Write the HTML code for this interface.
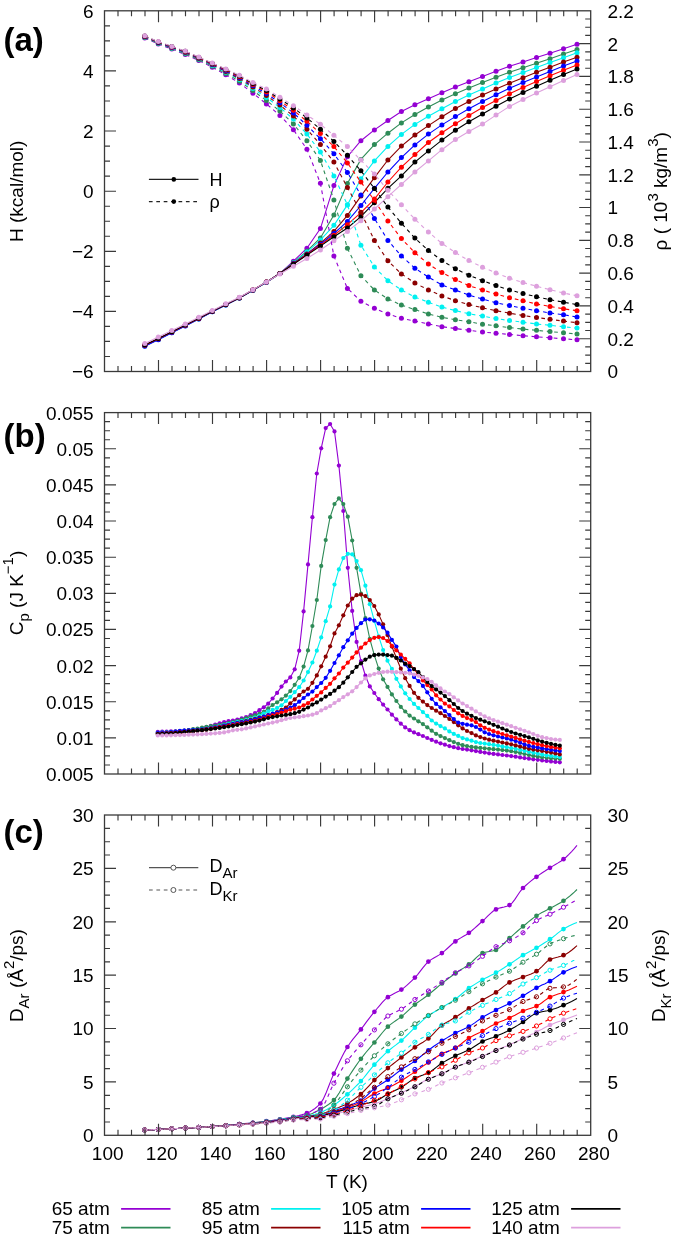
<!DOCTYPE html>
<html><head><meta charset="utf-8"><title>Figure</title>
<style>html,body{margin:0;padding:0;background:#fff;}svg{display:block;}</style>
</head><body>
<svg width="675" height="1238" viewBox="0 0 675 1238" style="font-family:'Liberation Sans',Arial,sans-serif">
<rect width="675" height="1238" fill="#fff"/>
<path d="M144.8 345.2 L158.3 338.7 L171.8 331.9 L185.3 325.2 L198.8 318.4 L212.3 311.3 L225.8 304.5 L239.4 297.8 L252.9 290.1 L266.4 282.1 L279.9 273.5 L293.4 261.2 L306.9 248.2 L320.4 228.6 L333.9 185.6 L347.4 156.7 L360.9 140.7 L374.4 129.9 L387.9 120.5 L401.4 111.5 L414.9 104.8 L428.4 98.8 L441.9 92.8 L455.4 87.1 L468.9 81.7 L482.5 76.6 L496.0 71.3 L509.5 66.3 L523.0 61.9 L536.5 57.6 L550.0 53.2 L563.5 48.8 L577.0 44.3" fill="none" stroke="#9400d3" stroke-width="1.1"/>
<circle cx="144.8" cy="345.2" r="2.5" fill="#9400d3"/>
<circle cx="158.3" cy="338.7" r="2.5" fill="#9400d3"/>
<circle cx="171.8" cy="331.9" r="2.5" fill="#9400d3"/>
<circle cx="185.3" cy="325.2" r="2.5" fill="#9400d3"/>
<circle cx="198.8" cy="318.4" r="2.5" fill="#9400d3"/>
<circle cx="212.3" cy="311.3" r="2.5" fill="#9400d3"/>
<circle cx="225.8" cy="304.5" r="2.5" fill="#9400d3"/>
<circle cx="239.4" cy="297.8" r="2.5" fill="#9400d3"/>
<circle cx="252.9" cy="290.1" r="2.5" fill="#9400d3"/>
<circle cx="266.4" cy="282.1" r="2.5" fill="#9400d3"/>
<circle cx="279.9" cy="273.5" r="2.5" fill="#9400d3"/>
<circle cx="293.4" cy="261.2" r="2.5" fill="#9400d3"/>
<circle cx="306.9" cy="248.2" r="2.5" fill="#9400d3"/>
<circle cx="320.4" cy="228.6" r="2.5" fill="#9400d3"/>
<circle cx="333.9" cy="185.6" r="2.5" fill="#9400d3"/>
<circle cx="347.4" cy="156.7" r="2.5" fill="#9400d3"/>
<circle cx="360.9" cy="140.7" r="2.5" fill="#9400d3"/>
<circle cx="374.4" cy="129.9" r="2.5" fill="#9400d3"/>
<circle cx="387.9" cy="120.5" r="2.5" fill="#9400d3"/>
<circle cx="401.4" cy="111.5" r="2.5" fill="#9400d3"/>
<circle cx="414.9" cy="104.8" r="2.5" fill="#9400d3"/>
<circle cx="428.4" cy="98.8" r="2.5" fill="#9400d3"/>
<circle cx="441.9" cy="92.8" r="2.5" fill="#9400d3"/>
<circle cx="455.4" cy="87.1" r="2.5" fill="#9400d3"/>
<circle cx="468.9" cy="81.7" r="2.5" fill="#9400d3"/>
<circle cx="482.5" cy="76.6" r="2.5" fill="#9400d3"/>
<circle cx="496.0" cy="71.3" r="2.5" fill="#9400d3"/>
<circle cx="509.5" cy="66.3" r="2.5" fill="#9400d3"/>
<circle cx="523.0" cy="61.9" r="2.5" fill="#9400d3"/>
<circle cx="536.5" cy="57.6" r="2.5" fill="#9400d3"/>
<circle cx="550.0" cy="53.2" r="2.5" fill="#9400d3"/>
<circle cx="563.5" cy="48.8" r="2.5" fill="#9400d3"/>
<circle cx="577.0" cy="44.3" r="2.5" fill="#9400d3"/>
<path d="M144.8 345.8 L158.3 339.3 L171.8 332.4 L185.3 325.6 L198.8 318.8 L212.3 311.6 L225.8 304.8 L239.4 297.9 L252.9 290.2 L266.4 282.2 L279.9 273.5 L293.4 262.4 L306.9 251.2 L320.4 238.0 L333.9 215.1 L347.4 183.5 L360.9 159.4 L374.4 144.6 L387.9 133.2 L401.4 122.9 L414.9 114.5 L428.4 107.0 L441.9 100.1 L455.4 93.7 L468.9 88.0 L482.5 82.6 L496.0 77.3 L509.5 72.3 L523.0 67.8 L536.5 63.3 L550.0 58.7 L563.5 54.1 L577.0 49.5" fill="none" stroke="#2e8b57" stroke-width="1.1"/>
<circle cx="144.8" cy="345.8" r="2.5" fill="#2e8b57"/>
<circle cx="158.3" cy="339.3" r="2.5" fill="#2e8b57"/>
<circle cx="171.8" cy="332.4" r="2.5" fill="#2e8b57"/>
<circle cx="185.3" cy="325.6" r="2.5" fill="#2e8b57"/>
<circle cx="198.8" cy="318.8" r="2.5" fill="#2e8b57"/>
<circle cx="212.3" cy="311.6" r="2.5" fill="#2e8b57"/>
<circle cx="225.8" cy="304.8" r="2.5" fill="#2e8b57"/>
<circle cx="239.4" cy="297.9" r="2.5" fill="#2e8b57"/>
<circle cx="252.9" cy="290.2" r="2.5" fill="#2e8b57"/>
<circle cx="266.4" cy="282.2" r="2.5" fill="#2e8b57"/>
<circle cx="279.9" cy="273.5" r="2.5" fill="#2e8b57"/>
<circle cx="293.4" cy="262.4" r="2.5" fill="#2e8b57"/>
<circle cx="306.9" cy="251.2" r="2.5" fill="#2e8b57"/>
<circle cx="320.4" cy="238.0" r="2.5" fill="#2e8b57"/>
<circle cx="333.9" cy="215.1" r="2.5" fill="#2e8b57"/>
<circle cx="347.4" cy="183.5" r="2.5" fill="#2e8b57"/>
<circle cx="360.9" cy="159.4" r="2.5" fill="#2e8b57"/>
<circle cx="374.4" cy="144.6" r="2.5" fill="#2e8b57"/>
<circle cx="387.9" cy="133.2" r="2.5" fill="#2e8b57"/>
<circle cx="401.4" cy="122.9" r="2.5" fill="#2e8b57"/>
<circle cx="414.9" cy="114.5" r="2.5" fill="#2e8b57"/>
<circle cx="428.4" cy="107.0" r="2.5" fill="#2e8b57"/>
<circle cx="441.9" cy="100.1" r="2.5" fill="#2e8b57"/>
<circle cx="455.4" cy="93.7" r="2.5" fill="#2e8b57"/>
<circle cx="468.9" cy="88.0" r="2.5" fill="#2e8b57"/>
<circle cx="482.5" cy="82.6" r="2.5" fill="#2e8b57"/>
<circle cx="496.0" cy="77.3" r="2.5" fill="#2e8b57"/>
<circle cx="509.5" cy="72.3" r="2.5" fill="#2e8b57"/>
<circle cx="523.0" cy="67.8" r="2.5" fill="#2e8b57"/>
<circle cx="536.5" cy="63.3" r="2.5" fill="#2e8b57"/>
<circle cx="550.0" cy="58.7" r="2.5" fill="#2e8b57"/>
<circle cx="563.5" cy="54.1" r="2.5" fill="#2e8b57"/>
<circle cx="577.0" cy="49.5" r="2.5" fill="#2e8b57"/>
<path d="M144.8 346.1 L158.3 339.5 L171.8 332.7 L185.3 325.8 L198.8 318.9 L212.3 311.8 L225.8 304.9 L239.4 298.0 L252.9 290.3 L266.4 282.2 L279.9 273.5 L293.4 262.7 L306.9 252.1 L320.4 240.1 L333.9 225.3 L347.4 204.9 L360.9 178.7 L374.4 160.9 L387.9 146.4 L401.4 134.4 L414.9 124.4 L428.4 116.3 L441.9 108.7 L455.4 101.6 L468.9 95.0 L482.5 88.9 L496.0 83.0 L509.5 77.5 L523.0 72.4 L536.5 67.5 L550.0 62.6 L563.5 57.7 L577.0 52.8" fill="none" stroke="#00f0f0" stroke-width="1.1"/>
<circle cx="144.8" cy="346.1" r="2.5" fill="#00f0f0"/>
<circle cx="158.3" cy="339.5" r="2.5" fill="#00f0f0"/>
<circle cx="171.8" cy="332.7" r="2.5" fill="#00f0f0"/>
<circle cx="185.3" cy="325.8" r="2.5" fill="#00f0f0"/>
<circle cx="198.8" cy="318.9" r="2.5" fill="#00f0f0"/>
<circle cx="212.3" cy="311.8" r="2.5" fill="#00f0f0"/>
<circle cx="225.8" cy="304.9" r="2.5" fill="#00f0f0"/>
<circle cx="239.4" cy="298.0" r="2.5" fill="#00f0f0"/>
<circle cx="252.9" cy="290.3" r="2.5" fill="#00f0f0"/>
<circle cx="266.4" cy="282.2" r="2.5" fill="#00f0f0"/>
<circle cx="279.9" cy="273.5" r="2.5" fill="#00f0f0"/>
<circle cx="293.4" cy="262.7" r="2.5" fill="#00f0f0"/>
<circle cx="306.9" cy="252.1" r="2.5" fill="#00f0f0"/>
<circle cx="320.4" cy="240.1" r="2.5" fill="#00f0f0"/>
<circle cx="333.9" cy="225.3" r="2.5" fill="#00f0f0"/>
<circle cx="347.4" cy="204.9" r="2.5" fill="#00f0f0"/>
<circle cx="360.9" cy="178.7" r="2.5" fill="#00f0f0"/>
<circle cx="374.4" cy="160.9" r="2.5" fill="#00f0f0"/>
<circle cx="387.9" cy="146.4" r="2.5" fill="#00f0f0"/>
<circle cx="401.4" cy="134.4" r="2.5" fill="#00f0f0"/>
<circle cx="414.9" cy="124.4" r="2.5" fill="#00f0f0"/>
<circle cx="428.4" cy="116.3" r="2.5" fill="#00f0f0"/>
<circle cx="441.9" cy="108.7" r="2.5" fill="#00f0f0"/>
<circle cx="455.4" cy="101.6" r="2.5" fill="#00f0f0"/>
<circle cx="468.9" cy="95.0" r="2.5" fill="#00f0f0"/>
<circle cx="482.5" cy="88.9" r="2.5" fill="#00f0f0"/>
<circle cx="496.0" cy="83.0" r="2.5" fill="#00f0f0"/>
<circle cx="509.5" cy="77.5" r="2.5" fill="#00f0f0"/>
<circle cx="523.0" cy="72.4" r="2.5" fill="#00f0f0"/>
<circle cx="536.5" cy="67.5" r="2.5" fill="#00f0f0"/>
<circle cx="550.0" cy="62.6" r="2.5" fill="#00f0f0"/>
<circle cx="563.5" cy="57.7" r="2.5" fill="#00f0f0"/>
<circle cx="577.0" cy="52.8" r="2.5" fill="#00f0f0"/>
<path d="M144.8 345.5 L158.3 339.0 L171.8 332.2 L185.3 325.4 L198.8 318.6 L212.3 311.5 L225.8 304.7 L239.4 297.9 L252.9 290.1 L266.4 282.1 L279.9 273.5 L293.4 263.3 L306.9 253.9 L320.4 243.1 L333.9 231.4 L347.4 215.4 L360.9 196.1 L374.4 177.7 L387.9 160.0 L401.4 146.1 L414.9 135.0 L428.4 125.6 L441.9 116.7 L455.4 108.5 L468.9 101.4 L482.5 94.9 L496.0 88.9 L509.5 83.2 L523.0 77.7 L536.5 72.3 L550.0 67.2 L563.5 62.1 L577.0 57.3" fill="none" stroke="#8b0000" stroke-width="1.1"/>
<circle cx="144.8" cy="345.5" r="2.5" fill="#8b0000"/>
<circle cx="158.3" cy="339.0" r="2.5" fill="#8b0000"/>
<circle cx="171.8" cy="332.2" r="2.5" fill="#8b0000"/>
<circle cx="185.3" cy="325.4" r="2.5" fill="#8b0000"/>
<circle cx="198.8" cy="318.6" r="2.5" fill="#8b0000"/>
<circle cx="212.3" cy="311.5" r="2.5" fill="#8b0000"/>
<circle cx="225.8" cy="304.7" r="2.5" fill="#8b0000"/>
<circle cx="239.4" cy="297.9" r="2.5" fill="#8b0000"/>
<circle cx="252.9" cy="290.1" r="2.5" fill="#8b0000"/>
<circle cx="266.4" cy="282.1" r="2.5" fill="#8b0000"/>
<circle cx="279.9" cy="273.5" r="2.5" fill="#8b0000"/>
<circle cx="293.4" cy="263.3" r="2.5" fill="#8b0000"/>
<circle cx="306.9" cy="253.9" r="2.5" fill="#8b0000"/>
<circle cx="320.4" cy="243.1" r="2.5" fill="#8b0000"/>
<circle cx="333.9" cy="231.4" r="2.5" fill="#8b0000"/>
<circle cx="347.4" cy="215.4" r="2.5" fill="#8b0000"/>
<circle cx="360.9" cy="196.1" r="2.5" fill="#8b0000"/>
<circle cx="374.4" cy="177.7" r="2.5" fill="#8b0000"/>
<circle cx="387.9" cy="160.0" r="2.5" fill="#8b0000"/>
<circle cx="401.4" cy="146.1" r="2.5" fill="#8b0000"/>
<circle cx="414.9" cy="135.0" r="2.5" fill="#8b0000"/>
<circle cx="428.4" cy="125.6" r="2.5" fill="#8b0000"/>
<circle cx="441.9" cy="116.7" r="2.5" fill="#8b0000"/>
<circle cx="455.4" cy="108.5" r="2.5" fill="#8b0000"/>
<circle cx="468.9" cy="101.4" r="2.5" fill="#8b0000"/>
<circle cx="482.5" cy="94.9" r="2.5" fill="#8b0000"/>
<circle cx="496.0" cy="88.9" r="2.5" fill="#8b0000"/>
<circle cx="509.5" cy="83.2" r="2.5" fill="#8b0000"/>
<circle cx="523.0" cy="77.7" r="2.5" fill="#8b0000"/>
<circle cx="536.5" cy="72.3" r="2.5" fill="#8b0000"/>
<circle cx="550.0" cy="67.2" r="2.5" fill="#8b0000"/>
<circle cx="563.5" cy="62.1" r="2.5" fill="#8b0000"/>
<circle cx="577.0" cy="57.3" r="2.5" fill="#8b0000"/>
<path d="M144.8 346.3 L158.3 339.7 L171.8 332.8 L185.3 325.9 L198.8 319.0 L212.3 311.8 L225.8 305.0 L239.4 298.1 L252.9 290.3 L266.4 282.2 L279.9 273.5 L293.4 263.6 L306.9 254.5 L320.4 244.3 L333.9 233.5 L347.4 221.4 L360.9 205.5 L374.4 188.3 L387.9 172.0 L401.4 157.6 L414.9 144.9 L428.4 134.1 L441.9 124.9 L455.4 116.6 L468.9 108.8 L482.5 101.6 L496.0 94.7 L509.5 88.3 L523.0 82.4 L536.5 76.9 L550.0 71.4 L563.5 66.1 L577.0 60.9" fill="none" stroke="#0000ff" stroke-width="1.1"/>
<circle cx="144.8" cy="346.3" r="2.5" fill="#0000ff"/>
<circle cx="158.3" cy="339.7" r="2.5" fill="#0000ff"/>
<circle cx="171.8" cy="332.8" r="2.5" fill="#0000ff"/>
<circle cx="185.3" cy="325.9" r="2.5" fill="#0000ff"/>
<circle cx="198.8" cy="319.0" r="2.5" fill="#0000ff"/>
<circle cx="212.3" cy="311.8" r="2.5" fill="#0000ff"/>
<circle cx="225.8" cy="305.0" r="2.5" fill="#0000ff"/>
<circle cx="239.4" cy="298.1" r="2.5" fill="#0000ff"/>
<circle cx="252.9" cy="290.3" r="2.5" fill="#0000ff"/>
<circle cx="266.4" cy="282.2" r="2.5" fill="#0000ff"/>
<circle cx="279.9" cy="273.5" r="2.5" fill="#0000ff"/>
<circle cx="293.4" cy="263.6" r="2.5" fill="#0000ff"/>
<circle cx="306.9" cy="254.5" r="2.5" fill="#0000ff"/>
<circle cx="320.4" cy="244.3" r="2.5" fill="#0000ff"/>
<circle cx="333.9" cy="233.5" r="2.5" fill="#0000ff"/>
<circle cx="347.4" cy="221.4" r="2.5" fill="#0000ff"/>
<circle cx="360.9" cy="205.5" r="2.5" fill="#0000ff"/>
<circle cx="374.4" cy="188.3" r="2.5" fill="#0000ff"/>
<circle cx="387.9" cy="172.0" r="2.5" fill="#0000ff"/>
<circle cx="401.4" cy="157.6" r="2.5" fill="#0000ff"/>
<circle cx="414.9" cy="144.9" r="2.5" fill="#0000ff"/>
<circle cx="428.4" cy="134.1" r="2.5" fill="#0000ff"/>
<circle cx="441.9" cy="124.9" r="2.5" fill="#0000ff"/>
<circle cx="455.4" cy="116.6" r="2.5" fill="#0000ff"/>
<circle cx="468.9" cy="108.8" r="2.5" fill="#0000ff"/>
<circle cx="482.5" cy="101.6" r="2.5" fill="#0000ff"/>
<circle cx="496.0" cy="94.7" r="2.5" fill="#0000ff"/>
<circle cx="509.5" cy="88.3" r="2.5" fill="#0000ff"/>
<circle cx="523.0" cy="82.4" r="2.5" fill="#0000ff"/>
<circle cx="536.5" cy="76.9" r="2.5" fill="#0000ff"/>
<circle cx="550.0" cy="71.4" r="2.5" fill="#0000ff"/>
<circle cx="563.5" cy="66.1" r="2.5" fill="#0000ff"/>
<circle cx="577.0" cy="60.9" r="2.5" fill="#0000ff"/>
<path d="M144.8 345.2 L158.3 338.7 L171.8 331.9 L185.3 325.2 L198.8 318.4 L212.3 311.3 L225.8 304.5 L239.4 297.8 L252.9 290.1 L266.4 282.1 L279.9 273.5 L293.4 263.9 L306.9 254.8 L320.4 245.2 L333.9 235.3 L347.4 224.7 L360.9 212.7 L374.4 199.1 L387.9 182.0 L401.4 167.2 L414.9 154.6 L428.4 142.5 L441.9 132.7 L455.4 123.8 L468.9 115.4 L482.5 107.6 L496.0 100.4 L509.5 93.7 L523.0 87.4 L536.5 81.4 L550.0 75.7 L563.5 70.2 L577.0 65.1" fill="none" stroke="#ff0000" stroke-width="1.1"/>
<circle cx="144.8" cy="345.2" r="2.5" fill="#ff0000"/>
<circle cx="158.3" cy="338.7" r="2.5" fill="#ff0000"/>
<circle cx="171.8" cy="331.9" r="2.5" fill="#ff0000"/>
<circle cx="185.3" cy="325.2" r="2.5" fill="#ff0000"/>
<circle cx="198.8" cy="318.4" r="2.5" fill="#ff0000"/>
<circle cx="212.3" cy="311.3" r="2.5" fill="#ff0000"/>
<circle cx="225.8" cy="304.5" r="2.5" fill="#ff0000"/>
<circle cx="239.4" cy="297.8" r="2.5" fill="#ff0000"/>
<circle cx="252.9" cy="290.1" r="2.5" fill="#ff0000"/>
<circle cx="266.4" cy="282.1" r="2.5" fill="#ff0000"/>
<circle cx="279.9" cy="273.5" r="2.5" fill="#ff0000"/>
<circle cx="293.4" cy="263.9" r="2.5" fill="#ff0000"/>
<circle cx="306.9" cy="254.8" r="2.5" fill="#ff0000"/>
<circle cx="320.4" cy="245.2" r="2.5" fill="#ff0000"/>
<circle cx="333.9" cy="235.3" r="2.5" fill="#ff0000"/>
<circle cx="347.4" cy="224.7" r="2.5" fill="#ff0000"/>
<circle cx="360.9" cy="212.7" r="2.5" fill="#ff0000"/>
<circle cx="374.4" cy="199.1" r="2.5" fill="#ff0000"/>
<circle cx="387.9" cy="182.0" r="2.5" fill="#ff0000"/>
<circle cx="401.4" cy="167.2" r="2.5" fill="#ff0000"/>
<circle cx="414.9" cy="154.6" r="2.5" fill="#ff0000"/>
<circle cx="428.4" cy="142.5" r="2.5" fill="#ff0000"/>
<circle cx="441.9" cy="132.7" r="2.5" fill="#ff0000"/>
<circle cx="455.4" cy="123.8" r="2.5" fill="#ff0000"/>
<circle cx="468.9" cy="115.4" r="2.5" fill="#ff0000"/>
<circle cx="482.5" cy="107.6" r="2.5" fill="#ff0000"/>
<circle cx="496.0" cy="100.4" r="2.5" fill="#ff0000"/>
<circle cx="509.5" cy="93.7" r="2.5" fill="#ff0000"/>
<circle cx="523.0" cy="87.4" r="2.5" fill="#ff0000"/>
<circle cx="536.5" cy="81.4" r="2.5" fill="#ff0000"/>
<circle cx="550.0" cy="75.7" r="2.5" fill="#ff0000"/>
<circle cx="563.5" cy="70.2" r="2.5" fill="#ff0000"/>
<circle cx="577.0" cy="65.1" r="2.5" fill="#ff0000"/>
<path d="M144.8 344.9 L158.3 338.5 L171.8 331.7 L185.3 325.0 L198.8 318.2 L212.3 311.2 L225.8 304.4 L239.4 297.7 L252.9 290.0 L266.4 282.1 L279.9 273.5 L293.4 264.2 L306.9 255.1 L320.4 246.1 L333.9 236.8 L347.4 228.0 L360.9 216.6 L374.4 202.7 L387.9 188.3 L401.4 175.9 L414.9 162.1 L428.4 150.9 L441.9 140.1 L455.4 130.2 L468.9 121.7 L482.5 113.9 L496.0 106.3 L509.5 99.1 L523.0 92.5 L536.5 86.2 L550.0 80.2 L563.5 74.5 L577.0 69.0" fill="none" stroke="#000000" stroke-width="1.1"/>
<circle cx="144.8" cy="344.9" r="2.5" fill="#000000"/>
<circle cx="158.3" cy="338.5" r="2.5" fill="#000000"/>
<circle cx="171.8" cy="331.7" r="2.5" fill="#000000"/>
<circle cx="185.3" cy="325.0" r="2.5" fill="#000000"/>
<circle cx="198.8" cy="318.2" r="2.5" fill="#000000"/>
<circle cx="212.3" cy="311.2" r="2.5" fill="#000000"/>
<circle cx="225.8" cy="304.4" r="2.5" fill="#000000"/>
<circle cx="239.4" cy="297.7" r="2.5" fill="#000000"/>
<circle cx="252.9" cy="290.0" r="2.5" fill="#000000"/>
<circle cx="266.4" cy="282.1" r="2.5" fill="#000000"/>
<circle cx="279.9" cy="273.5" r="2.5" fill="#000000"/>
<circle cx="293.4" cy="264.2" r="2.5" fill="#000000"/>
<circle cx="306.9" cy="255.1" r="2.5" fill="#000000"/>
<circle cx="320.4" cy="246.1" r="2.5" fill="#000000"/>
<circle cx="333.9" cy="236.8" r="2.5" fill="#000000"/>
<circle cx="347.4" cy="228.0" r="2.5" fill="#000000"/>
<circle cx="360.9" cy="216.6" r="2.5" fill="#000000"/>
<circle cx="374.4" cy="202.7" r="2.5" fill="#000000"/>
<circle cx="387.9" cy="188.3" r="2.5" fill="#000000"/>
<circle cx="401.4" cy="175.9" r="2.5" fill="#000000"/>
<circle cx="414.9" cy="162.1" r="2.5" fill="#000000"/>
<circle cx="428.4" cy="150.9" r="2.5" fill="#000000"/>
<circle cx="441.9" cy="140.1" r="2.5" fill="#000000"/>
<circle cx="455.4" cy="130.2" r="2.5" fill="#000000"/>
<circle cx="468.9" cy="121.7" r="2.5" fill="#000000"/>
<circle cx="482.5" cy="113.9" r="2.5" fill="#000000"/>
<circle cx="496.0" cy="106.3" r="2.5" fill="#000000"/>
<circle cx="509.5" cy="99.1" r="2.5" fill="#000000"/>
<circle cx="523.0" cy="92.5" r="2.5" fill="#000000"/>
<circle cx="536.5" cy="86.2" r="2.5" fill="#000000"/>
<circle cx="550.0" cy="80.2" r="2.5" fill="#000000"/>
<circle cx="563.5" cy="74.5" r="2.5" fill="#000000"/>
<circle cx="577.0" cy="69.0" r="2.5" fill="#000000"/>
<path d="M144.8 343.4 L158.3 337.1 L171.8 330.5 L185.3 323.9 L198.8 317.3 L212.3 310.4 L225.8 303.8 L239.4 297.2 L252.9 289.7 L266.4 281.9 L279.9 274.1 L293.4 266.3 L306.9 258.5 L320.4 250.0 L333.9 240.7 L347.4 231.4 L360.9 220.8 L374.4 209.1 L387.9 196.7 L401.4 184.4 L414.9 172.0 L428.4 160.9 L441.9 149.7 L455.4 139.5 L468.9 131.6 L482.5 124.1 L496.0 115.1 L509.5 106.4 L523.0 99.5 L536.5 93.1 L550.0 86.7 L563.5 80.5 L577.0 74.4" fill="none" stroke="#dda0dd" stroke-width="1.1"/>
<circle cx="144.8" cy="343.4" r="2.5" fill="#dda0dd"/>
<circle cx="158.3" cy="337.1" r="2.5" fill="#dda0dd"/>
<circle cx="171.8" cy="330.5" r="2.5" fill="#dda0dd"/>
<circle cx="185.3" cy="323.9" r="2.5" fill="#dda0dd"/>
<circle cx="198.8" cy="317.3" r="2.5" fill="#dda0dd"/>
<circle cx="212.3" cy="310.4" r="2.5" fill="#dda0dd"/>
<circle cx="225.8" cy="303.8" r="2.5" fill="#dda0dd"/>
<circle cx="239.4" cy="297.2" r="2.5" fill="#dda0dd"/>
<circle cx="252.9" cy="289.7" r="2.5" fill="#dda0dd"/>
<circle cx="266.4" cy="281.9" r="2.5" fill="#dda0dd"/>
<circle cx="279.9" cy="274.1" r="2.5" fill="#dda0dd"/>
<circle cx="293.4" cy="266.3" r="2.5" fill="#dda0dd"/>
<circle cx="306.9" cy="258.5" r="2.5" fill="#dda0dd"/>
<circle cx="320.4" cy="250.0" r="2.5" fill="#dda0dd"/>
<circle cx="333.9" cy="240.7" r="2.5" fill="#dda0dd"/>
<circle cx="347.4" cy="231.4" r="2.5" fill="#dda0dd"/>
<circle cx="360.9" cy="220.8" r="2.5" fill="#dda0dd"/>
<circle cx="374.4" cy="209.1" r="2.5" fill="#dda0dd"/>
<circle cx="387.9" cy="196.7" r="2.5" fill="#dda0dd"/>
<circle cx="401.4" cy="184.4" r="2.5" fill="#dda0dd"/>
<circle cx="414.9" cy="172.0" r="2.5" fill="#dda0dd"/>
<circle cx="428.4" cy="160.9" r="2.5" fill="#dda0dd"/>
<circle cx="441.9" cy="149.7" r="2.5" fill="#dda0dd"/>
<circle cx="455.4" cy="139.5" r="2.5" fill="#dda0dd"/>
<circle cx="468.9" cy="131.6" r="2.5" fill="#dda0dd"/>
<circle cx="482.5" cy="124.1" r="2.5" fill="#dda0dd"/>
<circle cx="496.0" cy="115.1" r="2.5" fill="#dda0dd"/>
<circle cx="509.5" cy="106.4" r="2.5" fill="#dda0dd"/>
<circle cx="523.0" cy="99.5" r="2.5" fill="#dda0dd"/>
<circle cx="536.5" cy="93.1" r="2.5" fill="#dda0dd"/>
<circle cx="550.0" cy="86.7" r="2.5" fill="#dda0dd"/>
<circle cx="563.5" cy="80.5" r="2.5" fill="#dda0dd"/>
<circle cx="577.0" cy="74.4" r="2.5" fill="#dda0dd"/>
<path d="M144.8 38.0 L158.3 44.1 L171.8 49.0 L185.3 54.6 L198.8 60.5 L212.3 67.3 L225.8 74.8 L239.4 83.0 L252.9 93.2 L266.4 103.9 L279.9 115.4 L293.4 129.7 L306.9 149.2 L320.4 183.3 L333.9 256.0 L347.4 288.4 L360.9 301.2 L374.4 308.3 L387.9 314.0 L401.4 318.3 L414.9 321.1 L428.4 324.0 L441.9 326.7 L455.4 328.5 L468.9 330.3 L482.5 332.1 L496.0 333.2 L509.5 334.5 L523.0 335.7 L536.5 336.8 L550.0 337.8 L563.5 338.8 L577.0 339.8" fill="none" stroke="#9400d3" stroke-width="1.1" stroke-dasharray="3.7 3.7"/>
<circle cx="144.8" cy="38.0" r="2.5" fill="#9400d3"/>
<circle cx="158.3" cy="44.1" r="2.5" fill="#9400d3"/>
<circle cx="171.8" cy="49.0" r="2.5" fill="#9400d3"/>
<circle cx="185.3" cy="54.6" r="2.5" fill="#9400d3"/>
<circle cx="198.8" cy="60.5" r="2.5" fill="#9400d3"/>
<circle cx="212.3" cy="67.3" r="2.5" fill="#9400d3"/>
<circle cx="225.8" cy="74.8" r="2.5" fill="#9400d3"/>
<circle cx="239.4" cy="83.0" r="2.5" fill="#9400d3"/>
<circle cx="252.9" cy="93.2" r="2.5" fill="#9400d3"/>
<circle cx="266.4" cy="103.9" r="2.5" fill="#9400d3"/>
<circle cx="279.9" cy="115.4" r="2.5" fill="#9400d3"/>
<circle cx="293.4" cy="129.7" r="2.5" fill="#9400d3"/>
<circle cx="306.9" cy="149.2" r="2.5" fill="#9400d3"/>
<circle cx="320.4" cy="183.3" r="2.5" fill="#9400d3"/>
<circle cx="333.9" cy="256.0" r="2.5" fill="#9400d3"/>
<circle cx="347.4" cy="288.4" r="2.5" fill="#9400d3"/>
<circle cx="360.9" cy="301.2" r="2.5" fill="#9400d3"/>
<circle cx="374.4" cy="308.3" r="2.5" fill="#9400d3"/>
<circle cx="387.9" cy="314.0" r="2.5" fill="#9400d3"/>
<circle cx="401.4" cy="318.3" r="2.5" fill="#9400d3"/>
<circle cx="414.9" cy="321.1" r="2.5" fill="#9400d3"/>
<circle cx="428.4" cy="324.0" r="2.5" fill="#9400d3"/>
<circle cx="441.9" cy="326.7" r="2.5" fill="#9400d3"/>
<circle cx="455.4" cy="328.5" r="2.5" fill="#9400d3"/>
<circle cx="468.9" cy="330.3" r="2.5" fill="#9400d3"/>
<circle cx="482.5" cy="332.1" r="2.5" fill="#9400d3"/>
<circle cx="496.0" cy="333.2" r="2.5" fill="#9400d3"/>
<circle cx="509.5" cy="334.5" r="2.5" fill="#9400d3"/>
<circle cx="523.0" cy="335.7" r="2.5" fill="#9400d3"/>
<circle cx="536.5" cy="336.8" r="2.5" fill="#9400d3"/>
<circle cx="550.0" cy="337.8" r="2.5" fill="#9400d3"/>
<circle cx="563.5" cy="338.8" r="2.5" fill="#9400d3"/>
<circle cx="577.0" cy="339.8" r="2.5" fill="#9400d3"/>
<path d="M144.8 37.5 L158.3 43.5 L171.8 48.4 L185.3 53.8 L198.8 59.7 L212.3 66.2 L225.8 73.4 L239.4 81.2 L252.9 90.6 L266.4 100.4 L279.9 111.1 L293.4 123.9 L306.9 140.7 L320.4 160.4 L333.9 200.0 L347.4 248.3 L360.9 275.7 L374.4 290.0 L387.9 298.9 L401.4 305.1 L414.9 309.6 L428.4 314.0 L441.9 317.3 L455.4 319.8 L468.9 321.7 L482.5 324.2 L496.0 325.8 L509.5 327.6 L523.0 329.1 L536.5 330.3 L550.0 331.6 L563.5 332.7 L577.0 334.1" fill="none" stroke="#2e8b57" stroke-width="1.1" stroke-dasharray="3.7 3.7"/>
<circle cx="144.8" cy="37.5" r="2.5" fill="#2e8b57"/>
<circle cx="158.3" cy="43.5" r="2.5" fill="#2e8b57"/>
<circle cx="171.8" cy="48.4" r="2.5" fill="#2e8b57"/>
<circle cx="185.3" cy="53.8" r="2.5" fill="#2e8b57"/>
<circle cx="198.8" cy="59.7" r="2.5" fill="#2e8b57"/>
<circle cx="212.3" cy="66.2" r="2.5" fill="#2e8b57"/>
<circle cx="225.8" cy="73.4" r="2.5" fill="#2e8b57"/>
<circle cx="239.4" cy="81.2" r="2.5" fill="#2e8b57"/>
<circle cx="252.9" cy="90.6" r="2.5" fill="#2e8b57"/>
<circle cx="266.4" cy="100.4" r="2.5" fill="#2e8b57"/>
<circle cx="279.9" cy="111.1" r="2.5" fill="#2e8b57"/>
<circle cx="293.4" cy="123.9" r="2.5" fill="#2e8b57"/>
<circle cx="306.9" cy="140.7" r="2.5" fill="#2e8b57"/>
<circle cx="320.4" cy="160.4" r="2.5" fill="#2e8b57"/>
<circle cx="333.9" cy="200.0" r="2.5" fill="#2e8b57"/>
<circle cx="347.4" cy="248.3" r="2.5" fill="#2e8b57"/>
<circle cx="360.9" cy="275.7" r="2.5" fill="#2e8b57"/>
<circle cx="374.4" cy="290.0" r="2.5" fill="#2e8b57"/>
<circle cx="387.9" cy="298.9" r="2.5" fill="#2e8b57"/>
<circle cx="401.4" cy="305.1" r="2.5" fill="#2e8b57"/>
<circle cx="414.9" cy="309.6" r="2.5" fill="#2e8b57"/>
<circle cx="428.4" cy="314.0" r="2.5" fill="#2e8b57"/>
<circle cx="441.9" cy="317.3" r="2.5" fill="#2e8b57"/>
<circle cx="455.4" cy="319.8" r="2.5" fill="#2e8b57"/>
<circle cx="468.9" cy="321.7" r="2.5" fill="#2e8b57"/>
<circle cx="482.5" cy="324.2" r="2.5" fill="#2e8b57"/>
<circle cx="496.0" cy="325.8" r="2.5" fill="#2e8b57"/>
<circle cx="509.5" cy="327.6" r="2.5" fill="#2e8b57"/>
<circle cx="523.0" cy="329.1" r="2.5" fill="#2e8b57"/>
<circle cx="536.5" cy="330.3" r="2.5" fill="#2e8b57"/>
<circle cx="550.0" cy="331.6" r="2.5" fill="#2e8b57"/>
<circle cx="563.5" cy="332.7" r="2.5" fill="#2e8b57"/>
<circle cx="577.0" cy="334.1" r="2.5" fill="#2e8b57"/>
<path d="M144.8 37.0 L158.3 43.0 L171.8 47.9 L185.3 53.0 L198.8 59.0 L212.3 65.4 L225.8 72.2 L239.4 79.6 L252.9 88.5 L266.4 97.4 L279.9 107.5 L293.4 119.1 L306.9 134.1 L320.4 151.9 L333.9 175.9 L347.4 204.8 L360.9 245.2 L374.4 267.0 L387.9 280.7 L401.4 290.0 L414.9 297.1 L428.4 302.2 L441.9 307.1 L455.4 310.6 L468.9 313.7 L482.5 316.1 L496.0 318.6 L509.5 320.6 L523.0 322.2 L536.5 324.0 L550.0 325.3 L563.5 326.8 L577.0 328.1" fill="none" stroke="#00f0f0" stroke-width="1.1" stroke-dasharray="3.7 3.7"/>
<circle cx="144.8" cy="37.0" r="2.5" fill="#00f0f0"/>
<circle cx="158.3" cy="43.0" r="2.5" fill="#00f0f0"/>
<circle cx="171.8" cy="47.9" r="2.5" fill="#00f0f0"/>
<circle cx="185.3" cy="53.0" r="2.5" fill="#00f0f0"/>
<circle cx="198.8" cy="59.0" r="2.5" fill="#00f0f0"/>
<circle cx="212.3" cy="65.4" r="2.5" fill="#00f0f0"/>
<circle cx="225.8" cy="72.2" r="2.5" fill="#00f0f0"/>
<circle cx="239.4" cy="79.6" r="2.5" fill="#00f0f0"/>
<circle cx="252.9" cy="88.5" r="2.5" fill="#00f0f0"/>
<circle cx="266.4" cy="97.4" r="2.5" fill="#00f0f0"/>
<circle cx="279.9" cy="107.5" r="2.5" fill="#00f0f0"/>
<circle cx="293.4" cy="119.1" r="2.5" fill="#00f0f0"/>
<circle cx="306.9" cy="134.1" r="2.5" fill="#00f0f0"/>
<circle cx="320.4" cy="151.9" r="2.5" fill="#00f0f0"/>
<circle cx="333.9" cy="175.9" r="2.5" fill="#00f0f0"/>
<circle cx="347.4" cy="204.8" r="2.5" fill="#00f0f0"/>
<circle cx="360.9" cy="245.2" r="2.5" fill="#00f0f0"/>
<circle cx="374.4" cy="267.0" r="2.5" fill="#00f0f0"/>
<circle cx="387.9" cy="280.7" r="2.5" fill="#00f0f0"/>
<circle cx="401.4" cy="290.0" r="2.5" fill="#00f0f0"/>
<circle cx="414.9" cy="297.1" r="2.5" fill="#00f0f0"/>
<circle cx="428.4" cy="302.2" r="2.5" fill="#00f0f0"/>
<circle cx="441.9" cy="307.1" r="2.5" fill="#00f0f0"/>
<circle cx="455.4" cy="310.6" r="2.5" fill="#00f0f0"/>
<circle cx="468.9" cy="313.7" r="2.5" fill="#00f0f0"/>
<circle cx="482.5" cy="316.1" r="2.5" fill="#00f0f0"/>
<circle cx="496.0" cy="318.6" r="2.5" fill="#00f0f0"/>
<circle cx="509.5" cy="320.6" r="2.5" fill="#00f0f0"/>
<circle cx="523.0" cy="322.2" r="2.5" fill="#00f0f0"/>
<circle cx="536.5" cy="324.0" r="2.5" fill="#00f0f0"/>
<circle cx="550.0" cy="325.3" r="2.5" fill="#00f0f0"/>
<circle cx="563.5" cy="326.8" r="2.5" fill="#00f0f0"/>
<circle cx="577.0" cy="328.1" r="2.5" fill="#00f0f0"/>
<path d="M144.8 36.7 L158.3 42.7 L171.8 47.5 L185.3 52.6 L198.8 58.6 L212.3 64.8 L225.8 71.5 L239.4 78.6 L252.9 87.0 L266.4 95.5 L279.9 105.1 L293.4 116.0 L306.9 129.2 L320.4 144.6 L333.9 162.1 L347.4 187.4 L360.9 212.2 L374.4 240.4 L387.9 260.8 L401.4 273.9 L414.9 283.0 L428.4 290.0 L441.9 295.9 L455.4 300.7 L468.9 304.6 L482.5 307.8 L496.0 310.7 L509.5 313.2 L523.0 315.5 L536.5 317.5 L550.0 319.3 L563.5 321.1 L577.0 322.7" fill="none" stroke="#8b0000" stroke-width="1.1" stroke-dasharray="3.7 3.7"/>
<circle cx="144.8" cy="36.7" r="2.5" fill="#8b0000"/>
<circle cx="158.3" cy="42.7" r="2.5" fill="#8b0000"/>
<circle cx="171.8" cy="47.5" r="2.5" fill="#8b0000"/>
<circle cx="185.3" cy="52.6" r="2.5" fill="#8b0000"/>
<circle cx="198.8" cy="58.6" r="2.5" fill="#8b0000"/>
<circle cx="212.3" cy="64.8" r="2.5" fill="#8b0000"/>
<circle cx="225.8" cy="71.5" r="2.5" fill="#8b0000"/>
<circle cx="239.4" cy="78.6" r="2.5" fill="#8b0000"/>
<circle cx="252.9" cy="87.0" r="2.5" fill="#8b0000"/>
<circle cx="266.4" cy="95.5" r="2.5" fill="#8b0000"/>
<circle cx="279.9" cy="105.1" r="2.5" fill="#8b0000"/>
<circle cx="293.4" cy="116.0" r="2.5" fill="#8b0000"/>
<circle cx="306.9" cy="129.2" r="2.5" fill="#8b0000"/>
<circle cx="320.4" cy="144.6" r="2.5" fill="#8b0000"/>
<circle cx="333.9" cy="162.1" r="2.5" fill="#8b0000"/>
<circle cx="347.4" cy="187.4" r="2.5" fill="#8b0000"/>
<circle cx="360.9" cy="212.2" r="2.5" fill="#8b0000"/>
<circle cx="374.4" cy="240.4" r="2.5" fill="#8b0000"/>
<circle cx="387.9" cy="260.8" r="2.5" fill="#8b0000"/>
<circle cx="401.4" cy="273.9" r="2.5" fill="#8b0000"/>
<circle cx="414.9" cy="283.0" r="2.5" fill="#8b0000"/>
<circle cx="428.4" cy="290.0" r="2.5" fill="#8b0000"/>
<circle cx="441.9" cy="295.9" r="2.5" fill="#8b0000"/>
<circle cx="455.4" cy="300.7" r="2.5" fill="#8b0000"/>
<circle cx="468.9" cy="304.6" r="2.5" fill="#8b0000"/>
<circle cx="482.5" cy="307.8" r="2.5" fill="#8b0000"/>
<circle cx="496.0" cy="310.7" r="2.5" fill="#8b0000"/>
<circle cx="509.5" cy="313.2" r="2.5" fill="#8b0000"/>
<circle cx="523.0" cy="315.5" r="2.5" fill="#8b0000"/>
<circle cx="536.5" cy="317.5" r="2.5" fill="#8b0000"/>
<circle cx="550.0" cy="319.3" r="2.5" fill="#8b0000"/>
<circle cx="563.5" cy="321.1" r="2.5" fill="#8b0000"/>
<circle cx="577.0" cy="322.7" r="2.5" fill="#8b0000"/>
<path d="M144.8 36.4 L158.3 42.4 L171.8 47.2 L185.3 52.1 L198.8 58.1 L212.3 64.3 L225.8 70.7 L239.4 77.6 L252.9 85.6 L266.4 93.6 L279.9 102.8 L293.4 112.9 L306.9 125.3 L320.4 138.7 L333.9 153.8 L347.4 172.4 L360.9 195.1 L374.4 218.4 L387.9 240.4 L401.4 256.0 L414.9 268.2 L428.4 277.1 L441.9 284.9 L455.4 290.0 L468.9 295.1 L482.5 299.1 L496.0 302.7 L509.5 305.6 L523.0 308.3 L536.5 310.7 L550.0 313.0 L563.5 314.8 L577.0 317.0" fill="none" stroke="#0000ff" stroke-width="1.1" stroke-dasharray="3.7 3.7"/>
<circle cx="144.8" cy="36.4" r="2.5" fill="#0000ff"/>
<circle cx="158.3" cy="42.4" r="2.5" fill="#0000ff"/>
<circle cx="171.8" cy="47.2" r="2.5" fill="#0000ff"/>
<circle cx="185.3" cy="52.1" r="2.5" fill="#0000ff"/>
<circle cx="198.8" cy="58.1" r="2.5" fill="#0000ff"/>
<circle cx="212.3" cy="64.3" r="2.5" fill="#0000ff"/>
<circle cx="225.8" cy="70.7" r="2.5" fill="#0000ff"/>
<circle cx="239.4" cy="77.6" r="2.5" fill="#0000ff"/>
<circle cx="252.9" cy="85.6" r="2.5" fill="#0000ff"/>
<circle cx="266.4" cy="93.6" r="2.5" fill="#0000ff"/>
<circle cx="279.9" cy="102.8" r="2.5" fill="#0000ff"/>
<circle cx="293.4" cy="112.9" r="2.5" fill="#0000ff"/>
<circle cx="306.9" cy="125.3" r="2.5" fill="#0000ff"/>
<circle cx="320.4" cy="138.7" r="2.5" fill="#0000ff"/>
<circle cx="333.9" cy="153.8" r="2.5" fill="#0000ff"/>
<circle cx="347.4" cy="172.4" r="2.5" fill="#0000ff"/>
<circle cx="360.9" cy="195.1" r="2.5" fill="#0000ff"/>
<circle cx="374.4" cy="218.4" r="2.5" fill="#0000ff"/>
<circle cx="387.9" cy="240.4" r="2.5" fill="#0000ff"/>
<circle cx="401.4" cy="256.0" r="2.5" fill="#0000ff"/>
<circle cx="414.9" cy="268.2" r="2.5" fill="#0000ff"/>
<circle cx="428.4" cy="277.1" r="2.5" fill="#0000ff"/>
<circle cx="441.9" cy="284.9" r="2.5" fill="#0000ff"/>
<circle cx="455.4" cy="290.0" r="2.5" fill="#0000ff"/>
<circle cx="468.9" cy="295.1" r="2.5" fill="#0000ff"/>
<circle cx="482.5" cy="299.1" r="2.5" fill="#0000ff"/>
<circle cx="496.0" cy="302.7" r="2.5" fill="#0000ff"/>
<circle cx="509.5" cy="305.6" r="2.5" fill="#0000ff"/>
<circle cx="523.0" cy="308.3" r="2.5" fill="#0000ff"/>
<circle cx="536.5" cy="310.7" r="2.5" fill="#0000ff"/>
<circle cx="550.0" cy="313.0" r="2.5" fill="#0000ff"/>
<circle cx="563.5" cy="314.8" r="2.5" fill="#0000ff"/>
<circle cx="577.0" cy="317.0" r="2.5" fill="#0000ff"/>
<path d="M144.8 36.2 L158.3 42.1 L171.8 46.9 L185.3 51.7 L198.8 57.7 L212.3 63.8 L225.8 70.0 L239.4 76.8 L252.9 84.4 L266.4 91.9 L279.9 100.8 L293.4 110.3 L306.9 121.3 L320.4 133.5 L333.9 146.6 L347.4 162.9 L360.9 182.1 L374.4 200.3 L387.9 220.9 L401.4 238.6 L414.9 252.7 L428.4 264.1 L441.9 272.6 L455.4 279.5 L468.9 285.6 L482.5 290.0 L496.0 294.1 L509.5 297.7 L523.0 300.7 L536.5 304.0 L550.0 306.5 L563.5 308.8 L577.0 310.7" fill="none" stroke="#ff0000" stroke-width="1.1" stroke-dasharray="3.7 3.7"/>
<circle cx="144.8" cy="36.2" r="2.5" fill="#ff0000"/>
<circle cx="158.3" cy="42.1" r="2.5" fill="#ff0000"/>
<circle cx="171.8" cy="46.9" r="2.5" fill="#ff0000"/>
<circle cx="185.3" cy="51.7" r="2.5" fill="#ff0000"/>
<circle cx="198.8" cy="57.7" r="2.5" fill="#ff0000"/>
<circle cx="212.3" cy="63.8" r="2.5" fill="#ff0000"/>
<circle cx="225.8" cy="70.0" r="2.5" fill="#ff0000"/>
<circle cx="239.4" cy="76.8" r="2.5" fill="#ff0000"/>
<circle cx="252.9" cy="84.4" r="2.5" fill="#ff0000"/>
<circle cx="266.4" cy="91.9" r="2.5" fill="#ff0000"/>
<circle cx="279.9" cy="100.8" r="2.5" fill="#ff0000"/>
<circle cx="293.4" cy="110.3" r="2.5" fill="#ff0000"/>
<circle cx="306.9" cy="121.3" r="2.5" fill="#ff0000"/>
<circle cx="320.4" cy="133.5" r="2.5" fill="#ff0000"/>
<circle cx="333.9" cy="146.6" r="2.5" fill="#ff0000"/>
<circle cx="347.4" cy="162.9" r="2.5" fill="#ff0000"/>
<circle cx="360.9" cy="182.1" r="2.5" fill="#ff0000"/>
<circle cx="374.4" cy="200.3" r="2.5" fill="#ff0000"/>
<circle cx="387.9" cy="220.9" r="2.5" fill="#ff0000"/>
<circle cx="401.4" cy="238.6" r="2.5" fill="#ff0000"/>
<circle cx="414.9" cy="252.7" r="2.5" fill="#ff0000"/>
<circle cx="428.4" cy="264.1" r="2.5" fill="#ff0000"/>
<circle cx="441.9" cy="272.6" r="2.5" fill="#ff0000"/>
<circle cx="455.4" cy="279.5" r="2.5" fill="#ff0000"/>
<circle cx="468.9" cy="285.6" r="2.5" fill="#ff0000"/>
<circle cx="482.5" cy="290.0" r="2.5" fill="#ff0000"/>
<circle cx="496.0" cy="294.1" r="2.5" fill="#ff0000"/>
<circle cx="509.5" cy="297.7" r="2.5" fill="#ff0000"/>
<circle cx="523.0" cy="300.7" r="2.5" fill="#ff0000"/>
<circle cx="536.5" cy="304.0" r="2.5" fill="#ff0000"/>
<circle cx="550.0" cy="306.5" r="2.5" fill="#ff0000"/>
<circle cx="563.5" cy="308.8" r="2.5" fill="#ff0000"/>
<circle cx="577.0" cy="310.7" r="2.5" fill="#ff0000"/>
<path d="M144.8 35.9 L158.3 41.9 L171.8 46.6 L185.3 51.3 L198.8 57.4 L212.3 63.4 L225.8 69.4 L239.4 76.0 L252.9 83.4 L266.4 90.5 L279.9 99.0 L293.4 107.9 L306.9 117.9 L320.4 129.2 L333.9 141.4 L347.4 155.3 L360.9 170.8 L374.4 188.5 L387.9 207.1 L401.4 223.2 L414.9 238.1 L428.4 250.4 L441.9 260.5 L455.4 268.8 L468.9 275.2 L482.5 280.7 L496.0 285.6 L509.5 290.0 L523.0 293.5 L536.5 296.8 L550.0 299.7 L563.5 302.2 L577.0 304.6" fill="none" stroke="#000000" stroke-width="1.1" stroke-dasharray="3.7 3.7"/>
<circle cx="144.8" cy="35.9" r="2.5" fill="#000000"/>
<circle cx="158.3" cy="41.9" r="2.5" fill="#000000"/>
<circle cx="171.8" cy="46.6" r="2.5" fill="#000000"/>
<circle cx="185.3" cy="51.3" r="2.5" fill="#000000"/>
<circle cx="198.8" cy="57.4" r="2.5" fill="#000000"/>
<circle cx="212.3" cy="63.4" r="2.5" fill="#000000"/>
<circle cx="225.8" cy="69.4" r="2.5" fill="#000000"/>
<circle cx="239.4" cy="76.0" r="2.5" fill="#000000"/>
<circle cx="252.9" cy="83.4" r="2.5" fill="#000000"/>
<circle cx="266.4" cy="90.5" r="2.5" fill="#000000"/>
<circle cx="279.9" cy="99.0" r="2.5" fill="#000000"/>
<circle cx="293.4" cy="107.9" r="2.5" fill="#000000"/>
<circle cx="306.9" cy="117.9" r="2.5" fill="#000000"/>
<circle cx="320.4" cy="129.2" r="2.5" fill="#000000"/>
<circle cx="333.9" cy="141.4" r="2.5" fill="#000000"/>
<circle cx="347.4" cy="155.3" r="2.5" fill="#000000"/>
<circle cx="360.9" cy="170.8" r="2.5" fill="#000000"/>
<circle cx="374.4" cy="188.5" r="2.5" fill="#000000"/>
<circle cx="387.9" cy="207.1" r="2.5" fill="#000000"/>
<circle cx="401.4" cy="223.2" r="2.5" fill="#000000"/>
<circle cx="414.9" cy="238.1" r="2.5" fill="#000000"/>
<circle cx="428.4" cy="250.4" r="2.5" fill="#000000"/>
<circle cx="441.9" cy="260.5" r="2.5" fill="#000000"/>
<circle cx="455.4" cy="268.8" r="2.5" fill="#000000"/>
<circle cx="468.9" cy="275.2" r="2.5" fill="#000000"/>
<circle cx="482.5" cy="280.7" r="2.5" fill="#000000"/>
<circle cx="496.0" cy="285.6" r="2.5" fill="#000000"/>
<circle cx="509.5" cy="290.0" r="2.5" fill="#000000"/>
<circle cx="523.0" cy="293.5" r="2.5" fill="#000000"/>
<circle cx="536.5" cy="296.8" r="2.5" fill="#000000"/>
<circle cx="550.0" cy="299.7" r="2.5" fill="#000000"/>
<circle cx="563.5" cy="302.2" r="2.5" fill="#000000"/>
<circle cx="577.0" cy="304.6" r="2.5" fill="#000000"/>
<path d="M144.8 35.7 L158.3 41.6 L171.8 46.4 L185.3 51.0 L198.8 57.1 L212.3 63.0 L225.8 68.9 L239.4 75.3 L252.9 82.4 L266.4 89.1 L279.9 97.3 L293.4 105.7 L306.9 114.9 L320.4 124.3 L333.9 135.3 L347.4 146.6 L360.9 160.1 L374.4 174.1 L387.9 190.3 L401.4 204.8 L414.9 219.2 L428.4 232.0 L441.9 243.4 L455.4 252.6 L468.9 260.6 L482.5 267.2 L496.0 272.9 L509.5 278.2 L523.0 282.6 L536.5 286.2 L550.0 289.7 L563.5 293.0 L577.0 295.8" fill="none" stroke="#dda0dd" stroke-width="1.1" stroke-dasharray="3.7 3.7"/>
<circle cx="144.8" cy="35.7" r="2.5" fill="#dda0dd"/>
<circle cx="158.3" cy="41.6" r="2.5" fill="#dda0dd"/>
<circle cx="171.8" cy="46.4" r="2.5" fill="#dda0dd"/>
<circle cx="185.3" cy="51.0" r="2.5" fill="#dda0dd"/>
<circle cx="198.8" cy="57.1" r="2.5" fill="#dda0dd"/>
<circle cx="212.3" cy="63.0" r="2.5" fill="#dda0dd"/>
<circle cx="225.8" cy="68.9" r="2.5" fill="#dda0dd"/>
<circle cx="239.4" cy="75.3" r="2.5" fill="#dda0dd"/>
<circle cx="252.9" cy="82.4" r="2.5" fill="#dda0dd"/>
<circle cx="266.4" cy="89.1" r="2.5" fill="#dda0dd"/>
<circle cx="279.9" cy="97.3" r="2.5" fill="#dda0dd"/>
<circle cx="293.4" cy="105.7" r="2.5" fill="#dda0dd"/>
<circle cx="306.9" cy="114.9" r="2.5" fill="#dda0dd"/>
<circle cx="320.4" cy="124.3" r="2.5" fill="#dda0dd"/>
<circle cx="333.9" cy="135.3" r="2.5" fill="#dda0dd"/>
<circle cx="347.4" cy="146.6" r="2.5" fill="#dda0dd"/>
<circle cx="360.9" cy="160.1" r="2.5" fill="#dda0dd"/>
<circle cx="374.4" cy="174.1" r="2.5" fill="#dda0dd"/>
<circle cx="387.9" cy="190.3" r="2.5" fill="#dda0dd"/>
<circle cx="401.4" cy="204.8" r="2.5" fill="#dda0dd"/>
<circle cx="414.9" cy="219.2" r="2.5" fill="#dda0dd"/>
<circle cx="428.4" cy="232.0" r="2.5" fill="#dda0dd"/>
<circle cx="441.9" cy="243.4" r="2.5" fill="#dda0dd"/>
<circle cx="455.4" cy="252.6" r="2.5" fill="#dda0dd"/>
<circle cx="468.9" cy="260.6" r="2.5" fill="#dda0dd"/>
<circle cx="482.5" cy="267.2" r="2.5" fill="#dda0dd"/>
<circle cx="496.0" cy="272.9" r="2.5" fill="#dda0dd"/>
<circle cx="509.5" cy="278.2" r="2.5" fill="#dda0dd"/>
<circle cx="523.0" cy="282.6" r="2.5" fill="#dda0dd"/>
<circle cx="536.5" cy="286.2" r="2.5" fill="#dda0dd"/>
<circle cx="550.0" cy="289.7" r="2.5" fill="#dda0dd"/>
<circle cx="563.5" cy="293.0" r="2.5" fill="#dda0dd"/>
<circle cx="577.0" cy="295.8" r="2.5" fill="#dda0dd"/>
<rect x="104.5" y="10.8" width="486.2" height="360.7" fill="none" stroke="#3a3a3a" stroke-width="1.3"/>
<path d="M118.0 371.5v-5.5M118.0 10.8v5.5M131.5 371.5v-5.5M131.5 10.8v5.5M145.0 371.5v-5.5M145.0 10.8v5.5M158.5 371.5v-11.5M158.5 10.8v11.5M172.0 371.5v-5.5M172.0 10.8v5.5M185.5 371.5v-5.5M185.5 10.8v5.5M199.0 371.5v-5.5M199.0 10.8v5.5M212.5 371.5v-11.5M212.5 10.8v11.5M226.1 371.5v-5.5M226.1 10.8v5.5M239.6 371.5v-5.5M239.6 10.8v5.5M253.1 371.5v-5.5M253.1 10.8v5.5M266.6 371.5v-11.5M266.6 10.8v11.5M280.1 371.5v-5.5M280.1 10.8v5.5M293.6 371.5v-5.5M293.6 10.8v5.5M307.1 371.5v-5.5M307.1 10.8v5.5M320.6 371.5v-11.5M320.6 10.8v11.5M334.1 371.5v-5.5M334.1 10.8v5.5M347.6 371.5v-5.5M347.6 10.8v5.5M361.1 371.5v-5.5M361.1 10.8v5.5M374.6 371.5v-11.5M374.6 10.8v11.5M388.1 371.5v-5.5M388.1 10.8v5.5M401.6 371.5v-5.5M401.6 10.8v5.5M415.1 371.5v-5.5M415.1 10.8v5.5M428.6 371.5v-11.5M428.6 10.8v11.5M442.1 371.5v-5.5M442.1 10.8v5.5M455.6 371.5v-5.5M455.6 10.8v5.5M469.1 371.5v-5.5M469.1 10.8v5.5M482.7 371.5v-11.5M482.7 10.8v11.5M496.2 371.5v-5.5M496.2 10.8v5.5M509.7 371.5v-5.5M509.7 10.8v5.5M523.2 371.5v-5.5M523.2 10.8v5.5M536.7 371.5v-11.5M536.7 10.8v11.5M550.2 371.5v-5.5M550.2 10.8v5.5M563.7 371.5v-5.5M563.7 10.8v5.5M577.2 371.5v-5.5M577.2 10.8v5.5" stroke="#3a3a3a" stroke-width="1.15" fill="none"/>
<path d="M104.5 356.5h5.5M104.5 341.4h5.5M104.5 326.4h5.5M104.5 311.4h11.5M104.5 296.4h5.5M104.5 281.3h5.5M104.5 266.3h5.5M104.5 251.3h11.5M104.5 236.2h5.5M104.5 221.2h5.5M104.5 206.2h5.5M104.5 191.2h11.5M104.5 176.1h5.5M104.5 161.1h5.5M104.5 146.1h5.5M104.5 131.0h11.5M104.5 116.0h5.5M104.5 101.0h5.5M104.5 85.9h5.5M104.5 70.9h11.5M104.5 55.9h5.5M104.5 40.9h5.5M104.5 25.8h5.5" stroke="#3a3a3a" stroke-width="1.15" fill="none"/>
<path d="M590.7 363.3h-5.5M590.7 355.1h-5.5M590.7 346.9h-5.5M590.7 338.7h-11.5M590.7 330.5h-5.5M590.7 322.3h-5.5M590.7 314.1h-5.5M590.7 305.9h-11.5M590.7 297.7h-5.5M590.7 289.5h-5.5M590.7 281.3h-5.5M590.7 273.1h-11.5M590.7 264.9h-5.5M590.7 256.7h-5.5M590.7 248.5h-5.5M590.7 240.3h-11.5M590.7 232.1h-5.5M590.7 223.9h-5.5M590.7 215.7h-5.5M590.7 207.5h-11.5M590.7 199.3h-5.5M590.7 191.2h-5.5M590.7 183.0h-5.5M590.7 174.8h-11.5M590.7 166.6h-5.5M590.7 158.4h-5.5M590.7 150.2h-5.5M590.7 142.0h-11.5M590.7 133.8h-5.5M590.7 125.6h-5.5M590.7 117.4h-5.5M590.7 109.2h-11.5M590.7 101.0h-5.5M590.7 92.8h-5.5M590.7 84.6h-5.5M590.7 76.4h-11.5M590.7 68.2h-5.5M590.7 60.0h-5.5M590.7 51.8h-5.5M590.7 43.6h-11.5M590.7 35.4h-5.5M590.7 27.2h-5.5M590.7 19.0h-5.5" stroke="#3a3a3a" stroke-width="1.15" fill="none"/>
<text x="93.6" y="378.4" text-anchor="end" font-size="19">&#8722;6</text>
<text x="93.6" y="318.3" text-anchor="end" font-size="19">&#8722;4</text>
<text x="93.6" y="258.2" text-anchor="end" font-size="19">&#8722;2</text>
<text x="93.6" y="198.1" text-anchor="end" font-size="19">0</text>
<text x="93.6" y="137.9" text-anchor="end" font-size="19">2</text>
<text x="93.6" y="77.8" text-anchor="end" font-size="19">4</text>
<text x="93.6" y="17.7" text-anchor="end" font-size="19">6</text>
<text x="607.5" y="378.4" text-anchor="start" font-size="19">0</text>
<text x="607.5" y="345.6" text-anchor="start" font-size="19">0.2</text>
<text x="607.5" y="312.8" text-anchor="start" font-size="19">0.4</text>
<text x="607.5" y="280.0" text-anchor="start" font-size="19">0.6</text>
<text x="607.5" y="247.2" text-anchor="start" font-size="19">0.8</text>
<text x="607.5" y="214.4" text-anchor="start" font-size="19">1</text>
<text x="607.5" y="181.7" text-anchor="start" font-size="19">1.2</text>
<text x="607.5" y="148.9" text-anchor="start" font-size="19">1.4</text>
<text x="607.5" y="116.1" text-anchor="start" font-size="19">1.6</text>
<text x="607.5" y="83.3" text-anchor="start" font-size="19">1.8</text>
<text x="607.5" y="50.5" text-anchor="start" font-size="19">2</text>
<text x="607.5" y="17.7" text-anchor="start" font-size="19">2.2</text>
<path d="M148.9 179.4H198.5" stroke="#222" stroke-width="1.2"/>
<circle cx="173.8" cy="179.4" r="2.3" fill="#000"/>
<path d="M148.9 201.6H198.5" stroke="#222" stroke-width="1.2" stroke-dasharray="3.7 3.7"/>
<circle cx="173.8" cy="201.6" r="2.3" fill="#000"/>
<text x="209.5" y="185.5" text-anchor="start" font-size="18">H</text>
<text x="209.5" y="207.6" text-anchor="start" font-size="18">&#961;</text>
<text x="3.5" y="50.5" font-size="33" font-weight="bold">(a)</text>
<text transform="translate(23.1,191.3) rotate(-90)" text-anchor="middle" font-size="19">H (kcal/mol)</text>
<text transform="translate(667.0,191.3) rotate(-90)" text-anchor="middle" font-size="19">&#961; ( 10<tspan dy="-9" font-size="15">3</tspan><tspan dy="9"> kg/m</tspan><tspan dy="-9" font-size="15">3</tspan><tspan dy="9">)</tspan></text>
<path d="M157.8 731.8 L162.2 731.7 L166.6 731.6 L171.0 731.4 L175.5 731.3 L179.9 731.0 L184.3 730.6 L188.7 730.1 L193.1 729.5 L197.5 729.0 L202.0 728.2 L206.4 727.1 L210.8 725.9 L215.2 724.6 L219.6 723.3 L224.1 722.1 L228.5 721.2 L232.9 720.6 L237.3 719.6 L241.7 718.4 L246.1 717.0 L250.6 715.2 L255.0 713.2 L259.4 710.2 L263.8 707.3 L268.2 703.7 L272.6 698.5 L277.1 692.9 L281.5 686.6 L285.9 681.5 L290.3 677.4 L294.7 669.3 L299.2 650.7 L303.6 611.4 L308.0 564.4 L312.4 517.2 L316.8 473.5 L321.2 448.3 L325.7 428.1 L330.1 424.0 L334.5 431.4 L338.9 465.6 L343.3 511.0 L347.8 567.8 L352.2 610.9 L356.6 641.9 L361.0 661.0 L365.4 675.7 L369.8 686.4 L374.3 693.0 L378.7 699.2 L383.1 704.6 L387.5 709.5 L391.9 714.7 L396.4 719.4 L400.8 723.7 L405.2 727.4 L409.6 730.2 L414.0 732.4 L418.4 734.2 L422.9 736.0 L427.3 738.0 L431.7 739.9 L436.1 741.7 L440.5 743.3 L444.9 744.7 L449.4 746.1 L453.8 747.2 L458.2 748.2 L462.6 749.0 L467.0 749.6 L471.5 750.3 L475.9 751.1 L480.3 751.9 L484.7 752.6 L489.1 753.3 L493.5 753.9 L498.0 754.4 L502.4 755.0 L506.8 755.5 L511.2 756.1 L515.6 756.7 L520.1 757.4 L524.5 758.1 L528.9 758.7 L533.3 759.3 L537.7 759.8 L542.1 760.4 L546.6 760.9 L551.0 761.4 L555.4 761.9 L559.8 762.3" fill="none" stroke="#9400d3" stroke-width="1.1"/>
<circle cx="157.8" cy="731.8" r="2.1" fill="#9400d3"/>
<circle cx="162.2" cy="731.7" r="2.1" fill="#9400d3"/>
<circle cx="166.6" cy="731.6" r="2.1" fill="#9400d3"/>
<circle cx="171.0" cy="731.4" r="2.1" fill="#9400d3"/>
<circle cx="175.5" cy="731.3" r="2.1" fill="#9400d3"/>
<circle cx="179.9" cy="731.0" r="2.1" fill="#9400d3"/>
<circle cx="184.3" cy="730.6" r="2.1" fill="#9400d3"/>
<circle cx="188.7" cy="730.1" r="2.1" fill="#9400d3"/>
<circle cx="193.1" cy="729.5" r="2.1" fill="#9400d3"/>
<circle cx="197.5" cy="729.0" r="2.1" fill="#9400d3"/>
<circle cx="202.0" cy="728.2" r="2.1" fill="#9400d3"/>
<circle cx="206.4" cy="727.1" r="2.1" fill="#9400d3"/>
<circle cx="210.8" cy="725.9" r="2.1" fill="#9400d3"/>
<circle cx="215.2" cy="724.6" r="2.1" fill="#9400d3"/>
<circle cx="219.6" cy="723.3" r="2.1" fill="#9400d3"/>
<circle cx="224.1" cy="722.1" r="2.1" fill="#9400d3"/>
<circle cx="228.5" cy="721.2" r="2.1" fill="#9400d3"/>
<circle cx="232.9" cy="720.6" r="2.1" fill="#9400d3"/>
<circle cx="237.3" cy="719.6" r="2.1" fill="#9400d3"/>
<circle cx="241.7" cy="718.4" r="2.1" fill="#9400d3"/>
<circle cx="246.1" cy="717.0" r="2.1" fill="#9400d3"/>
<circle cx="250.6" cy="715.2" r="2.1" fill="#9400d3"/>
<circle cx="255.0" cy="713.2" r="2.1" fill="#9400d3"/>
<circle cx="259.4" cy="710.2" r="2.1" fill="#9400d3"/>
<circle cx="263.8" cy="707.3" r="2.1" fill="#9400d3"/>
<circle cx="268.2" cy="703.7" r="2.1" fill="#9400d3"/>
<circle cx="272.6" cy="698.5" r="2.1" fill="#9400d3"/>
<circle cx="277.1" cy="692.9" r="2.1" fill="#9400d3"/>
<circle cx="281.5" cy="686.6" r="2.1" fill="#9400d3"/>
<circle cx="285.9" cy="681.5" r="2.1" fill="#9400d3"/>
<circle cx="290.3" cy="677.4" r="2.1" fill="#9400d3"/>
<circle cx="294.7" cy="669.3" r="2.1" fill="#9400d3"/>
<circle cx="299.2" cy="650.7" r="2.1" fill="#9400d3"/>
<circle cx="303.6" cy="611.4" r="2.1" fill="#9400d3"/>
<circle cx="308.0" cy="564.4" r="2.1" fill="#9400d3"/>
<circle cx="312.4" cy="517.2" r="2.1" fill="#9400d3"/>
<circle cx="316.8" cy="473.5" r="2.1" fill="#9400d3"/>
<circle cx="321.2" cy="448.3" r="2.1" fill="#9400d3"/>
<circle cx="325.7" cy="428.1" r="2.1" fill="#9400d3"/>
<circle cx="330.1" cy="424.0" r="2.1" fill="#9400d3"/>
<circle cx="334.5" cy="431.4" r="2.1" fill="#9400d3"/>
<circle cx="338.9" cy="465.6" r="2.1" fill="#9400d3"/>
<circle cx="343.3" cy="511.0" r="2.1" fill="#9400d3"/>
<circle cx="347.8" cy="567.8" r="2.1" fill="#9400d3"/>
<circle cx="352.2" cy="610.9" r="2.1" fill="#9400d3"/>
<circle cx="356.6" cy="641.9" r="2.1" fill="#9400d3"/>
<circle cx="361.0" cy="661.0" r="2.1" fill="#9400d3"/>
<circle cx="365.4" cy="675.7" r="2.1" fill="#9400d3"/>
<circle cx="369.8" cy="686.4" r="2.1" fill="#9400d3"/>
<circle cx="374.3" cy="693.0" r="2.1" fill="#9400d3"/>
<circle cx="378.7" cy="699.2" r="2.1" fill="#9400d3"/>
<circle cx="383.1" cy="704.6" r="2.1" fill="#9400d3"/>
<circle cx="387.5" cy="709.5" r="2.1" fill="#9400d3"/>
<circle cx="391.9" cy="714.7" r="2.1" fill="#9400d3"/>
<circle cx="396.4" cy="719.4" r="2.1" fill="#9400d3"/>
<circle cx="400.8" cy="723.7" r="2.1" fill="#9400d3"/>
<circle cx="405.2" cy="727.4" r="2.1" fill="#9400d3"/>
<circle cx="409.6" cy="730.2" r="2.1" fill="#9400d3"/>
<circle cx="414.0" cy="732.4" r="2.1" fill="#9400d3"/>
<circle cx="418.4" cy="734.2" r="2.1" fill="#9400d3"/>
<circle cx="422.9" cy="736.0" r="2.1" fill="#9400d3"/>
<circle cx="427.3" cy="738.0" r="2.1" fill="#9400d3"/>
<circle cx="431.7" cy="739.9" r="2.1" fill="#9400d3"/>
<circle cx="436.1" cy="741.7" r="2.1" fill="#9400d3"/>
<circle cx="440.5" cy="743.3" r="2.1" fill="#9400d3"/>
<circle cx="444.9" cy="744.7" r="2.1" fill="#9400d3"/>
<circle cx="449.4" cy="746.1" r="2.1" fill="#9400d3"/>
<circle cx="453.8" cy="747.2" r="2.1" fill="#9400d3"/>
<circle cx="458.2" cy="748.2" r="2.1" fill="#9400d3"/>
<circle cx="462.6" cy="749.0" r="2.1" fill="#9400d3"/>
<circle cx="467.0" cy="749.6" r="2.1" fill="#9400d3"/>
<circle cx="471.5" cy="750.3" r="2.1" fill="#9400d3"/>
<circle cx="475.9" cy="751.1" r="2.1" fill="#9400d3"/>
<circle cx="480.3" cy="751.9" r="2.1" fill="#9400d3"/>
<circle cx="484.7" cy="752.6" r="2.1" fill="#9400d3"/>
<circle cx="489.1" cy="753.3" r="2.1" fill="#9400d3"/>
<circle cx="493.5" cy="753.9" r="2.1" fill="#9400d3"/>
<circle cx="498.0" cy="754.4" r="2.1" fill="#9400d3"/>
<circle cx="502.4" cy="755.0" r="2.1" fill="#9400d3"/>
<circle cx="506.8" cy="755.5" r="2.1" fill="#9400d3"/>
<circle cx="511.2" cy="756.1" r="2.1" fill="#9400d3"/>
<circle cx="515.6" cy="756.7" r="2.1" fill="#9400d3"/>
<circle cx="520.1" cy="757.4" r="2.1" fill="#9400d3"/>
<circle cx="524.5" cy="758.1" r="2.1" fill="#9400d3"/>
<circle cx="528.9" cy="758.7" r="2.1" fill="#9400d3"/>
<circle cx="533.3" cy="759.3" r="2.1" fill="#9400d3"/>
<circle cx="537.7" cy="759.8" r="2.1" fill="#9400d3"/>
<circle cx="542.1" cy="760.4" r="2.1" fill="#9400d3"/>
<circle cx="546.6" cy="760.9" r="2.1" fill="#9400d3"/>
<circle cx="551.0" cy="761.4" r="2.1" fill="#9400d3"/>
<circle cx="555.4" cy="761.9" r="2.1" fill="#9400d3"/>
<circle cx="559.8" cy="762.3" r="2.1" fill="#9400d3"/>
<path d="M157.8 732.8 L162.2 732.6 L166.6 732.3 L171.0 732.0 L175.5 731.6 L179.9 731.1 L184.3 730.6 L188.7 730.0 L193.1 729.2 L197.5 728.5 L202.0 727.7 L206.4 726.9 L210.8 726.2 L215.2 725.5 L219.6 724.8 L224.1 724.0 L228.5 723.2 L232.9 722.2 L237.3 721.0 L241.7 719.7 L246.1 718.2 L250.6 716.7 L255.0 715.3 L259.4 713.8 L263.8 711.8 L268.2 708.4 L272.6 705.0 L277.1 702.3 L281.5 699.3 L285.9 695.6 L290.3 691.1 L294.7 684.8 L299.2 677.8 L303.6 666.6 L308.0 650.4 L312.4 626.0 L316.8 600.0 L321.2 565.9 L325.7 540.1 L330.1 517.2 L334.5 504.0 L338.9 498.4 L343.3 504.1 L347.8 516.7 L352.2 540.5 L356.6 567.8 L361.0 593.7 L365.4 618.2 L369.8 638.8 L374.3 655.1 L378.7 668.6 L383.1 679.3 L387.5 686.9 L391.9 694.4 L396.4 701.0 L400.8 706.9 L405.2 711.5 L409.6 715.6 L414.0 718.5 L418.4 721.3 L422.9 724.1 L427.3 727.3 L431.7 730.7 L436.1 733.8 L440.5 736.1 L444.9 738.1 L449.4 740.2 L453.8 742.1 L458.2 743.8 L462.6 745.2 L467.0 746.1 L471.5 746.9 L475.9 747.4 L480.3 747.9 L484.7 748.3 L489.1 748.8 L493.5 749.2 L498.0 749.6 L502.4 750.1 L506.8 750.6 L511.2 751.2 L515.6 751.9 L520.1 752.9 L524.5 754.0 L528.9 755.0 L533.3 755.9 L537.7 756.6 L542.1 757.3 L546.6 757.7 L551.0 758.2 L555.4 758.5 L559.8 758.8" fill="none" stroke="#2e8b57" stroke-width="1.1"/>
<circle cx="157.8" cy="732.8" r="2.1" fill="#2e8b57"/>
<circle cx="162.2" cy="732.6" r="2.1" fill="#2e8b57"/>
<circle cx="166.6" cy="732.3" r="2.1" fill="#2e8b57"/>
<circle cx="171.0" cy="732.0" r="2.1" fill="#2e8b57"/>
<circle cx="175.5" cy="731.6" r="2.1" fill="#2e8b57"/>
<circle cx="179.9" cy="731.1" r="2.1" fill="#2e8b57"/>
<circle cx="184.3" cy="730.6" r="2.1" fill="#2e8b57"/>
<circle cx="188.7" cy="730.0" r="2.1" fill="#2e8b57"/>
<circle cx="193.1" cy="729.2" r="2.1" fill="#2e8b57"/>
<circle cx="197.5" cy="728.5" r="2.1" fill="#2e8b57"/>
<circle cx="202.0" cy="727.7" r="2.1" fill="#2e8b57"/>
<circle cx="206.4" cy="726.9" r="2.1" fill="#2e8b57"/>
<circle cx="210.8" cy="726.2" r="2.1" fill="#2e8b57"/>
<circle cx="215.2" cy="725.5" r="2.1" fill="#2e8b57"/>
<circle cx="219.6" cy="724.8" r="2.1" fill="#2e8b57"/>
<circle cx="224.1" cy="724.0" r="2.1" fill="#2e8b57"/>
<circle cx="228.5" cy="723.2" r="2.1" fill="#2e8b57"/>
<circle cx="232.9" cy="722.2" r="2.1" fill="#2e8b57"/>
<circle cx="237.3" cy="721.0" r="2.1" fill="#2e8b57"/>
<circle cx="241.7" cy="719.7" r="2.1" fill="#2e8b57"/>
<circle cx="246.1" cy="718.2" r="2.1" fill="#2e8b57"/>
<circle cx="250.6" cy="716.7" r="2.1" fill="#2e8b57"/>
<circle cx="255.0" cy="715.3" r="2.1" fill="#2e8b57"/>
<circle cx="259.4" cy="713.8" r="2.1" fill="#2e8b57"/>
<circle cx="263.8" cy="711.8" r="2.1" fill="#2e8b57"/>
<circle cx="268.2" cy="708.4" r="2.1" fill="#2e8b57"/>
<circle cx="272.6" cy="705.0" r="2.1" fill="#2e8b57"/>
<circle cx="277.1" cy="702.3" r="2.1" fill="#2e8b57"/>
<circle cx="281.5" cy="699.3" r="2.1" fill="#2e8b57"/>
<circle cx="285.9" cy="695.6" r="2.1" fill="#2e8b57"/>
<circle cx="290.3" cy="691.1" r="2.1" fill="#2e8b57"/>
<circle cx="294.7" cy="684.8" r="2.1" fill="#2e8b57"/>
<circle cx="299.2" cy="677.8" r="2.1" fill="#2e8b57"/>
<circle cx="303.6" cy="666.6" r="2.1" fill="#2e8b57"/>
<circle cx="308.0" cy="650.4" r="2.1" fill="#2e8b57"/>
<circle cx="312.4" cy="626.0" r="2.1" fill="#2e8b57"/>
<circle cx="316.8" cy="600.0" r="2.1" fill="#2e8b57"/>
<circle cx="321.2" cy="565.9" r="2.1" fill="#2e8b57"/>
<circle cx="325.7" cy="540.1" r="2.1" fill="#2e8b57"/>
<circle cx="330.1" cy="517.2" r="2.1" fill="#2e8b57"/>
<circle cx="334.5" cy="504.0" r="2.1" fill="#2e8b57"/>
<circle cx="338.9" cy="498.4" r="2.1" fill="#2e8b57"/>
<circle cx="343.3" cy="504.1" r="2.1" fill="#2e8b57"/>
<circle cx="347.8" cy="516.7" r="2.1" fill="#2e8b57"/>
<circle cx="352.2" cy="540.5" r="2.1" fill="#2e8b57"/>
<circle cx="356.6" cy="567.8" r="2.1" fill="#2e8b57"/>
<circle cx="361.0" cy="593.7" r="2.1" fill="#2e8b57"/>
<circle cx="365.4" cy="618.2" r="2.1" fill="#2e8b57"/>
<circle cx="369.8" cy="638.8" r="2.1" fill="#2e8b57"/>
<circle cx="374.3" cy="655.1" r="2.1" fill="#2e8b57"/>
<circle cx="378.7" cy="668.6" r="2.1" fill="#2e8b57"/>
<circle cx="383.1" cy="679.3" r="2.1" fill="#2e8b57"/>
<circle cx="387.5" cy="686.9" r="2.1" fill="#2e8b57"/>
<circle cx="391.9" cy="694.4" r="2.1" fill="#2e8b57"/>
<circle cx="396.4" cy="701.0" r="2.1" fill="#2e8b57"/>
<circle cx="400.8" cy="706.9" r="2.1" fill="#2e8b57"/>
<circle cx="405.2" cy="711.5" r="2.1" fill="#2e8b57"/>
<circle cx="409.6" cy="715.6" r="2.1" fill="#2e8b57"/>
<circle cx="414.0" cy="718.5" r="2.1" fill="#2e8b57"/>
<circle cx="418.4" cy="721.3" r="2.1" fill="#2e8b57"/>
<circle cx="422.9" cy="724.1" r="2.1" fill="#2e8b57"/>
<circle cx="427.3" cy="727.3" r="2.1" fill="#2e8b57"/>
<circle cx="431.7" cy="730.7" r="2.1" fill="#2e8b57"/>
<circle cx="436.1" cy="733.8" r="2.1" fill="#2e8b57"/>
<circle cx="440.5" cy="736.1" r="2.1" fill="#2e8b57"/>
<circle cx="444.9" cy="738.1" r="2.1" fill="#2e8b57"/>
<circle cx="449.4" cy="740.2" r="2.1" fill="#2e8b57"/>
<circle cx="453.8" cy="742.1" r="2.1" fill="#2e8b57"/>
<circle cx="458.2" cy="743.8" r="2.1" fill="#2e8b57"/>
<circle cx="462.6" cy="745.2" r="2.1" fill="#2e8b57"/>
<circle cx="467.0" cy="746.1" r="2.1" fill="#2e8b57"/>
<circle cx="471.5" cy="746.9" r="2.1" fill="#2e8b57"/>
<circle cx="475.9" cy="747.4" r="2.1" fill="#2e8b57"/>
<circle cx="480.3" cy="747.9" r="2.1" fill="#2e8b57"/>
<circle cx="484.7" cy="748.3" r="2.1" fill="#2e8b57"/>
<circle cx="489.1" cy="748.8" r="2.1" fill="#2e8b57"/>
<circle cx="493.5" cy="749.2" r="2.1" fill="#2e8b57"/>
<circle cx="498.0" cy="749.6" r="2.1" fill="#2e8b57"/>
<circle cx="502.4" cy="750.1" r="2.1" fill="#2e8b57"/>
<circle cx="506.8" cy="750.6" r="2.1" fill="#2e8b57"/>
<circle cx="511.2" cy="751.2" r="2.1" fill="#2e8b57"/>
<circle cx="515.6" cy="751.9" r="2.1" fill="#2e8b57"/>
<circle cx="520.1" cy="752.9" r="2.1" fill="#2e8b57"/>
<circle cx="524.5" cy="754.0" r="2.1" fill="#2e8b57"/>
<circle cx="528.9" cy="755.0" r="2.1" fill="#2e8b57"/>
<circle cx="533.3" cy="755.9" r="2.1" fill="#2e8b57"/>
<circle cx="537.7" cy="756.6" r="2.1" fill="#2e8b57"/>
<circle cx="542.1" cy="757.3" r="2.1" fill="#2e8b57"/>
<circle cx="546.6" cy="757.7" r="2.1" fill="#2e8b57"/>
<circle cx="551.0" cy="758.2" r="2.1" fill="#2e8b57"/>
<circle cx="555.4" cy="758.5" r="2.1" fill="#2e8b57"/>
<circle cx="559.8" cy="758.8" r="2.1" fill="#2e8b57"/>
<path d="M157.8 732.8 L162.2 732.7 L166.6 732.6 L171.0 732.3 L175.5 732.0 L179.9 731.7 L184.3 731.3 L188.7 730.8 L193.1 730.4 L197.5 729.9 L202.0 729.4 L206.4 728.7 L210.8 727.9 L215.2 727.0 L219.6 726.0 L224.1 725.1 L228.5 724.1 L232.9 723.2 L237.3 722.2 L241.7 721.2 L246.1 720.1 L250.6 718.9 L255.0 717.5 L259.4 715.8 L263.8 713.5 L268.2 711.4 L272.6 709.9 L277.1 707.9 L281.5 705.3 L285.9 701.0 L290.3 696.8 L294.7 692.1 L299.2 687.2 L303.6 680.5 L308.0 672.1 L312.4 662.5 L316.8 650.7 L321.2 637.4 L325.7 621.2 L330.1 606.4 L334.5 584.6 L338.9 569.4 L343.3 558.1 L347.8 553.8 L352.2 554.3 L356.6 561.0 L361.0 570.2 L365.4 585.7 L369.8 604.2 L374.3 620.9 L378.7 636.4 L383.1 650.0 L387.5 660.7 L391.9 668.9 L396.4 678.8 L400.8 686.4 L405.2 693.3 L409.6 699.0 L414.0 703.9 L418.4 708.0 L422.9 712.1 L427.3 715.9 L431.7 720.5 L436.1 723.6 L440.5 726.1 L444.9 728.4 L449.4 731.4 L453.8 733.9 L458.2 735.9 L462.6 738.1 L467.0 739.4 L471.5 740.7 L475.9 742.1 L480.3 743.0 L484.7 743.6 L489.1 744.2 L493.5 744.9 L498.0 745.6 L502.4 746.4 L506.8 747.2 L511.2 748.0 L515.6 748.8 L520.1 749.8 L524.5 750.8 L528.9 751.8 L533.3 752.7 L537.7 753.7 L542.1 754.6 L546.6 755.3 L551.0 755.9 L555.4 756.5 L559.8 757.0" fill="none" stroke="#00f0f0" stroke-width="1.1"/>
<circle cx="157.8" cy="732.8" r="2.1" fill="#00f0f0"/>
<circle cx="162.2" cy="732.7" r="2.1" fill="#00f0f0"/>
<circle cx="166.6" cy="732.6" r="2.1" fill="#00f0f0"/>
<circle cx="171.0" cy="732.3" r="2.1" fill="#00f0f0"/>
<circle cx="175.5" cy="732.0" r="2.1" fill="#00f0f0"/>
<circle cx="179.9" cy="731.7" r="2.1" fill="#00f0f0"/>
<circle cx="184.3" cy="731.3" r="2.1" fill="#00f0f0"/>
<circle cx="188.7" cy="730.8" r="2.1" fill="#00f0f0"/>
<circle cx="193.1" cy="730.4" r="2.1" fill="#00f0f0"/>
<circle cx="197.5" cy="729.9" r="2.1" fill="#00f0f0"/>
<circle cx="202.0" cy="729.4" r="2.1" fill="#00f0f0"/>
<circle cx="206.4" cy="728.7" r="2.1" fill="#00f0f0"/>
<circle cx="210.8" cy="727.9" r="2.1" fill="#00f0f0"/>
<circle cx="215.2" cy="727.0" r="2.1" fill="#00f0f0"/>
<circle cx="219.6" cy="726.0" r="2.1" fill="#00f0f0"/>
<circle cx="224.1" cy="725.1" r="2.1" fill="#00f0f0"/>
<circle cx="228.5" cy="724.1" r="2.1" fill="#00f0f0"/>
<circle cx="232.9" cy="723.2" r="2.1" fill="#00f0f0"/>
<circle cx="237.3" cy="722.2" r="2.1" fill="#00f0f0"/>
<circle cx="241.7" cy="721.2" r="2.1" fill="#00f0f0"/>
<circle cx="246.1" cy="720.1" r="2.1" fill="#00f0f0"/>
<circle cx="250.6" cy="718.9" r="2.1" fill="#00f0f0"/>
<circle cx="255.0" cy="717.5" r="2.1" fill="#00f0f0"/>
<circle cx="259.4" cy="715.8" r="2.1" fill="#00f0f0"/>
<circle cx="263.8" cy="713.5" r="2.1" fill="#00f0f0"/>
<circle cx="268.2" cy="711.4" r="2.1" fill="#00f0f0"/>
<circle cx="272.6" cy="709.9" r="2.1" fill="#00f0f0"/>
<circle cx="277.1" cy="707.9" r="2.1" fill="#00f0f0"/>
<circle cx="281.5" cy="705.3" r="2.1" fill="#00f0f0"/>
<circle cx="285.9" cy="701.0" r="2.1" fill="#00f0f0"/>
<circle cx="290.3" cy="696.8" r="2.1" fill="#00f0f0"/>
<circle cx="294.7" cy="692.1" r="2.1" fill="#00f0f0"/>
<circle cx="299.2" cy="687.2" r="2.1" fill="#00f0f0"/>
<circle cx="303.6" cy="680.5" r="2.1" fill="#00f0f0"/>
<circle cx="308.0" cy="672.1" r="2.1" fill="#00f0f0"/>
<circle cx="312.4" cy="662.5" r="2.1" fill="#00f0f0"/>
<circle cx="316.8" cy="650.7" r="2.1" fill="#00f0f0"/>
<circle cx="321.2" cy="637.4" r="2.1" fill="#00f0f0"/>
<circle cx="325.7" cy="621.2" r="2.1" fill="#00f0f0"/>
<circle cx="330.1" cy="606.4" r="2.1" fill="#00f0f0"/>
<circle cx="334.5" cy="584.6" r="2.1" fill="#00f0f0"/>
<circle cx="338.9" cy="569.4" r="2.1" fill="#00f0f0"/>
<circle cx="343.3" cy="558.1" r="2.1" fill="#00f0f0"/>
<circle cx="347.8" cy="553.8" r="2.1" fill="#00f0f0"/>
<circle cx="352.2" cy="554.3" r="2.1" fill="#00f0f0"/>
<circle cx="356.6" cy="561.0" r="2.1" fill="#00f0f0"/>
<circle cx="361.0" cy="570.2" r="2.1" fill="#00f0f0"/>
<circle cx="365.4" cy="585.7" r="2.1" fill="#00f0f0"/>
<circle cx="369.8" cy="604.2" r="2.1" fill="#00f0f0"/>
<circle cx="374.3" cy="620.9" r="2.1" fill="#00f0f0"/>
<circle cx="378.7" cy="636.4" r="2.1" fill="#00f0f0"/>
<circle cx="383.1" cy="650.0" r="2.1" fill="#00f0f0"/>
<circle cx="387.5" cy="660.7" r="2.1" fill="#00f0f0"/>
<circle cx="391.9" cy="668.9" r="2.1" fill="#00f0f0"/>
<circle cx="396.4" cy="678.8" r="2.1" fill="#00f0f0"/>
<circle cx="400.8" cy="686.4" r="2.1" fill="#00f0f0"/>
<circle cx="405.2" cy="693.3" r="2.1" fill="#00f0f0"/>
<circle cx="409.6" cy="699.0" r="2.1" fill="#00f0f0"/>
<circle cx="414.0" cy="703.9" r="2.1" fill="#00f0f0"/>
<circle cx="418.4" cy="708.0" r="2.1" fill="#00f0f0"/>
<circle cx="422.9" cy="712.1" r="2.1" fill="#00f0f0"/>
<circle cx="427.3" cy="715.9" r="2.1" fill="#00f0f0"/>
<circle cx="431.7" cy="720.5" r="2.1" fill="#00f0f0"/>
<circle cx="436.1" cy="723.6" r="2.1" fill="#00f0f0"/>
<circle cx="440.5" cy="726.1" r="2.1" fill="#00f0f0"/>
<circle cx="444.9" cy="728.4" r="2.1" fill="#00f0f0"/>
<circle cx="449.4" cy="731.4" r="2.1" fill="#00f0f0"/>
<circle cx="453.8" cy="733.9" r="2.1" fill="#00f0f0"/>
<circle cx="458.2" cy="735.9" r="2.1" fill="#00f0f0"/>
<circle cx="462.6" cy="738.1" r="2.1" fill="#00f0f0"/>
<circle cx="467.0" cy="739.4" r="2.1" fill="#00f0f0"/>
<circle cx="471.5" cy="740.7" r="2.1" fill="#00f0f0"/>
<circle cx="475.9" cy="742.1" r="2.1" fill="#00f0f0"/>
<circle cx="480.3" cy="743.0" r="2.1" fill="#00f0f0"/>
<circle cx="484.7" cy="743.6" r="2.1" fill="#00f0f0"/>
<circle cx="489.1" cy="744.2" r="2.1" fill="#00f0f0"/>
<circle cx="493.5" cy="744.9" r="2.1" fill="#00f0f0"/>
<circle cx="498.0" cy="745.6" r="2.1" fill="#00f0f0"/>
<circle cx="502.4" cy="746.4" r="2.1" fill="#00f0f0"/>
<circle cx="506.8" cy="747.2" r="2.1" fill="#00f0f0"/>
<circle cx="511.2" cy="748.0" r="2.1" fill="#00f0f0"/>
<circle cx="515.6" cy="748.8" r="2.1" fill="#00f0f0"/>
<circle cx="520.1" cy="749.8" r="2.1" fill="#00f0f0"/>
<circle cx="524.5" cy="750.8" r="2.1" fill="#00f0f0"/>
<circle cx="528.9" cy="751.8" r="2.1" fill="#00f0f0"/>
<circle cx="533.3" cy="752.7" r="2.1" fill="#00f0f0"/>
<circle cx="537.7" cy="753.7" r="2.1" fill="#00f0f0"/>
<circle cx="542.1" cy="754.6" r="2.1" fill="#00f0f0"/>
<circle cx="546.6" cy="755.3" r="2.1" fill="#00f0f0"/>
<circle cx="551.0" cy="755.9" r="2.1" fill="#00f0f0"/>
<circle cx="555.4" cy="756.5" r="2.1" fill="#00f0f0"/>
<circle cx="559.8" cy="757.0" r="2.1" fill="#00f0f0"/>
<path d="M157.8 733.7 L162.2 733.5 L166.6 733.3 L171.0 733.1 L175.5 732.7 L179.9 732.3 L184.3 731.9 L188.7 731.4 L193.1 730.9 L197.5 730.4 L202.0 729.9 L206.4 729.2 L210.8 728.5 L215.2 727.6 L219.6 726.8 L224.1 725.9 L228.5 725.0 L232.9 724.0 L237.3 723.0 L241.7 722.0 L246.1 721.0 L250.6 719.9 L255.0 718.8 L259.4 717.7 L263.8 716.5 L268.2 715.2 L272.6 713.8 L277.1 712.0 L281.5 709.9 L285.9 707.5 L290.3 703.3 L294.7 699.4 L299.2 695.2 L303.6 691.5 L308.0 688.8 L312.4 682.8 L316.8 675.4 L321.2 666.3 L325.7 656.7 L330.1 646.3 L334.5 633.4 L338.9 625.3 L343.3 615.3 L347.8 605.5 L352.2 598.7 L356.6 595.2 L361.0 594.6 L365.4 596.1 L369.8 600.0 L374.3 606.0 L378.7 614.4 L383.1 624.3 L387.5 635.1 L391.9 646.6 L396.4 658.0 L400.8 668.7 L405.2 678.2 L409.6 685.9 L414.0 692.8 L418.4 697.8 L422.9 701.6 L427.3 705.1 L431.7 708.0 L436.1 710.7 L440.5 713.2 L444.9 716.0 L449.4 719.0 L453.8 722.1 L458.2 725.3 L462.6 728.4 L467.0 731.0 L471.5 733.1 L475.9 735.4 L480.3 737.1 L484.7 738.5 L489.1 739.7 L493.5 740.7 L498.0 741.6 L502.4 742.5 L506.8 743.4 L511.2 744.3 L515.6 745.4 L520.1 746.6 L524.5 747.7 L528.9 748.8 L533.3 749.6 L537.7 750.3 L542.1 751.0 L546.6 751.8 L551.0 752.6 L555.4 753.5 L559.8 754.4" fill="none" stroke="#8b0000" stroke-width="1.1"/>
<circle cx="157.8" cy="733.7" r="2.1" fill="#8b0000"/>
<circle cx="162.2" cy="733.5" r="2.1" fill="#8b0000"/>
<circle cx="166.6" cy="733.3" r="2.1" fill="#8b0000"/>
<circle cx="171.0" cy="733.1" r="2.1" fill="#8b0000"/>
<circle cx="175.5" cy="732.7" r="2.1" fill="#8b0000"/>
<circle cx="179.9" cy="732.3" r="2.1" fill="#8b0000"/>
<circle cx="184.3" cy="731.9" r="2.1" fill="#8b0000"/>
<circle cx="188.7" cy="731.4" r="2.1" fill="#8b0000"/>
<circle cx="193.1" cy="730.9" r="2.1" fill="#8b0000"/>
<circle cx="197.5" cy="730.4" r="2.1" fill="#8b0000"/>
<circle cx="202.0" cy="729.9" r="2.1" fill="#8b0000"/>
<circle cx="206.4" cy="729.2" r="2.1" fill="#8b0000"/>
<circle cx="210.8" cy="728.5" r="2.1" fill="#8b0000"/>
<circle cx="215.2" cy="727.6" r="2.1" fill="#8b0000"/>
<circle cx="219.6" cy="726.8" r="2.1" fill="#8b0000"/>
<circle cx="224.1" cy="725.9" r="2.1" fill="#8b0000"/>
<circle cx="228.5" cy="725.0" r="2.1" fill="#8b0000"/>
<circle cx="232.9" cy="724.0" r="2.1" fill="#8b0000"/>
<circle cx="237.3" cy="723.0" r="2.1" fill="#8b0000"/>
<circle cx="241.7" cy="722.0" r="2.1" fill="#8b0000"/>
<circle cx="246.1" cy="721.0" r="2.1" fill="#8b0000"/>
<circle cx="250.6" cy="719.9" r="2.1" fill="#8b0000"/>
<circle cx="255.0" cy="718.8" r="2.1" fill="#8b0000"/>
<circle cx="259.4" cy="717.7" r="2.1" fill="#8b0000"/>
<circle cx="263.8" cy="716.5" r="2.1" fill="#8b0000"/>
<circle cx="268.2" cy="715.2" r="2.1" fill="#8b0000"/>
<circle cx="272.6" cy="713.8" r="2.1" fill="#8b0000"/>
<circle cx="277.1" cy="712.0" r="2.1" fill="#8b0000"/>
<circle cx="281.5" cy="709.9" r="2.1" fill="#8b0000"/>
<circle cx="285.9" cy="707.5" r="2.1" fill="#8b0000"/>
<circle cx="290.3" cy="703.3" r="2.1" fill="#8b0000"/>
<circle cx="294.7" cy="699.4" r="2.1" fill="#8b0000"/>
<circle cx="299.2" cy="695.2" r="2.1" fill="#8b0000"/>
<circle cx="303.6" cy="691.5" r="2.1" fill="#8b0000"/>
<circle cx="308.0" cy="688.8" r="2.1" fill="#8b0000"/>
<circle cx="312.4" cy="682.8" r="2.1" fill="#8b0000"/>
<circle cx="316.8" cy="675.4" r="2.1" fill="#8b0000"/>
<circle cx="321.2" cy="666.3" r="2.1" fill="#8b0000"/>
<circle cx="325.7" cy="656.7" r="2.1" fill="#8b0000"/>
<circle cx="330.1" cy="646.3" r="2.1" fill="#8b0000"/>
<circle cx="334.5" cy="633.4" r="2.1" fill="#8b0000"/>
<circle cx="338.9" cy="625.3" r="2.1" fill="#8b0000"/>
<circle cx="343.3" cy="615.3" r="2.1" fill="#8b0000"/>
<circle cx="347.8" cy="605.5" r="2.1" fill="#8b0000"/>
<circle cx="352.2" cy="598.7" r="2.1" fill="#8b0000"/>
<circle cx="356.6" cy="595.2" r="2.1" fill="#8b0000"/>
<circle cx="361.0" cy="594.6" r="2.1" fill="#8b0000"/>
<circle cx="365.4" cy="596.1" r="2.1" fill="#8b0000"/>
<circle cx="369.8" cy="600.0" r="2.1" fill="#8b0000"/>
<circle cx="374.3" cy="606.0" r="2.1" fill="#8b0000"/>
<circle cx="378.7" cy="614.4" r="2.1" fill="#8b0000"/>
<circle cx="383.1" cy="624.3" r="2.1" fill="#8b0000"/>
<circle cx="387.5" cy="635.1" r="2.1" fill="#8b0000"/>
<circle cx="391.9" cy="646.6" r="2.1" fill="#8b0000"/>
<circle cx="396.4" cy="658.0" r="2.1" fill="#8b0000"/>
<circle cx="400.8" cy="668.7" r="2.1" fill="#8b0000"/>
<circle cx="405.2" cy="678.2" r="2.1" fill="#8b0000"/>
<circle cx="409.6" cy="685.9" r="2.1" fill="#8b0000"/>
<circle cx="414.0" cy="692.8" r="2.1" fill="#8b0000"/>
<circle cx="418.4" cy="697.8" r="2.1" fill="#8b0000"/>
<circle cx="422.9" cy="701.6" r="2.1" fill="#8b0000"/>
<circle cx="427.3" cy="705.1" r="2.1" fill="#8b0000"/>
<circle cx="431.7" cy="708.0" r="2.1" fill="#8b0000"/>
<circle cx="436.1" cy="710.7" r="2.1" fill="#8b0000"/>
<circle cx="440.5" cy="713.2" r="2.1" fill="#8b0000"/>
<circle cx="444.9" cy="716.0" r="2.1" fill="#8b0000"/>
<circle cx="449.4" cy="719.0" r="2.1" fill="#8b0000"/>
<circle cx="453.8" cy="722.1" r="2.1" fill="#8b0000"/>
<circle cx="458.2" cy="725.3" r="2.1" fill="#8b0000"/>
<circle cx="462.6" cy="728.4" r="2.1" fill="#8b0000"/>
<circle cx="467.0" cy="731.0" r="2.1" fill="#8b0000"/>
<circle cx="471.5" cy="733.1" r="2.1" fill="#8b0000"/>
<circle cx="475.9" cy="735.4" r="2.1" fill="#8b0000"/>
<circle cx="480.3" cy="737.1" r="2.1" fill="#8b0000"/>
<circle cx="484.7" cy="738.5" r="2.1" fill="#8b0000"/>
<circle cx="489.1" cy="739.7" r="2.1" fill="#8b0000"/>
<circle cx="493.5" cy="740.7" r="2.1" fill="#8b0000"/>
<circle cx="498.0" cy="741.6" r="2.1" fill="#8b0000"/>
<circle cx="502.4" cy="742.5" r="2.1" fill="#8b0000"/>
<circle cx="506.8" cy="743.4" r="2.1" fill="#8b0000"/>
<circle cx="511.2" cy="744.3" r="2.1" fill="#8b0000"/>
<circle cx="515.6" cy="745.4" r="2.1" fill="#8b0000"/>
<circle cx="520.1" cy="746.6" r="2.1" fill="#8b0000"/>
<circle cx="524.5" cy="747.7" r="2.1" fill="#8b0000"/>
<circle cx="528.9" cy="748.8" r="2.1" fill="#8b0000"/>
<circle cx="533.3" cy="749.6" r="2.1" fill="#8b0000"/>
<circle cx="537.7" cy="750.3" r="2.1" fill="#8b0000"/>
<circle cx="542.1" cy="751.0" r="2.1" fill="#8b0000"/>
<circle cx="546.6" cy="751.8" r="2.1" fill="#8b0000"/>
<circle cx="551.0" cy="752.6" r="2.1" fill="#8b0000"/>
<circle cx="555.4" cy="753.5" r="2.1" fill="#8b0000"/>
<circle cx="559.8" cy="754.4" r="2.1" fill="#8b0000"/>
<path d="M157.8 732.8 L162.2 732.7 L166.6 732.5 L171.0 732.1 L175.5 731.6 L179.9 730.9 L184.3 730.5 L188.7 730.4 L193.1 730.2 L197.5 729.9 L202.0 729.4 L206.4 728.8 L210.8 728.1 L215.2 727.3 L219.6 726.5 L224.1 725.6 L228.5 724.8 L232.9 724.0 L237.3 723.2 L241.7 722.4 L246.1 721.5 L250.6 720.6 L255.0 719.5 L259.4 718.3 L263.8 716.8 L268.2 715.3 L272.6 713.9 L277.1 712.6 L281.5 711.3 L285.9 709.6 L290.3 707.7 L294.7 705.2 L299.2 701.7 L303.6 698.0 L308.0 694.5 L312.4 691.6 L316.8 687.1 L321.2 683.0 L325.7 677.8 L330.1 670.8 L334.5 663.0 L338.9 655.3 L343.3 647.2 L347.8 640.3 L352.2 633.7 L356.6 627.9 L361.0 623.2 L365.4 619.5 L369.8 619.3 L374.3 620.5 L378.7 623.5 L383.1 627.5 L387.5 632.7 L391.9 639.9 L396.4 646.6 L400.8 657.1 L405.2 664.4 L409.6 670.3 L414.0 677.1 L418.4 681.1 L422.9 685.9 L427.3 692.3 L431.7 698.8 L436.1 703.9 L440.5 707.3 L444.9 711.1 L449.4 715.0 L453.8 719.1 L458.2 722.6 L462.6 723.8 L467.0 724.7 L471.5 725.3 L475.9 727.0 L480.3 729.6 L484.7 732.3 L489.1 734.0 L493.5 735.3 L498.0 736.5 L502.4 737.5 L506.8 738.5 L511.2 739.7 L515.6 741.1 L520.1 742.7 L524.5 744.4 L528.9 745.8 L533.3 746.8 L537.7 747.6 L542.1 748.4 L546.6 749.1 L551.0 749.8 L555.4 750.5 L559.8 751.1" fill="none" stroke="#0000ff" stroke-width="1.1"/>
<circle cx="157.8" cy="732.8" r="2.1" fill="#0000ff"/>
<circle cx="162.2" cy="732.7" r="2.1" fill="#0000ff"/>
<circle cx="166.6" cy="732.5" r="2.1" fill="#0000ff"/>
<circle cx="171.0" cy="732.1" r="2.1" fill="#0000ff"/>
<circle cx="175.5" cy="731.6" r="2.1" fill="#0000ff"/>
<circle cx="179.9" cy="730.9" r="2.1" fill="#0000ff"/>
<circle cx="184.3" cy="730.5" r="2.1" fill="#0000ff"/>
<circle cx="188.7" cy="730.4" r="2.1" fill="#0000ff"/>
<circle cx="193.1" cy="730.2" r="2.1" fill="#0000ff"/>
<circle cx="197.5" cy="729.9" r="2.1" fill="#0000ff"/>
<circle cx="202.0" cy="729.4" r="2.1" fill="#0000ff"/>
<circle cx="206.4" cy="728.8" r="2.1" fill="#0000ff"/>
<circle cx="210.8" cy="728.1" r="2.1" fill="#0000ff"/>
<circle cx="215.2" cy="727.3" r="2.1" fill="#0000ff"/>
<circle cx="219.6" cy="726.5" r="2.1" fill="#0000ff"/>
<circle cx="224.1" cy="725.6" r="2.1" fill="#0000ff"/>
<circle cx="228.5" cy="724.8" r="2.1" fill="#0000ff"/>
<circle cx="232.9" cy="724.0" r="2.1" fill="#0000ff"/>
<circle cx="237.3" cy="723.2" r="2.1" fill="#0000ff"/>
<circle cx="241.7" cy="722.4" r="2.1" fill="#0000ff"/>
<circle cx="246.1" cy="721.5" r="2.1" fill="#0000ff"/>
<circle cx="250.6" cy="720.6" r="2.1" fill="#0000ff"/>
<circle cx="255.0" cy="719.5" r="2.1" fill="#0000ff"/>
<circle cx="259.4" cy="718.3" r="2.1" fill="#0000ff"/>
<circle cx="263.8" cy="716.8" r="2.1" fill="#0000ff"/>
<circle cx="268.2" cy="715.3" r="2.1" fill="#0000ff"/>
<circle cx="272.6" cy="713.9" r="2.1" fill="#0000ff"/>
<circle cx="277.1" cy="712.6" r="2.1" fill="#0000ff"/>
<circle cx="281.5" cy="711.3" r="2.1" fill="#0000ff"/>
<circle cx="285.9" cy="709.6" r="2.1" fill="#0000ff"/>
<circle cx="290.3" cy="707.7" r="2.1" fill="#0000ff"/>
<circle cx="294.7" cy="705.2" r="2.1" fill="#0000ff"/>
<circle cx="299.2" cy="701.7" r="2.1" fill="#0000ff"/>
<circle cx="303.6" cy="698.0" r="2.1" fill="#0000ff"/>
<circle cx="308.0" cy="694.5" r="2.1" fill="#0000ff"/>
<circle cx="312.4" cy="691.6" r="2.1" fill="#0000ff"/>
<circle cx="316.8" cy="687.1" r="2.1" fill="#0000ff"/>
<circle cx="321.2" cy="683.0" r="2.1" fill="#0000ff"/>
<circle cx="325.7" cy="677.8" r="2.1" fill="#0000ff"/>
<circle cx="330.1" cy="670.8" r="2.1" fill="#0000ff"/>
<circle cx="334.5" cy="663.0" r="2.1" fill="#0000ff"/>
<circle cx="338.9" cy="655.3" r="2.1" fill="#0000ff"/>
<circle cx="343.3" cy="647.2" r="2.1" fill="#0000ff"/>
<circle cx="347.8" cy="640.3" r="2.1" fill="#0000ff"/>
<circle cx="352.2" cy="633.7" r="2.1" fill="#0000ff"/>
<circle cx="356.6" cy="627.9" r="2.1" fill="#0000ff"/>
<circle cx="361.0" cy="623.2" r="2.1" fill="#0000ff"/>
<circle cx="365.4" cy="619.5" r="2.1" fill="#0000ff"/>
<circle cx="369.8" cy="619.3" r="2.1" fill="#0000ff"/>
<circle cx="374.3" cy="620.5" r="2.1" fill="#0000ff"/>
<circle cx="378.7" cy="623.5" r="2.1" fill="#0000ff"/>
<circle cx="383.1" cy="627.5" r="2.1" fill="#0000ff"/>
<circle cx="387.5" cy="632.7" r="2.1" fill="#0000ff"/>
<circle cx="391.9" cy="639.9" r="2.1" fill="#0000ff"/>
<circle cx="396.4" cy="646.6" r="2.1" fill="#0000ff"/>
<circle cx="400.8" cy="657.1" r="2.1" fill="#0000ff"/>
<circle cx="405.2" cy="664.4" r="2.1" fill="#0000ff"/>
<circle cx="409.6" cy="670.3" r="2.1" fill="#0000ff"/>
<circle cx="414.0" cy="677.1" r="2.1" fill="#0000ff"/>
<circle cx="418.4" cy="681.1" r="2.1" fill="#0000ff"/>
<circle cx="422.9" cy="685.9" r="2.1" fill="#0000ff"/>
<circle cx="427.3" cy="692.3" r="2.1" fill="#0000ff"/>
<circle cx="431.7" cy="698.8" r="2.1" fill="#0000ff"/>
<circle cx="436.1" cy="703.9" r="2.1" fill="#0000ff"/>
<circle cx="440.5" cy="707.3" r="2.1" fill="#0000ff"/>
<circle cx="444.9" cy="711.1" r="2.1" fill="#0000ff"/>
<circle cx="449.4" cy="715.0" r="2.1" fill="#0000ff"/>
<circle cx="453.8" cy="719.1" r="2.1" fill="#0000ff"/>
<circle cx="458.2" cy="722.6" r="2.1" fill="#0000ff"/>
<circle cx="462.6" cy="723.8" r="2.1" fill="#0000ff"/>
<circle cx="467.0" cy="724.7" r="2.1" fill="#0000ff"/>
<circle cx="471.5" cy="725.3" r="2.1" fill="#0000ff"/>
<circle cx="475.9" cy="727.0" r="2.1" fill="#0000ff"/>
<circle cx="480.3" cy="729.6" r="2.1" fill="#0000ff"/>
<circle cx="484.7" cy="732.3" r="2.1" fill="#0000ff"/>
<circle cx="489.1" cy="734.0" r="2.1" fill="#0000ff"/>
<circle cx="493.5" cy="735.3" r="2.1" fill="#0000ff"/>
<circle cx="498.0" cy="736.5" r="2.1" fill="#0000ff"/>
<circle cx="502.4" cy="737.5" r="2.1" fill="#0000ff"/>
<circle cx="506.8" cy="738.5" r="2.1" fill="#0000ff"/>
<circle cx="511.2" cy="739.7" r="2.1" fill="#0000ff"/>
<circle cx="515.6" cy="741.1" r="2.1" fill="#0000ff"/>
<circle cx="520.1" cy="742.7" r="2.1" fill="#0000ff"/>
<circle cx="524.5" cy="744.4" r="2.1" fill="#0000ff"/>
<circle cx="528.9" cy="745.8" r="2.1" fill="#0000ff"/>
<circle cx="533.3" cy="746.8" r="2.1" fill="#0000ff"/>
<circle cx="537.7" cy="747.6" r="2.1" fill="#0000ff"/>
<circle cx="542.1" cy="748.4" r="2.1" fill="#0000ff"/>
<circle cx="546.6" cy="749.1" r="2.1" fill="#0000ff"/>
<circle cx="551.0" cy="749.8" r="2.1" fill="#0000ff"/>
<circle cx="555.4" cy="750.5" r="2.1" fill="#0000ff"/>
<circle cx="559.8" cy="751.1" r="2.1" fill="#0000ff"/>
<path d="M157.8 733.8 L162.2 733.6 L166.6 733.4 L171.0 733.1 L175.5 732.8 L179.9 732.4 L184.3 732.0 L188.7 731.5 L193.1 731.0 L197.5 730.5 L202.0 730.0 L206.4 729.4 L210.8 728.7 L215.2 728.0 L219.6 727.2 L224.1 726.5 L228.5 725.7 L232.9 725.0 L237.3 724.2 L241.7 723.5 L246.1 722.7 L250.6 721.9 L255.0 720.9 L259.4 719.8 L263.8 718.3 L268.2 716.7 L272.6 715.4 L277.1 714.0 L281.5 712.7 L285.9 711.2 L290.3 709.7 L294.7 708.7 L299.2 707.5 L303.6 705.3 L308.0 703.2 L312.4 699.5 L316.8 695.8 L321.2 692.4 L325.7 687.9 L330.1 683.8 L334.5 678.3 L338.9 673.5 L343.3 667.6 L347.8 662.7 L352.2 657.6 L356.6 652.4 L361.0 647.7 L365.4 643.5 L369.8 640.1 L374.3 637.8 L378.7 637.1 L383.1 638.0 L387.5 641.0 L391.9 645.8 L396.4 650.3 L400.8 654.5 L405.2 658.8 L409.6 663.3 L414.0 669.1 L418.4 674.6 L422.9 680.5 L427.3 685.1 L431.7 689.4 L436.1 695.3 L440.5 699.5 L444.9 703.6 L449.4 706.4 L453.8 710.0 L458.2 713.3 L462.6 715.9 L467.0 718.1 L471.5 719.8 L475.9 722.1 L480.3 725.3 L484.7 727.8 L489.1 729.6 L493.5 731.2 L498.0 732.7 L502.4 734.0 L506.8 735.3 L511.2 736.6 L515.6 737.9 L520.1 739.3 L524.5 740.7 L528.9 741.9 L533.3 743.1 L537.7 744.2 L542.1 745.2 L546.6 746.1 L551.0 746.9 L555.4 747.6 L559.8 748.3" fill="none" stroke="#ff0000" stroke-width="1.1"/>
<circle cx="157.8" cy="733.8" r="2.1" fill="#ff0000"/>
<circle cx="162.2" cy="733.6" r="2.1" fill="#ff0000"/>
<circle cx="166.6" cy="733.4" r="2.1" fill="#ff0000"/>
<circle cx="171.0" cy="733.1" r="2.1" fill="#ff0000"/>
<circle cx="175.5" cy="732.8" r="2.1" fill="#ff0000"/>
<circle cx="179.9" cy="732.4" r="2.1" fill="#ff0000"/>
<circle cx="184.3" cy="732.0" r="2.1" fill="#ff0000"/>
<circle cx="188.7" cy="731.5" r="2.1" fill="#ff0000"/>
<circle cx="193.1" cy="731.0" r="2.1" fill="#ff0000"/>
<circle cx="197.5" cy="730.5" r="2.1" fill="#ff0000"/>
<circle cx="202.0" cy="730.0" r="2.1" fill="#ff0000"/>
<circle cx="206.4" cy="729.4" r="2.1" fill="#ff0000"/>
<circle cx="210.8" cy="728.7" r="2.1" fill="#ff0000"/>
<circle cx="215.2" cy="728.0" r="2.1" fill="#ff0000"/>
<circle cx="219.6" cy="727.2" r="2.1" fill="#ff0000"/>
<circle cx="224.1" cy="726.5" r="2.1" fill="#ff0000"/>
<circle cx="228.5" cy="725.7" r="2.1" fill="#ff0000"/>
<circle cx="232.9" cy="725.0" r="2.1" fill="#ff0000"/>
<circle cx="237.3" cy="724.2" r="2.1" fill="#ff0000"/>
<circle cx="241.7" cy="723.5" r="2.1" fill="#ff0000"/>
<circle cx="246.1" cy="722.7" r="2.1" fill="#ff0000"/>
<circle cx="250.6" cy="721.9" r="2.1" fill="#ff0000"/>
<circle cx="255.0" cy="720.9" r="2.1" fill="#ff0000"/>
<circle cx="259.4" cy="719.8" r="2.1" fill="#ff0000"/>
<circle cx="263.8" cy="718.3" r="2.1" fill="#ff0000"/>
<circle cx="268.2" cy="716.7" r="2.1" fill="#ff0000"/>
<circle cx="272.6" cy="715.4" r="2.1" fill="#ff0000"/>
<circle cx="277.1" cy="714.0" r="2.1" fill="#ff0000"/>
<circle cx="281.5" cy="712.7" r="2.1" fill="#ff0000"/>
<circle cx="285.9" cy="711.2" r="2.1" fill="#ff0000"/>
<circle cx="290.3" cy="709.7" r="2.1" fill="#ff0000"/>
<circle cx="294.7" cy="708.7" r="2.1" fill="#ff0000"/>
<circle cx="299.2" cy="707.5" r="2.1" fill="#ff0000"/>
<circle cx="303.6" cy="705.3" r="2.1" fill="#ff0000"/>
<circle cx="308.0" cy="703.2" r="2.1" fill="#ff0000"/>
<circle cx="312.4" cy="699.5" r="2.1" fill="#ff0000"/>
<circle cx="316.8" cy="695.8" r="2.1" fill="#ff0000"/>
<circle cx="321.2" cy="692.4" r="2.1" fill="#ff0000"/>
<circle cx="325.7" cy="687.9" r="2.1" fill="#ff0000"/>
<circle cx="330.1" cy="683.8" r="2.1" fill="#ff0000"/>
<circle cx="334.5" cy="678.3" r="2.1" fill="#ff0000"/>
<circle cx="338.9" cy="673.5" r="2.1" fill="#ff0000"/>
<circle cx="343.3" cy="667.6" r="2.1" fill="#ff0000"/>
<circle cx="347.8" cy="662.7" r="2.1" fill="#ff0000"/>
<circle cx="352.2" cy="657.6" r="2.1" fill="#ff0000"/>
<circle cx="356.6" cy="652.4" r="2.1" fill="#ff0000"/>
<circle cx="361.0" cy="647.7" r="2.1" fill="#ff0000"/>
<circle cx="365.4" cy="643.5" r="2.1" fill="#ff0000"/>
<circle cx="369.8" cy="640.1" r="2.1" fill="#ff0000"/>
<circle cx="374.3" cy="637.8" r="2.1" fill="#ff0000"/>
<circle cx="378.7" cy="637.1" r="2.1" fill="#ff0000"/>
<circle cx="383.1" cy="638.0" r="2.1" fill="#ff0000"/>
<circle cx="387.5" cy="641.0" r="2.1" fill="#ff0000"/>
<circle cx="391.9" cy="645.8" r="2.1" fill="#ff0000"/>
<circle cx="396.4" cy="650.3" r="2.1" fill="#ff0000"/>
<circle cx="400.8" cy="654.5" r="2.1" fill="#ff0000"/>
<circle cx="405.2" cy="658.8" r="2.1" fill="#ff0000"/>
<circle cx="409.6" cy="663.3" r="2.1" fill="#ff0000"/>
<circle cx="414.0" cy="669.1" r="2.1" fill="#ff0000"/>
<circle cx="418.4" cy="674.6" r="2.1" fill="#ff0000"/>
<circle cx="422.9" cy="680.5" r="2.1" fill="#ff0000"/>
<circle cx="427.3" cy="685.1" r="2.1" fill="#ff0000"/>
<circle cx="431.7" cy="689.4" r="2.1" fill="#ff0000"/>
<circle cx="436.1" cy="695.3" r="2.1" fill="#ff0000"/>
<circle cx="440.5" cy="699.5" r="2.1" fill="#ff0000"/>
<circle cx="444.9" cy="703.6" r="2.1" fill="#ff0000"/>
<circle cx="449.4" cy="706.4" r="2.1" fill="#ff0000"/>
<circle cx="453.8" cy="710.0" r="2.1" fill="#ff0000"/>
<circle cx="458.2" cy="713.3" r="2.1" fill="#ff0000"/>
<circle cx="462.6" cy="715.9" r="2.1" fill="#ff0000"/>
<circle cx="467.0" cy="718.1" r="2.1" fill="#ff0000"/>
<circle cx="471.5" cy="719.8" r="2.1" fill="#ff0000"/>
<circle cx="475.9" cy="722.1" r="2.1" fill="#ff0000"/>
<circle cx="480.3" cy="725.3" r="2.1" fill="#ff0000"/>
<circle cx="484.7" cy="727.8" r="2.1" fill="#ff0000"/>
<circle cx="489.1" cy="729.6" r="2.1" fill="#ff0000"/>
<circle cx="493.5" cy="731.2" r="2.1" fill="#ff0000"/>
<circle cx="498.0" cy="732.7" r="2.1" fill="#ff0000"/>
<circle cx="502.4" cy="734.0" r="2.1" fill="#ff0000"/>
<circle cx="506.8" cy="735.3" r="2.1" fill="#ff0000"/>
<circle cx="511.2" cy="736.6" r="2.1" fill="#ff0000"/>
<circle cx="515.6" cy="737.9" r="2.1" fill="#ff0000"/>
<circle cx="520.1" cy="739.3" r="2.1" fill="#ff0000"/>
<circle cx="524.5" cy="740.7" r="2.1" fill="#ff0000"/>
<circle cx="528.9" cy="741.9" r="2.1" fill="#ff0000"/>
<circle cx="533.3" cy="743.1" r="2.1" fill="#ff0000"/>
<circle cx="537.7" cy="744.2" r="2.1" fill="#ff0000"/>
<circle cx="542.1" cy="745.2" r="2.1" fill="#ff0000"/>
<circle cx="546.6" cy="746.1" r="2.1" fill="#ff0000"/>
<circle cx="551.0" cy="746.9" r="2.1" fill="#ff0000"/>
<circle cx="555.4" cy="747.6" r="2.1" fill="#ff0000"/>
<circle cx="559.8" cy="748.3" r="2.1" fill="#ff0000"/>
<path d="M157.8 734.1 L162.2 733.9 L166.6 733.6 L171.0 733.3 L175.5 733.0 L179.9 732.5 L184.3 732.1 L188.7 731.7 L193.1 731.2 L197.5 730.7 L202.0 730.2 L206.4 729.7 L210.8 729.1 L215.2 728.5 L219.6 727.9 L224.1 727.2 L228.5 726.5 L232.9 725.8 L237.3 725.0 L241.7 724.2 L246.1 723.4 L250.6 722.5 L255.0 721.6 L259.4 720.6 L263.8 719.3 L268.2 718.0 L272.6 717.1 L277.1 716.3 L281.5 715.5 L285.9 714.9 L290.3 714.2 L294.7 713.2 L299.2 711.8 L303.6 709.6 L308.0 707.5 L312.4 704.6 L316.8 702.4 L321.2 699.6 L325.7 696.6 L330.1 693.9 L334.5 690.7 L338.9 687.2 L343.3 682.7 L347.8 677.3 L352.2 672.0 L356.6 666.8 L361.0 663.3 L365.4 659.6 L369.8 656.7 L374.3 655.1 L378.7 654.6 L383.1 654.6 L387.5 655.1 L391.9 655.7 L396.4 657.8 L400.8 660.5 L405.2 663.7 L409.6 666.1 L414.0 669.1 L418.4 672.2 L422.9 677.0 L427.3 682.0 L431.7 686.1 L436.1 689.4 L440.5 692.6 L444.9 696.1 L449.4 700.2 L453.8 704.0 L458.2 708.0 L462.6 711.0 L467.0 713.7 L471.5 715.8 L475.9 718.1 L480.3 719.7 L484.7 721.3 L489.1 723.0 L493.5 724.8 L498.0 726.7 L502.4 728.5 L506.8 730.3 L511.2 732.0 L515.6 733.5 L520.1 734.8 L524.5 736.1 L528.9 737.4 L533.3 738.8 L537.7 740.3 L542.1 741.6 L546.6 742.8 L551.0 743.8 L555.4 744.8 L559.8 745.7" fill="none" stroke="#000000" stroke-width="1.1"/>
<circle cx="157.8" cy="734.1" r="2.1" fill="#000000"/>
<circle cx="162.2" cy="733.9" r="2.1" fill="#000000"/>
<circle cx="166.6" cy="733.6" r="2.1" fill="#000000"/>
<circle cx="171.0" cy="733.3" r="2.1" fill="#000000"/>
<circle cx="175.5" cy="733.0" r="2.1" fill="#000000"/>
<circle cx="179.9" cy="732.5" r="2.1" fill="#000000"/>
<circle cx="184.3" cy="732.1" r="2.1" fill="#000000"/>
<circle cx="188.7" cy="731.7" r="2.1" fill="#000000"/>
<circle cx="193.1" cy="731.2" r="2.1" fill="#000000"/>
<circle cx="197.5" cy="730.7" r="2.1" fill="#000000"/>
<circle cx="202.0" cy="730.2" r="2.1" fill="#000000"/>
<circle cx="206.4" cy="729.7" r="2.1" fill="#000000"/>
<circle cx="210.8" cy="729.1" r="2.1" fill="#000000"/>
<circle cx="215.2" cy="728.5" r="2.1" fill="#000000"/>
<circle cx="219.6" cy="727.9" r="2.1" fill="#000000"/>
<circle cx="224.1" cy="727.2" r="2.1" fill="#000000"/>
<circle cx="228.5" cy="726.5" r="2.1" fill="#000000"/>
<circle cx="232.9" cy="725.8" r="2.1" fill="#000000"/>
<circle cx="237.3" cy="725.0" r="2.1" fill="#000000"/>
<circle cx="241.7" cy="724.2" r="2.1" fill="#000000"/>
<circle cx="246.1" cy="723.4" r="2.1" fill="#000000"/>
<circle cx="250.6" cy="722.5" r="2.1" fill="#000000"/>
<circle cx="255.0" cy="721.6" r="2.1" fill="#000000"/>
<circle cx="259.4" cy="720.6" r="2.1" fill="#000000"/>
<circle cx="263.8" cy="719.3" r="2.1" fill="#000000"/>
<circle cx="268.2" cy="718.0" r="2.1" fill="#000000"/>
<circle cx="272.6" cy="717.1" r="2.1" fill="#000000"/>
<circle cx="277.1" cy="716.3" r="2.1" fill="#000000"/>
<circle cx="281.5" cy="715.5" r="2.1" fill="#000000"/>
<circle cx="285.9" cy="714.9" r="2.1" fill="#000000"/>
<circle cx="290.3" cy="714.2" r="2.1" fill="#000000"/>
<circle cx="294.7" cy="713.2" r="2.1" fill="#000000"/>
<circle cx="299.2" cy="711.8" r="2.1" fill="#000000"/>
<circle cx="303.6" cy="709.6" r="2.1" fill="#000000"/>
<circle cx="308.0" cy="707.5" r="2.1" fill="#000000"/>
<circle cx="312.4" cy="704.6" r="2.1" fill="#000000"/>
<circle cx="316.8" cy="702.4" r="2.1" fill="#000000"/>
<circle cx="321.2" cy="699.6" r="2.1" fill="#000000"/>
<circle cx="325.7" cy="696.6" r="2.1" fill="#000000"/>
<circle cx="330.1" cy="693.9" r="2.1" fill="#000000"/>
<circle cx="334.5" cy="690.7" r="2.1" fill="#000000"/>
<circle cx="338.9" cy="687.2" r="2.1" fill="#000000"/>
<circle cx="343.3" cy="682.7" r="2.1" fill="#000000"/>
<circle cx="347.8" cy="677.3" r="2.1" fill="#000000"/>
<circle cx="352.2" cy="672.0" r="2.1" fill="#000000"/>
<circle cx="356.6" cy="666.8" r="2.1" fill="#000000"/>
<circle cx="361.0" cy="663.3" r="2.1" fill="#000000"/>
<circle cx="365.4" cy="659.6" r="2.1" fill="#000000"/>
<circle cx="369.8" cy="656.7" r="2.1" fill="#000000"/>
<circle cx="374.3" cy="655.1" r="2.1" fill="#000000"/>
<circle cx="378.7" cy="654.6" r="2.1" fill="#000000"/>
<circle cx="383.1" cy="654.6" r="2.1" fill="#000000"/>
<circle cx="387.5" cy="655.1" r="2.1" fill="#000000"/>
<circle cx="391.9" cy="655.7" r="2.1" fill="#000000"/>
<circle cx="396.4" cy="657.8" r="2.1" fill="#000000"/>
<circle cx="400.8" cy="660.5" r="2.1" fill="#000000"/>
<circle cx="405.2" cy="663.7" r="2.1" fill="#000000"/>
<circle cx="409.6" cy="666.1" r="2.1" fill="#000000"/>
<circle cx="414.0" cy="669.1" r="2.1" fill="#000000"/>
<circle cx="418.4" cy="672.2" r="2.1" fill="#000000"/>
<circle cx="422.9" cy="677.0" r="2.1" fill="#000000"/>
<circle cx="427.3" cy="682.0" r="2.1" fill="#000000"/>
<circle cx="431.7" cy="686.1" r="2.1" fill="#000000"/>
<circle cx="436.1" cy="689.4" r="2.1" fill="#000000"/>
<circle cx="440.5" cy="692.6" r="2.1" fill="#000000"/>
<circle cx="444.9" cy="696.1" r="2.1" fill="#000000"/>
<circle cx="449.4" cy="700.2" r="2.1" fill="#000000"/>
<circle cx="453.8" cy="704.0" r="2.1" fill="#000000"/>
<circle cx="458.2" cy="708.0" r="2.1" fill="#000000"/>
<circle cx="462.6" cy="711.0" r="2.1" fill="#000000"/>
<circle cx="467.0" cy="713.7" r="2.1" fill="#000000"/>
<circle cx="471.5" cy="715.8" r="2.1" fill="#000000"/>
<circle cx="475.9" cy="718.1" r="2.1" fill="#000000"/>
<circle cx="480.3" cy="719.7" r="2.1" fill="#000000"/>
<circle cx="484.7" cy="721.3" r="2.1" fill="#000000"/>
<circle cx="489.1" cy="723.0" r="2.1" fill="#000000"/>
<circle cx="493.5" cy="724.8" r="2.1" fill="#000000"/>
<circle cx="498.0" cy="726.7" r="2.1" fill="#000000"/>
<circle cx="502.4" cy="728.5" r="2.1" fill="#000000"/>
<circle cx="506.8" cy="730.3" r="2.1" fill="#000000"/>
<circle cx="511.2" cy="732.0" r="2.1" fill="#000000"/>
<circle cx="515.6" cy="733.5" r="2.1" fill="#000000"/>
<circle cx="520.1" cy="734.8" r="2.1" fill="#000000"/>
<circle cx="524.5" cy="736.1" r="2.1" fill="#000000"/>
<circle cx="528.9" cy="737.4" r="2.1" fill="#000000"/>
<circle cx="533.3" cy="738.8" r="2.1" fill="#000000"/>
<circle cx="537.7" cy="740.3" r="2.1" fill="#000000"/>
<circle cx="542.1" cy="741.6" r="2.1" fill="#000000"/>
<circle cx="546.6" cy="742.8" r="2.1" fill="#000000"/>
<circle cx="551.0" cy="743.8" r="2.1" fill="#000000"/>
<circle cx="555.4" cy="744.8" r="2.1" fill="#000000"/>
<circle cx="559.8" cy="745.7" r="2.1" fill="#000000"/>
<path d="M157.8 735.5 L162.2 735.4 L166.6 735.4 L171.0 735.3 L175.5 735.2 L179.9 735.1 L184.3 734.9 L188.7 734.7 L193.1 734.6 L197.5 734.4 L202.0 734.2 L206.4 733.9 L210.8 733.6 L215.2 733.3 L219.6 732.9 L224.1 732.4 L228.5 731.5 L232.9 730.3 L237.3 729.8 L241.7 729.3 L246.1 728.4 L250.6 727.4 L255.0 726.4 L259.4 725.4 L263.8 724.5 L268.2 723.5 L272.6 722.6 L277.1 721.6 L281.5 720.2 L285.9 718.9 L290.3 718.0 L294.7 717.4 L299.2 716.9 L303.6 716.2 L308.0 715.5 L312.4 714.7 L316.8 713.2 L321.2 710.4 L325.7 708.2 L330.1 706.1 L334.5 703.0 L338.9 700.2 L343.3 697.1 L347.8 694.3 L352.2 691.3 L356.6 687.1 L361.0 682.5 L365.4 678.3 L369.8 675.4 L374.3 674.0 L378.7 672.8 L383.1 672.0 L387.5 671.7 L391.9 671.8 L396.4 672.1 L400.8 672.5 L405.2 672.8 L409.6 673.3 L414.0 674.6 L418.4 675.8 L422.9 677.4 L427.3 679.1 L431.7 681.8 L436.1 685.4 L440.5 688.4 L444.9 691.5 L449.4 694.1 L453.8 697.3 L458.2 700.4 L462.6 703.5 L467.0 706.1 L471.5 708.7 L475.9 711.4 L480.3 714.0 L484.7 716.4 L489.1 718.4 L493.5 720.1 L498.0 721.7 L502.4 723.2 L506.8 724.7 L511.2 726.2 L515.6 727.8 L520.1 729.3 L524.5 730.8 L528.9 732.3 L533.3 734.0 L537.7 735.8 L542.1 737.2 L546.6 738.1 L551.0 739.0 L555.4 739.6 L559.8 739.9" fill="none" stroke="#dda0dd" stroke-width="1.1"/>
<circle cx="157.8" cy="735.5" r="2.1" fill="#dda0dd"/>
<circle cx="162.2" cy="735.4" r="2.1" fill="#dda0dd"/>
<circle cx="166.6" cy="735.4" r="2.1" fill="#dda0dd"/>
<circle cx="171.0" cy="735.3" r="2.1" fill="#dda0dd"/>
<circle cx="175.5" cy="735.2" r="2.1" fill="#dda0dd"/>
<circle cx="179.9" cy="735.1" r="2.1" fill="#dda0dd"/>
<circle cx="184.3" cy="734.9" r="2.1" fill="#dda0dd"/>
<circle cx="188.7" cy="734.7" r="2.1" fill="#dda0dd"/>
<circle cx="193.1" cy="734.6" r="2.1" fill="#dda0dd"/>
<circle cx="197.5" cy="734.4" r="2.1" fill="#dda0dd"/>
<circle cx="202.0" cy="734.2" r="2.1" fill="#dda0dd"/>
<circle cx="206.4" cy="733.9" r="2.1" fill="#dda0dd"/>
<circle cx="210.8" cy="733.6" r="2.1" fill="#dda0dd"/>
<circle cx="215.2" cy="733.3" r="2.1" fill="#dda0dd"/>
<circle cx="219.6" cy="732.9" r="2.1" fill="#dda0dd"/>
<circle cx="224.1" cy="732.4" r="2.1" fill="#dda0dd"/>
<circle cx="228.5" cy="731.5" r="2.1" fill="#dda0dd"/>
<circle cx="232.9" cy="730.3" r="2.1" fill="#dda0dd"/>
<circle cx="237.3" cy="729.8" r="2.1" fill="#dda0dd"/>
<circle cx="241.7" cy="729.3" r="2.1" fill="#dda0dd"/>
<circle cx="246.1" cy="728.4" r="2.1" fill="#dda0dd"/>
<circle cx="250.6" cy="727.4" r="2.1" fill="#dda0dd"/>
<circle cx="255.0" cy="726.4" r="2.1" fill="#dda0dd"/>
<circle cx="259.4" cy="725.4" r="2.1" fill="#dda0dd"/>
<circle cx="263.8" cy="724.5" r="2.1" fill="#dda0dd"/>
<circle cx="268.2" cy="723.5" r="2.1" fill="#dda0dd"/>
<circle cx="272.6" cy="722.6" r="2.1" fill="#dda0dd"/>
<circle cx="277.1" cy="721.6" r="2.1" fill="#dda0dd"/>
<circle cx="281.5" cy="720.2" r="2.1" fill="#dda0dd"/>
<circle cx="285.9" cy="718.9" r="2.1" fill="#dda0dd"/>
<circle cx="290.3" cy="718.0" r="2.1" fill="#dda0dd"/>
<circle cx="294.7" cy="717.4" r="2.1" fill="#dda0dd"/>
<circle cx="299.2" cy="716.9" r="2.1" fill="#dda0dd"/>
<circle cx="303.6" cy="716.2" r="2.1" fill="#dda0dd"/>
<circle cx="308.0" cy="715.5" r="2.1" fill="#dda0dd"/>
<circle cx="312.4" cy="714.7" r="2.1" fill="#dda0dd"/>
<circle cx="316.8" cy="713.2" r="2.1" fill="#dda0dd"/>
<circle cx="321.2" cy="710.4" r="2.1" fill="#dda0dd"/>
<circle cx="325.7" cy="708.2" r="2.1" fill="#dda0dd"/>
<circle cx="330.1" cy="706.1" r="2.1" fill="#dda0dd"/>
<circle cx="334.5" cy="703.0" r="2.1" fill="#dda0dd"/>
<circle cx="338.9" cy="700.2" r="2.1" fill="#dda0dd"/>
<circle cx="343.3" cy="697.1" r="2.1" fill="#dda0dd"/>
<circle cx="347.8" cy="694.3" r="2.1" fill="#dda0dd"/>
<circle cx="352.2" cy="691.3" r="2.1" fill="#dda0dd"/>
<circle cx="356.6" cy="687.1" r="2.1" fill="#dda0dd"/>
<circle cx="361.0" cy="682.5" r="2.1" fill="#dda0dd"/>
<circle cx="365.4" cy="678.3" r="2.1" fill="#dda0dd"/>
<circle cx="369.8" cy="675.4" r="2.1" fill="#dda0dd"/>
<circle cx="374.3" cy="674.0" r="2.1" fill="#dda0dd"/>
<circle cx="378.7" cy="672.8" r="2.1" fill="#dda0dd"/>
<circle cx="383.1" cy="672.0" r="2.1" fill="#dda0dd"/>
<circle cx="387.5" cy="671.7" r="2.1" fill="#dda0dd"/>
<circle cx="391.9" cy="671.8" r="2.1" fill="#dda0dd"/>
<circle cx="396.4" cy="672.1" r="2.1" fill="#dda0dd"/>
<circle cx="400.8" cy="672.5" r="2.1" fill="#dda0dd"/>
<circle cx="405.2" cy="672.8" r="2.1" fill="#dda0dd"/>
<circle cx="409.6" cy="673.3" r="2.1" fill="#dda0dd"/>
<circle cx="414.0" cy="674.6" r="2.1" fill="#dda0dd"/>
<circle cx="418.4" cy="675.8" r="2.1" fill="#dda0dd"/>
<circle cx="422.9" cy="677.4" r="2.1" fill="#dda0dd"/>
<circle cx="427.3" cy="679.1" r="2.1" fill="#dda0dd"/>
<circle cx="431.7" cy="681.8" r="2.1" fill="#dda0dd"/>
<circle cx="436.1" cy="685.4" r="2.1" fill="#dda0dd"/>
<circle cx="440.5" cy="688.4" r="2.1" fill="#dda0dd"/>
<circle cx="444.9" cy="691.5" r="2.1" fill="#dda0dd"/>
<circle cx="449.4" cy="694.1" r="2.1" fill="#dda0dd"/>
<circle cx="453.8" cy="697.3" r="2.1" fill="#dda0dd"/>
<circle cx="458.2" cy="700.4" r="2.1" fill="#dda0dd"/>
<circle cx="462.6" cy="703.5" r="2.1" fill="#dda0dd"/>
<circle cx="467.0" cy="706.1" r="2.1" fill="#dda0dd"/>
<circle cx="471.5" cy="708.7" r="2.1" fill="#dda0dd"/>
<circle cx="475.9" cy="711.4" r="2.1" fill="#dda0dd"/>
<circle cx="480.3" cy="714.0" r="2.1" fill="#dda0dd"/>
<circle cx="484.7" cy="716.4" r="2.1" fill="#dda0dd"/>
<circle cx="489.1" cy="718.4" r="2.1" fill="#dda0dd"/>
<circle cx="493.5" cy="720.1" r="2.1" fill="#dda0dd"/>
<circle cx="498.0" cy="721.7" r="2.1" fill="#dda0dd"/>
<circle cx="502.4" cy="723.2" r="2.1" fill="#dda0dd"/>
<circle cx="506.8" cy="724.7" r="2.1" fill="#dda0dd"/>
<circle cx="511.2" cy="726.2" r="2.1" fill="#dda0dd"/>
<circle cx="515.6" cy="727.8" r="2.1" fill="#dda0dd"/>
<circle cx="520.1" cy="729.3" r="2.1" fill="#dda0dd"/>
<circle cx="524.5" cy="730.8" r="2.1" fill="#dda0dd"/>
<circle cx="528.9" cy="732.3" r="2.1" fill="#dda0dd"/>
<circle cx="533.3" cy="734.0" r="2.1" fill="#dda0dd"/>
<circle cx="537.7" cy="735.8" r="2.1" fill="#dda0dd"/>
<circle cx="542.1" cy="737.2" r="2.1" fill="#dda0dd"/>
<circle cx="546.6" cy="738.1" r="2.1" fill="#dda0dd"/>
<circle cx="551.0" cy="739.0" r="2.1" fill="#dda0dd"/>
<circle cx="555.4" cy="739.6" r="2.1" fill="#dda0dd"/>
<circle cx="559.8" cy="739.9" r="2.1" fill="#dda0dd"/>
<rect x="104.5" y="412.6" width="486.2" height="361.4" fill="none" stroke="#3a3a3a" stroke-width="1.3"/>
<path d="M118.0 774.0v-5.5M118.0 412.6v5.5M131.5 774.0v-5.5M131.5 412.6v5.5M145.0 774.0v-5.5M145.0 412.6v5.5M158.5 774.0v-11.5M158.5 412.6v11.5M172.0 774.0v-5.5M172.0 412.6v5.5M185.5 774.0v-5.5M185.5 412.6v5.5M199.0 774.0v-5.5M199.0 412.6v5.5M212.5 774.0v-11.5M212.5 412.6v11.5M226.1 774.0v-5.5M226.1 412.6v5.5M239.6 774.0v-5.5M239.6 412.6v5.5M253.1 774.0v-5.5M253.1 412.6v5.5M266.6 774.0v-11.5M266.6 412.6v11.5M280.1 774.0v-5.5M280.1 412.6v5.5M293.6 774.0v-5.5M293.6 412.6v5.5M307.1 774.0v-5.5M307.1 412.6v5.5M320.6 774.0v-11.5M320.6 412.6v11.5M334.1 774.0v-5.5M334.1 412.6v5.5M347.6 774.0v-5.5M347.6 412.6v5.5M361.1 774.0v-5.5M361.1 412.6v5.5M374.6 774.0v-11.5M374.6 412.6v11.5M388.1 774.0v-5.5M388.1 412.6v5.5M401.6 774.0v-5.5M401.6 412.6v5.5M415.1 774.0v-5.5M415.1 412.6v5.5M428.6 774.0v-11.5M428.6 412.6v11.5M442.1 774.0v-5.5M442.1 412.6v5.5M455.6 774.0v-5.5M455.6 412.6v5.5M469.1 774.0v-5.5M469.1 412.6v5.5M482.7 774.0v-11.5M482.7 412.6v11.5M496.2 774.0v-5.5M496.2 412.6v5.5M509.7 774.0v-5.5M509.7 412.6v5.5M523.2 774.0v-5.5M523.2 412.6v5.5M536.7 774.0v-11.5M536.7 412.6v11.5M550.2 774.0v-5.5M550.2 412.6v5.5M563.7 774.0v-5.5M563.7 412.6v5.5M577.2 774.0v-5.5M577.2 412.6v5.5" stroke="#3a3a3a" stroke-width="1.15" fill="none"/>
<path d="M104.5 765.0h5.5M590.7 765.0h-5.5M104.5 755.9h5.5M590.7 755.9h-5.5M104.5 746.9h5.5M590.7 746.9h-5.5M104.5 737.9h11.5M590.7 737.9h-11.5M104.5 728.8h5.5M590.7 728.8h-5.5M104.5 719.8h5.5M590.7 719.8h-5.5M104.5 710.8h5.5M590.7 710.8h-5.5M104.5 701.7h11.5M590.7 701.7h-11.5M104.5 692.7h5.5M590.7 692.7h-5.5M104.5 683.6h5.5M590.7 683.6h-5.5M104.5 674.6h5.5M590.7 674.6h-5.5M104.5 665.6h11.5M590.7 665.6h-11.5M104.5 656.5h5.5M590.7 656.5h-5.5M104.5 647.5h5.5M590.7 647.5h-5.5M104.5 638.5h5.5M590.7 638.5h-5.5M104.5 629.4h11.5M590.7 629.4h-11.5M104.5 620.4h5.5M590.7 620.4h-5.5M104.5 611.4h5.5M590.7 611.4h-5.5M104.5 602.3h5.5M590.7 602.3h-5.5M104.5 593.3h11.5M590.7 593.3h-11.5M104.5 584.3h5.5M590.7 584.3h-5.5M104.5 575.2h5.5M590.7 575.2h-5.5M104.5 566.2h5.5M590.7 566.2h-5.5M104.5 557.2h11.5M590.7 557.2h-11.5M104.5 548.1h5.5M590.7 548.1h-5.5M104.5 539.1h5.5M590.7 539.1h-5.5M104.5 530.1h5.5M590.7 530.1h-5.5M104.5 521.0h11.5M590.7 521.0h-11.5M104.5 512.0h5.5M590.7 512.0h-5.5M104.5 502.9h5.5M590.7 502.9h-5.5M104.5 493.9h5.5M590.7 493.9h-5.5M104.5 484.9h11.5M590.7 484.9h-11.5M104.5 475.8h5.5M590.7 475.8h-5.5M104.5 466.8h5.5M590.7 466.8h-5.5M104.5 457.8h5.5M590.7 457.8h-5.5M104.5 448.7h11.5M590.7 448.7h-11.5M104.5 439.7h5.5M590.7 439.7h-5.5M104.5 430.7h5.5M590.7 430.7h-5.5M104.5 421.6h5.5M590.7 421.6h-5.5" stroke="#3a3a3a" stroke-width="1.15" fill="none"/>
<text x="93.6" y="780.9" text-anchor="end" font-size="19">0.005</text>
<text x="93.6" y="744.8" text-anchor="end" font-size="19">0.01</text>
<text x="93.6" y="708.6" text-anchor="end" font-size="19">0.015</text>
<text x="93.6" y="672.5" text-anchor="end" font-size="19">0.02</text>
<text x="93.6" y="636.3" text-anchor="end" font-size="19">0.025</text>
<text x="93.6" y="600.2" text-anchor="end" font-size="19">0.03</text>
<text x="93.6" y="564.1" text-anchor="end" font-size="19">0.035</text>
<text x="93.6" y="527.9" text-anchor="end" font-size="19">0.04</text>
<text x="93.6" y="491.8" text-anchor="end" font-size="19">0.045</text>
<text x="93.6" y="455.6" text-anchor="end" font-size="19">0.05</text>
<text x="93.6" y="419.5" text-anchor="end" font-size="19">0.055</text>
<text x="3.5" y="447" font-size="33" font-weight="bold">(b)</text>
<text transform="translate(23.0,593) rotate(-90)" text-anchor="middle" font-size="19">C<tspan dy="5.5" font-size="15">p</tspan><tspan dy="-5.5"> (J K</tspan><tspan dy="-10" font-size="15">&#8722;1</tspan><tspan dy="10">)</tspan></text>
<path d="M144.8 1130.0 L147.5 1129.9 L150.2 1129.8 L152.9 1129.6 L155.6 1129.5 L158.3 1129.4 L161.0 1129.3 L163.7 1129.2 L166.4 1129.0 L169.1 1128.9 L171.8 1128.8 L174.5 1128.6 L177.2 1128.5 L179.9 1128.3 L182.6 1128.2 L185.3 1128.0 L188.0 1127.9 L190.7 1127.8 L193.4 1127.7 L196.1 1127.5 L198.8 1127.4 L201.5 1127.2 L204.2 1127.1 L206.9 1126.9 L209.6 1126.7 L212.3 1126.5 L215.0 1126.3 L217.7 1126.1 L220.4 1125.9 L223.1 1125.7 L225.8 1125.5 L228.6 1125.2 L231.3 1125.0 L234.0 1124.7 L236.7 1124.4 L239.4 1124.1 L242.1 1123.9 L244.8 1123.6 L247.5 1123.3 L250.2 1123.1 L252.9 1122.8 L255.6 1122.5 L258.3 1122.2 L261.0 1121.9 L263.7 1121.5 L266.4 1121.2 L269.1 1120.8 L271.8 1120.5 L274.5 1120.1 L277.2 1119.7 L279.9 1119.3 L282.6 1118.9 L285.3 1118.4 L288.0 1117.9 L290.7 1117.4 L293.4 1116.8 L296.1 1116.2 L298.8 1115.6 L301.5 1114.9 L304.2 1114.1 L306.9 1113.1 L309.6 1111.9 L312.3 1110.3 L315.0 1108.5 L317.7 1106.2 L320.4 1103.5 L323.1 1099.4 L325.8 1093.6 L328.5 1086.8 L331.2 1079.9 L333.9 1073.6 L336.6 1067.9 L339.3 1062.2 L342.0 1056.7 L344.7 1051.6 L347.4 1047.0 L350.1 1043.0 L352.8 1039.4 L355.5 1036.1 L358.2 1032.8 L360.9 1029.4 L363.6 1025.8 L366.3 1022.2 L369.0 1018.6 L371.7 1015.1 L374.4 1011.8 L377.1 1008.5 L379.8 1005.3 L382.5 1002.2 L385.2 999.4 L387.9 997.2 L390.6 995.4 L393.3 993.9 L396.0 992.6 L398.7 991.2 L401.4 989.6 L404.1 987.6 L406.8 985.4 L409.5 982.9 L412.2 980.3 L414.9 977.6 L417.6 974.6 L420.3 971.1 L423.0 967.6 L425.7 964.3 L428.4 961.6 L431.1 959.6 L433.8 958.0 L436.5 956.5 L439.2 954.9 L441.9 953.1 L444.6 950.9 L447.3 948.5 L450.0 946.0 L452.7 943.5 L455.4 941.4 L458.1 939.5 L460.8 937.9 L463.5 936.3 L466.2 934.7 L468.9 932.8 L471.7 930.7 L474.4 928.4 L477.1 926.0 L479.8 923.5 L482.5 921.1 L485.2 918.6 L487.9 915.9 L490.6 913.3 L493.3 911.0 L496.0 909.4 L498.7 908.3 L501.4 907.6 L504.1 907.0 L506.8 906.2 L509.5 905.1 L512.2 902.9 L514.9 899.4 L517.6 895.3 L520.3 891.3 L523.0 888.0 L525.7 885.5 L528.4 883.1 L531.1 880.9 L533.8 878.8 L536.5 876.8 L539.2 874.9 L541.9 873.0 L544.6 871.3 L547.3 869.5 L550.0 867.8 L552.7 866.1 L555.4 864.5 L558.1 862.9 L560.8 861.2 L563.5 859.2 L566.2 857.0 L568.9 854.4 L571.6 851.6 L574.3 848.6 L577.0 845.4" fill="none" stroke="#9400d3" stroke-width="1.1"/>
<circle cx="144.8" cy="1130.0" r="2.35" fill="#9400d3"/>
<circle cx="158.3" cy="1129.4" r="2.35" fill="#9400d3"/>
<circle cx="171.8" cy="1128.8" r="2.35" fill="#9400d3"/>
<circle cx="185.3" cy="1128.0" r="2.35" fill="#9400d3"/>
<circle cx="198.8" cy="1127.4" r="2.35" fill="#9400d3"/>
<circle cx="212.3" cy="1126.5" r="2.35" fill="#9400d3"/>
<circle cx="225.8" cy="1125.5" r="2.35" fill="#9400d3"/>
<circle cx="239.4" cy="1124.1" r="2.35" fill="#9400d3"/>
<circle cx="252.9" cy="1122.8" r="2.35" fill="#9400d3"/>
<circle cx="266.4" cy="1121.2" r="2.35" fill="#9400d3"/>
<circle cx="279.9" cy="1119.3" r="2.35" fill="#9400d3"/>
<circle cx="293.4" cy="1116.8" r="2.35" fill="#9400d3"/>
<circle cx="306.9" cy="1113.1" r="2.35" fill="#9400d3"/>
<circle cx="320.4" cy="1103.5" r="2.35" fill="#9400d3"/>
<circle cx="333.9" cy="1073.6" r="2.35" fill="#9400d3"/>
<circle cx="347.4" cy="1047.0" r="2.35" fill="#9400d3"/>
<circle cx="360.9" cy="1029.4" r="2.35" fill="#9400d3"/>
<circle cx="374.4" cy="1011.8" r="2.35" fill="#9400d3"/>
<circle cx="387.9" cy="997.2" r="2.35" fill="#9400d3"/>
<circle cx="401.4" cy="989.6" r="2.35" fill="#9400d3"/>
<circle cx="414.9" cy="977.6" r="2.35" fill="#9400d3"/>
<circle cx="428.4" cy="961.6" r="2.35" fill="#9400d3"/>
<circle cx="441.9" cy="953.1" r="2.35" fill="#9400d3"/>
<circle cx="455.4" cy="941.4" r="2.35" fill="#9400d3"/>
<circle cx="468.9" cy="932.8" r="2.35" fill="#9400d3"/>
<circle cx="482.5" cy="921.1" r="2.35" fill="#9400d3"/>
<circle cx="496.0" cy="909.4" r="2.35" fill="#9400d3"/>
<circle cx="509.5" cy="905.1" r="2.35" fill="#9400d3"/>
<circle cx="523.0" cy="888.0" r="2.35" fill="#9400d3"/>
<circle cx="536.5" cy="876.8" r="2.35" fill="#9400d3"/>
<circle cx="550.0" cy="867.8" r="2.35" fill="#9400d3"/>
<circle cx="563.5" cy="859.2" r="2.35" fill="#9400d3"/>
<path d="M144.8 1130.0 L147.5 1129.9 L150.2 1129.8 L152.9 1129.6 L155.6 1129.5 L158.3 1129.4 L161.0 1129.3 L163.7 1129.2 L166.4 1129.0 L169.1 1128.9 L171.8 1128.8 L174.5 1128.6 L177.2 1128.5 L179.9 1128.3 L182.6 1128.2 L185.3 1128.0 L188.0 1127.9 L190.7 1127.8 L193.4 1127.7 L196.1 1127.5 L198.8 1127.4 L201.5 1127.2 L204.2 1127.1 L206.9 1126.9 L209.6 1126.7 L212.3 1126.5 L215.0 1126.3 L217.7 1126.1 L220.4 1125.9 L223.1 1125.7 L225.8 1125.5 L228.6 1125.3 L231.3 1125.0 L234.0 1124.7 L236.7 1124.5 L239.4 1124.2 L242.1 1124.0 L244.8 1123.7 L247.5 1123.5 L250.2 1123.2 L252.9 1122.9 L255.6 1122.6 L258.3 1122.3 L261.0 1122.0 L263.7 1121.7 L266.4 1121.4 L269.1 1121.0 L271.8 1120.7 L274.5 1120.3 L277.2 1120.0 L279.9 1119.6 L282.6 1119.2 L285.3 1118.7 L288.0 1118.3 L290.7 1117.8 L293.4 1117.4 L296.1 1117.0 L298.8 1116.6 L301.5 1116.2 L304.2 1115.8 L306.9 1115.2 L309.6 1114.5 L312.3 1113.4 L315.0 1112.2 L317.7 1110.8 L320.4 1109.4 L323.1 1107.9 L325.8 1106.3 L328.5 1104.5 L331.2 1102.5 L333.9 1100.1 L336.6 1096.9 L339.3 1092.7 L342.0 1087.9 L344.7 1083.1 L347.4 1078.6 L350.1 1074.5 L352.8 1070.4 L355.5 1066.4 L358.2 1062.5 L360.9 1058.8 L363.6 1055.3 L366.3 1052.0 L369.0 1048.8 L371.7 1045.7 L374.4 1042.5 L377.1 1039.2 L379.8 1035.8 L382.5 1032.5 L385.2 1029.4 L387.9 1026.7 L390.6 1024.4 L393.3 1022.4 L396.0 1020.5 L398.7 1018.6 L401.4 1016.6 L404.1 1014.3 L406.8 1011.8 L409.5 1009.3 L412.2 1006.9 L414.9 1004.6 L417.6 1002.5 L420.3 1000.6 L423.0 998.7 L425.7 996.7 L428.4 994.7 L431.1 992.5 L433.8 990.3 L436.5 988.0 L439.2 985.7 L441.9 983.5 L444.6 981.4 L447.3 979.3 L450.0 977.3 L452.7 975.3 L455.4 973.4 L458.1 971.5 L460.8 969.8 L463.5 968.1 L466.2 966.3 L468.9 964.4 L471.7 962.1 L474.4 959.5 L477.1 956.8 L479.8 954.6 L482.5 953.1 L485.2 952.3 L487.9 951.7 L490.6 951.3 L493.3 950.7 L496.0 949.9 L498.7 948.4 L501.4 946.2 L504.1 943.5 L506.8 940.7 L509.5 938.2 L512.2 935.8 L514.9 933.4 L517.6 931.0 L520.3 928.7 L523.0 926.4 L525.7 924.2 L528.4 921.9 L531.1 919.7 L533.8 917.6 L536.5 915.8 L539.2 914.1 L541.9 912.6 L544.6 911.2 L547.3 909.8 L550.0 908.3 L552.7 906.9 L555.4 905.5 L558.1 904.0 L560.8 902.5 L563.5 900.8 L566.2 898.9 L568.9 896.8 L571.6 894.5 L574.3 892.1 L577.0 889.5" fill="none" stroke="#2e8b57" stroke-width="1.1"/>
<circle cx="144.8" cy="1130.0" r="2.35" fill="#2e8b57"/>
<circle cx="158.3" cy="1129.4" r="2.35" fill="#2e8b57"/>
<circle cx="171.8" cy="1128.8" r="2.35" fill="#2e8b57"/>
<circle cx="185.3" cy="1128.0" r="2.35" fill="#2e8b57"/>
<circle cx="198.8" cy="1127.4" r="2.35" fill="#2e8b57"/>
<circle cx="212.3" cy="1126.5" r="2.35" fill="#2e8b57"/>
<circle cx="225.8" cy="1125.5" r="2.35" fill="#2e8b57"/>
<circle cx="239.4" cy="1124.2" r="2.35" fill="#2e8b57"/>
<circle cx="252.9" cy="1122.9" r="2.35" fill="#2e8b57"/>
<circle cx="266.4" cy="1121.4" r="2.35" fill="#2e8b57"/>
<circle cx="279.9" cy="1119.6" r="2.35" fill="#2e8b57"/>
<circle cx="293.4" cy="1117.4" r="2.35" fill="#2e8b57"/>
<circle cx="306.9" cy="1115.2" r="2.35" fill="#2e8b57"/>
<circle cx="320.4" cy="1109.4" r="2.35" fill="#2e8b57"/>
<circle cx="333.9" cy="1100.1" r="2.35" fill="#2e8b57"/>
<circle cx="347.4" cy="1078.6" r="2.35" fill="#2e8b57"/>
<circle cx="360.9" cy="1058.8" r="2.35" fill="#2e8b57"/>
<circle cx="374.4" cy="1042.5" r="2.35" fill="#2e8b57"/>
<circle cx="387.9" cy="1026.7" r="2.35" fill="#2e8b57"/>
<circle cx="401.4" cy="1016.6" r="2.35" fill="#2e8b57"/>
<circle cx="414.9" cy="1004.6" r="2.35" fill="#2e8b57"/>
<circle cx="428.4" cy="994.7" r="2.35" fill="#2e8b57"/>
<circle cx="441.9" cy="983.5" r="2.35" fill="#2e8b57"/>
<circle cx="455.4" cy="973.4" r="2.35" fill="#2e8b57"/>
<circle cx="468.9" cy="964.4" r="2.35" fill="#2e8b57"/>
<circle cx="482.5" cy="953.1" r="2.35" fill="#2e8b57"/>
<circle cx="496.0" cy="949.9" r="2.35" fill="#2e8b57"/>
<circle cx="509.5" cy="938.2" r="2.35" fill="#2e8b57"/>
<circle cx="523.0" cy="926.4" r="2.35" fill="#2e8b57"/>
<circle cx="536.5" cy="915.8" r="2.35" fill="#2e8b57"/>
<circle cx="550.0" cy="908.3" r="2.35" fill="#2e8b57"/>
<circle cx="563.5" cy="900.8" r="2.35" fill="#2e8b57"/>
<path d="M144.8 1130.0 L147.5 1129.9 L150.2 1129.8 L152.9 1129.6 L155.6 1129.5 L158.3 1129.4 L161.0 1129.3 L163.7 1129.2 L166.4 1129.0 L169.1 1128.9 L171.8 1128.8 L174.5 1128.6 L177.2 1128.5 L179.9 1128.3 L182.6 1128.2 L185.3 1128.0 L188.0 1127.9 L190.7 1127.8 L193.4 1127.7 L196.1 1127.5 L198.8 1127.4 L201.5 1127.2 L204.2 1127.1 L206.9 1126.9 L209.6 1126.7 L212.3 1126.5 L215.0 1126.4 L217.7 1126.2 L220.4 1126.0 L223.1 1125.7 L225.8 1125.5 L228.6 1125.3 L231.3 1125.1 L234.0 1124.8 L236.7 1124.5 L239.4 1124.3 L242.1 1124.0 L244.8 1123.8 L247.5 1123.6 L250.2 1123.3 L252.9 1123.0 L255.6 1122.8 L258.3 1122.5 L261.0 1122.2 L263.7 1121.9 L266.4 1121.6 L269.1 1121.2 L271.8 1120.9 L274.5 1120.6 L277.2 1120.2 L279.9 1119.9 L282.6 1119.4 L285.3 1118.9 L288.0 1118.5 L290.7 1118.0 L293.4 1117.6 L296.1 1117.3 L298.8 1117.0 L301.5 1116.7 L304.2 1116.5 L306.9 1116.1 L309.6 1115.6 L312.3 1115.0 L315.0 1114.3 L317.7 1113.5 L320.4 1112.6 L323.1 1111.5 L325.8 1110.1 L328.5 1108.5 L331.2 1106.9 L333.9 1105.1 L336.6 1103.2 L339.3 1101.2 L342.0 1099.0 L344.7 1096.7 L347.4 1094.3 L350.1 1091.9 L352.8 1089.4 L355.5 1086.7 L358.2 1084.0 L360.9 1081.1 L363.6 1078.0 L366.3 1074.6 L369.0 1071.2 L371.7 1067.8 L374.4 1064.7 L377.1 1061.8 L379.8 1059.0 L382.5 1056.3 L385.2 1053.7 L387.9 1051.2 L390.6 1049.0 L393.3 1046.9 L396.0 1044.9 L398.7 1042.8 L401.4 1040.6 L404.1 1038.1 L406.8 1035.5 L409.5 1032.9 L412.2 1030.2 L414.9 1027.7 L417.6 1025.2 L420.3 1022.7 L423.0 1020.2 L425.7 1017.9 L428.4 1015.8 L431.1 1014.0 L433.8 1012.3 L436.5 1010.7 L439.2 1009.1 L441.9 1007.5 L444.6 1005.9 L447.3 1004.2 L450.0 1002.6 L452.7 1000.9 L455.4 999.1 L458.1 997.0 L460.8 994.8 L463.5 992.5 L466.2 990.2 L468.9 988.2 L471.7 986.3 L474.4 984.6 L477.1 982.9 L479.8 981.3 L482.5 979.8 L485.2 978.3 L487.9 976.9 L490.6 975.6 L493.3 974.2 L496.0 972.7 L498.7 971.1 L501.4 969.5 L504.1 967.8 L506.8 966.0 L509.5 964.3 L512.2 962.5 L514.9 960.6 L517.6 958.8 L520.3 956.9 L523.0 955.2 L525.7 953.7 L528.4 952.2 L531.1 950.8 L533.8 949.3 L536.5 947.8 L539.2 946.2 L541.9 944.5 L544.6 942.8 L547.3 941.1 L550.0 939.2 L552.7 937.2 L555.4 935.1 L558.1 932.9 L560.8 930.9 L563.5 929.1 L566.2 927.6 L568.9 926.1 L571.6 924.8 L574.3 923.6 L577.0 922.6" fill="none" stroke="#00f0f0" stroke-width="1.1"/>
<circle cx="144.8" cy="1130.0" r="2.35" fill="#00f0f0"/>
<circle cx="158.3" cy="1129.4" r="2.35" fill="#00f0f0"/>
<circle cx="171.8" cy="1128.8" r="2.35" fill="#00f0f0"/>
<circle cx="185.3" cy="1128.0" r="2.35" fill="#00f0f0"/>
<circle cx="198.8" cy="1127.4" r="2.35" fill="#00f0f0"/>
<circle cx="212.3" cy="1126.5" r="2.35" fill="#00f0f0"/>
<circle cx="225.8" cy="1125.5" r="2.35" fill="#00f0f0"/>
<circle cx="239.4" cy="1124.3" r="2.35" fill="#00f0f0"/>
<circle cx="252.9" cy="1123.0" r="2.35" fill="#00f0f0"/>
<circle cx="266.4" cy="1121.6" r="2.35" fill="#00f0f0"/>
<circle cx="279.9" cy="1119.9" r="2.35" fill="#00f0f0"/>
<circle cx="293.4" cy="1117.6" r="2.35" fill="#00f0f0"/>
<circle cx="306.9" cy="1116.1" r="2.35" fill="#00f0f0"/>
<circle cx="320.4" cy="1112.6" r="2.35" fill="#00f0f0"/>
<circle cx="333.9" cy="1105.1" r="2.35" fill="#00f0f0"/>
<circle cx="347.4" cy="1094.3" r="2.35" fill="#00f0f0"/>
<circle cx="360.9" cy="1081.1" r="2.35" fill="#00f0f0"/>
<circle cx="374.4" cy="1064.7" r="2.35" fill="#00f0f0"/>
<circle cx="387.9" cy="1051.2" r="2.35" fill="#00f0f0"/>
<circle cx="401.4" cy="1040.6" r="2.35" fill="#00f0f0"/>
<circle cx="414.9" cy="1027.7" r="2.35" fill="#00f0f0"/>
<circle cx="428.4" cy="1015.8" r="2.35" fill="#00f0f0"/>
<circle cx="441.9" cy="1007.5" r="2.35" fill="#00f0f0"/>
<circle cx="455.4" cy="999.1" r="2.35" fill="#00f0f0"/>
<circle cx="468.9" cy="988.2" r="2.35" fill="#00f0f0"/>
<circle cx="482.5" cy="979.8" r="2.35" fill="#00f0f0"/>
<circle cx="496.0" cy="972.7" r="2.35" fill="#00f0f0"/>
<circle cx="509.5" cy="964.3" r="2.35" fill="#00f0f0"/>
<circle cx="523.0" cy="955.2" r="2.35" fill="#00f0f0"/>
<circle cx="536.5" cy="947.8" r="2.35" fill="#00f0f0"/>
<circle cx="550.0" cy="939.2" r="2.35" fill="#00f0f0"/>
<circle cx="563.5" cy="929.1" r="2.35" fill="#00f0f0"/>
<path d="M144.8 1130.0 L147.5 1129.9 L150.2 1129.8 L152.9 1129.6 L155.6 1129.5 L158.3 1129.4 L161.0 1129.3 L163.7 1129.2 L166.4 1129.0 L169.1 1128.9 L171.8 1128.8 L174.5 1128.6 L177.2 1128.5 L179.9 1128.3 L182.6 1128.2 L185.3 1128.0 L188.0 1127.9 L190.7 1127.8 L193.4 1127.7 L196.1 1127.5 L198.8 1127.4 L201.5 1127.2 L204.2 1127.1 L206.9 1126.9 L209.6 1126.7 L212.3 1126.5 L215.0 1126.4 L217.7 1126.2 L220.4 1126.0 L223.1 1125.8 L225.8 1125.6 L228.6 1125.3 L231.3 1125.1 L234.0 1124.9 L236.7 1124.6 L239.4 1124.4 L242.1 1124.1 L244.8 1123.9 L247.5 1123.7 L250.2 1123.4 L252.9 1123.2 L255.6 1122.9 L258.3 1122.6 L261.0 1122.3 L263.7 1122.1 L266.4 1121.8 L269.1 1121.4 L271.8 1121.1 L274.5 1120.8 L277.2 1120.5 L279.9 1120.1 L282.6 1119.7 L285.3 1119.2 L288.0 1118.7 L290.7 1118.3 L293.4 1117.9 L296.1 1117.6 L298.8 1117.3 L301.5 1117.1 L304.2 1116.8 L306.9 1116.5 L309.6 1116.1 L312.3 1115.7 L315.0 1115.3 L317.7 1114.8 L320.4 1114.2 L323.1 1113.4 L325.8 1112.5 L328.5 1111.5 L331.2 1110.4 L333.9 1109.4 L336.6 1108.3 L339.3 1107.2 L342.0 1106.1 L344.7 1104.9 L347.4 1103.5 L350.1 1101.9 L352.8 1100.2 L355.5 1098.3 L358.2 1096.2 L360.9 1094.0 L363.6 1091.5 L366.3 1088.7 L369.0 1085.8 L371.7 1082.9 L374.4 1080.1 L377.1 1077.6 L379.8 1075.1 L382.5 1072.7 L385.2 1070.4 L387.9 1068.1 L390.6 1065.9 L393.3 1063.7 L396.0 1061.6 L398.7 1059.5 L401.4 1057.4 L404.1 1055.3 L406.8 1053.3 L409.5 1051.2 L412.2 1049.2 L414.9 1047.3 L417.6 1045.5 L420.3 1043.8 L423.0 1042.2 L425.7 1040.4 L428.4 1038.4 L431.1 1036.1 L433.8 1033.3 L436.5 1030.4 L439.2 1027.7 L441.9 1025.4 L444.6 1023.5 L447.3 1021.9 L450.0 1020.4 L452.7 1018.8 L455.4 1017.2 L458.1 1015.5 L460.8 1013.7 L463.5 1011.9 L466.2 1010.1 L468.9 1008.4 L471.7 1006.6 L474.4 1005.0 L477.1 1003.3 L479.8 1001.6 L482.5 1000.0 L485.2 998.5 L487.9 997.0 L490.6 995.5 L493.3 994.0 L496.0 992.4 L498.7 990.4 L501.4 988.3 L504.1 986.1 L506.8 984.1 L509.5 982.4 L512.2 981.2 L514.9 980.1 L517.6 979.1 L520.3 978.1 L523.0 977.1 L525.7 976.0 L528.4 975.0 L531.1 973.9 L533.8 972.7 L536.5 971.2 L539.2 969.2 L541.9 966.6 L544.6 963.8 L547.3 961.3 L550.0 959.5 L552.7 958.4 L555.4 957.7 L558.1 957.0 L560.8 956.2 L563.5 955.2 L566.2 953.9 L568.9 952.2 L571.6 950.2 L574.3 948.0 L577.0 945.6" fill="none" stroke="#8b0000" stroke-width="1.1"/>
<circle cx="144.8" cy="1130.0" r="2.35" fill="#8b0000"/>
<circle cx="158.3" cy="1129.4" r="2.35" fill="#8b0000"/>
<circle cx="171.8" cy="1128.8" r="2.35" fill="#8b0000"/>
<circle cx="185.3" cy="1128.0" r="2.35" fill="#8b0000"/>
<circle cx="198.8" cy="1127.4" r="2.35" fill="#8b0000"/>
<circle cx="212.3" cy="1126.5" r="2.35" fill="#8b0000"/>
<circle cx="225.8" cy="1125.6" r="2.35" fill="#8b0000"/>
<circle cx="239.4" cy="1124.4" r="2.35" fill="#8b0000"/>
<circle cx="252.9" cy="1123.2" r="2.35" fill="#8b0000"/>
<circle cx="266.4" cy="1121.8" r="2.35" fill="#8b0000"/>
<circle cx="279.9" cy="1120.1" r="2.35" fill="#8b0000"/>
<circle cx="293.4" cy="1117.9" r="2.35" fill="#8b0000"/>
<circle cx="306.9" cy="1116.5" r="2.35" fill="#8b0000"/>
<circle cx="320.4" cy="1114.2" r="2.35" fill="#8b0000"/>
<circle cx="333.9" cy="1109.4" r="2.35" fill="#8b0000"/>
<circle cx="347.4" cy="1103.5" r="2.35" fill="#8b0000"/>
<circle cx="360.9" cy="1094.0" r="2.35" fill="#8b0000"/>
<circle cx="374.4" cy="1080.1" r="2.35" fill="#8b0000"/>
<circle cx="387.9" cy="1068.1" r="2.35" fill="#8b0000"/>
<circle cx="401.4" cy="1057.4" r="2.35" fill="#8b0000"/>
<circle cx="414.9" cy="1047.3" r="2.35" fill="#8b0000"/>
<circle cx="428.4" cy="1038.4" r="2.35" fill="#8b0000"/>
<circle cx="441.9" cy="1025.4" r="2.35" fill="#8b0000"/>
<circle cx="455.4" cy="1017.2" r="2.35" fill="#8b0000"/>
<circle cx="468.9" cy="1008.4" r="2.35" fill="#8b0000"/>
<circle cx="482.5" cy="1000.0" r="2.35" fill="#8b0000"/>
<circle cx="496.0" cy="992.4" r="2.35" fill="#8b0000"/>
<circle cx="509.5" cy="982.4" r="2.35" fill="#8b0000"/>
<circle cx="523.0" cy="977.1" r="2.35" fill="#8b0000"/>
<circle cx="536.5" cy="971.2" r="2.35" fill="#8b0000"/>
<circle cx="550.0" cy="959.5" r="2.35" fill="#8b0000"/>
<circle cx="563.5" cy="955.2" r="2.35" fill="#8b0000"/>
<path d="M144.8 1130.0 L147.5 1129.9 L150.2 1129.8 L152.9 1129.6 L155.6 1129.5 L158.3 1129.4 L161.0 1129.3 L163.7 1129.2 L166.4 1129.0 L169.1 1128.9 L171.8 1128.8 L174.5 1128.6 L177.2 1128.5 L179.9 1128.3 L182.6 1128.2 L185.3 1128.0 L188.0 1127.9 L190.7 1127.8 L193.4 1127.7 L196.1 1127.5 L198.8 1127.4 L201.5 1127.2 L204.2 1127.1 L206.9 1126.9 L209.6 1126.7 L212.3 1126.5 L215.0 1126.4 L217.7 1126.2 L220.4 1126.0 L223.1 1125.8 L225.8 1125.6 L228.6 1125.4 L231.3 1125.2 L234.0 1124.9 L236.7 1124.7 L239.4 1124.4 L242.1 1124.2 L244.8 1124.0 L247.5 1123.8 L250.2 1123.5 L252.9 1123.3 L255.6 1123.0 L258.3 1122.8 L261.0 1122.5 L263.7 1122.2 L266.4 1121.9 L269.1 1121.7 L271.8 1121.4 L274.5 1121.1 L277.2 1120.7 L279.9 1120.4 L282.6 1120.0 L285.3 1119.5 L288.0 1119.0 L290.7 1118.5 L293.4 1118.1 L296.1 1117.8 L298.8 1117.6 L301.5 1117.3 L304.2 1117.1 L306.9 1116.8 L309.6 1116.5 L312.3 1116.2 L315.0 1115.9 L317.7 1115.5 L320.4 1115.0 L323.1 1114.4 L325.8 1113.7 L328.5 1112.8 L331.2 1111.9 L333.9 1111.0 L336.6 1110.1 L339.3 1109.1 L342.0 1108.2 L344.7 1107.2 L347.4 1106.2 L350.1 1105.2 L352.8 1104.2 L355.5 1103.1 L358.2 1101.9 L360.9 1100.5 L363.6 1098.6 L366.3 1096.2 L369.0 1093.5 L371.7 1090.9 L374.4 1088.6 L377.1 1086.6 L379.8 1084.9 L382.5 1083.2 L385.2 1081.5 L387.9 1079.7 L390.6 1077.7 L393.3 1075.7 L396.0 1073.6 L398.7 1071.5 L401.4 1069.6 L404.1 1067.8 L406.8 1066.2 L409.5 1064.5 L412.2 1062.9 L414.9 1061.0 L417.6 1059.0 L420.3 1056.8 L423.0 1054.6 L425.7 1052.4 L428.4 1050.3 L431.1 1048.3 L433.8 1046.3 L436.5 1044.5 L439.2 1042.6 L441.9 1040.9 L444.6 1039.2 L447.3 1037.6 L450.0 1036.0 L452.7 1034.5 L455.4 1033.1 L458.1 1031.8 L460.8 1030.5 L463.5 1029.3 L466.2 1028.0 L468.9 1026.6 L471.7 1024.9 L474.4 1023.1 L477.1 1021.1 L479.8 1019.2 L482.5 1017.4 L485.2 1015.8 L487.9 1014.3 L490.6 1012.8 L493.3 1011.4 L496.0 1010.0 L498.7 1008.6 L501.4 1007.3 L504.1 1006.0 L506.8 1004.7 L509.5 1003.3 L512.2 1001.9 L514.9 1000.4 L517.6 998.9 L520.3 997.3 L523.0 995.8 L525.7 994.2 L528.4 992.5 L531.1 990.9 L533.8 989.3 L536.5 987.8 L539.2 986.4 L541.9 985.1 L544.6 983.9 L547.3 982.6 L550.0 981.2 L552.7 979.5 L555.4 977.6 L558.1 975.7 L560.8 973.9 L563.5 972.3 L566.2 971.0 L568.9 969.7 L571.6 968.6 L574.3 967.5 L577.0 966.6" fill="none" stroke="#0000ff" stroke-width="1.1"/>
<circle cx="144.8" cy="1130.0" r="2.35" fill="#0000ff"/>
<circle cx="158.3" cy="1129.4" r="2.35" fill="#0000ff"/>
<circle cx="171.8" cy="1128.8" r="2.35" fill="#0000ff"/>
<circle cx="185.3" cy="1128.0" r="2.35" fill="#0000ff"/>
<circle cx="198.8" cy="1127.4" r="2.35" fill="#0000ff"/>
<circle cx="212.3" cy="1126.5" r="2.35" fill="#0000ff"/>
<circle cx="225.8" cy="1125.6" r="2.35" fill="#0000ff"/>
<circle cx="239.4" cy="1124.4" r="2.35" fill="#0000ff"/>
<circle cx="252.9" cy="1123.3" r="2.35" fill="#0000ff"/>
<circle cx="266.4" cy="1121.9" r="2.35" fill="#0000ff"/>
<circle cx="279.9" cy="1120.4" r="2.35" fill="#0000ff"/>
<circle cx="293.4" cy="1118.1" r="2.35" fill="#0000ff"/>
<circle cx="306.9" cy="1116.8" r="2.35" fill="#0000ff"/>
<circle cx="320.4" cy="1115.0" r="2.35" fill="#0000ff"/>
<circle cx="333.9" cy="1111.0" r="2.35" fill="#0000ff"/>
<circle cx="347.4" cy="1106.2" r="2.35" fill="#0000ff"/>
<circle cx="360.9" cy="1100.5" r="2.35" fill="#0000ff"/>
<circle cx="374.4" cy="1088.6" r="2.35" fill="#0000ff"/>
<circle cx="387.9" cy="1079.7" r="2.35" fill="#0000ff"/>
<circle cx="401.4" cy="1069.6" r="2.35" fill="#0000ff"/>
<circle cx="414.9" cy="1061.0" r="2.35" fill="#0000ff"/>
<circle cx="428.4" cy="1050.3" r="2.35" fill="#0000ff"/>
<circle cx="441.9" cy="1040.9" r="2.35" fill="#0000ff"/>
<circle cx="455.4" cy="1033.1" r="2.35" fill="#0000ff"/>
<circle cx="468.9" cy="1026.6" r="2.35" fill="#0000ff"/>
<circle cx="482.5" cy="1017.4" r="2.35" fill="#0000ff"/>
<circle cx="496.0" cy="1010.0" r="2.35" fill="#0000ff"/>
<circle cx="509.5" cy="1003.3" r="2.35" fill="#0000ff"/>
<circle cx="523.0" cy="995.8" r="2.35" fill="#0000ff"/>
<circle cx="536.5" cy="987.8" r="2.35" fill="#0000ff"/>
<circle cx="550.0" cy="981.2" r="2.35" fill="#0000ff"/>
<circle cx="563.5" cy="972.3" r="2.35" fill="#0000ff"/>
<path d="M144.8 1130.0 L147.5 1129.9 L150.2 1129.8 L152.9 1129.6 L155.6 1129.5 L158.3 1129.4 L161.0 1129.3 L163.7 1129.2 L166.4 1129.0 L169.1 1128.9 L171.8 1128.8 L174.5 1128.6 L177.2 1128.5 L179.9 1128.3 L182.6 1128.2 L185.3 1128.0 L188.0 1127.9 L190.7 1127.8 L193.4 1127.7 L196.1 1127.5 L198.8 1127.4 L201.5 1127.2 L204.2 1127.1 L206.9 1126.9 L209.6 1126.7 L212.3 1126.5 L215.0 1126.4 L217.7 1126.2 L220.4 1126.0 L223.1 1125.8 L225.8 1125.6 L228.6 1125.4 L231.3 1125.2 L234.0 1125.0 L236.7 1124.7 L239.4 1124.5 L242.1 1124.3 L244.8 1124.1 L247.5 1123.9 L250.2 1123.7 L252.9 1123.4 L255.6 1123.2 L258.3 1122.9 L261.0 1122.7 L263.7 1122.4 L266.4 1122.1 L269.1 1121.9 L271.8 1121.6 L274.5 1121.3 L277.2 1121.0 L279.9 1120.6 L282.6 1120.2 L285.3 1119.8 L288.0 1119.3 L290.7 1118.8 L293.4 1118.4 L296.1 1118.1 L298.8 1117.8 L301.5 1117.6 L304.2 1117.3 L306.9 1117.0 L309.6 1116.8 L312.3 1116.5 L315.0 1116.2 L317.7 1115.9 L320.4 1115.4 L323.1 1114.9 L325.8 1114.2 L328.5 1113.4 L331.2 1112.5 L333.9 1111.7 L336.6 1110.9 L339.3 1110.1 L342.0 1109.3 L344.7 1108.5 L347.4 1107.6 L350.1 1106.6 L352.8 1105.5 L355.5 1104.4 L358.2 1103.2 L360.9 1101.9 L363.6 1100.4 L366.3 1098.6 L369.0 1096.8 L371.7 1095.0 L374.4 1093.5 L377.1 1092.2 L379.8 1091.1 L382.5 1090.1 L385.2 1089.0 L387.9 1087.8 L390.6 1086.5 L393.3 1085.2 L396.0 1083.7 L398.7 1082.2 L401.4 1080.7 L404.1 1079.0 L406.8 1077.2 L409.5 1075.4 L412.2 1073.6 L414.9 1071.7 L417.6 1069.9 L420.3 1068.0 L423.0 1066.1 L425.7 1064.3 L428.4 1062.4 L431.1 1060.6 L433.8 1058.8 L436.5 1057.0 L439.2 1055.3 L441.9 1053.8 L444.6 1052.5 L447.3 1051.4 L450.0 1050.4 L452.7 1049.3 L455.4 1047.9 L458.1 1046.2 L460.8 1044.2 L463.5 1042.0 L466.2 1039.9 L468.9 1038.0 L471.7 1036.5 L474.4 1035.0 L477.1 1033.7 L479.8 1032.4 L482.5 1031.0 L485.2 1029.5 L487.9 1027.9 L490.6 1026.3 L493.3 1024.9 L496.0 1023.5 L498.7 1022.3 L501.4 1021.2 L504.1 1020.2 L506.8 1019.1 L509.5 1018.0 L512.2 1016.6 L514.9 1015.2 L517.6 1013.7 L520.3 1012.3 L523.0 1011.0 L525.7 1010.0 L528.4 1009.1 L531.1 1008.2 L533.8 1007.3 L536.5 1006.1 L539.2 1004.6 L541.9 1002.7 L544.6 1000.6 L547.3 998.7 L550.0 997.2 L552.7 996.0 L555.4 995.0 L558.1 994.1 L560.8 993.2 L563.5 992.1 L566.2 991.0 L568.9 989.9 L571.6 988.7 L574.3 987.4 L577.0 986.2" fill="none" stroke="#ff0000" stroke-width="1.1"/>
<circle cx="144.8" cy="1130.0" r="2.35" fill="#ff0000"/>
<circle cx="158.3" cy="1129.4" r="2.35" fill="#ff0000"/>
<circle cx="171.8" cy="1128.8" r="2.35" fill="#ff0000"/>
<circle cx="185.3" cy="1128.0" r="2.35" fill="#ff0000"/>
<circle cx="198.8" cy="1127.4" r="2.35" fill="#ff0000"/>
<circle cx="212.3" cy="1126.5" r="2.35" fill="#ff0000"/>
<circle cx="225.8" cy="1125.6" r="2.35" fill="#ff0000"/>
<circle cx="239.4" cy="1124.5" r="2.35" fill="#ff0000"/>
<circle cx="252.9" cy="1123.4" r="2.35" fill="#ff0000"/>
<circle cx="266.4" cy="1122.1" r="2.35" fill="#ff0000"/>
<circle cx="279.9" cy="1120.6" r="2.35" fill="#ff0000"/>
<circle cx="293.4" cy="1118.4" r="2.35" fill="#ff0000"/>
<circle cx="306.9" cy="1117.0" r="2.35" fill="#ff0000"/>
<circle cx="320.4" cy="1115.4" r="2.35" fill="#ff0000"/>
<circle cx="333.9" cy="1111.7" r="2.35" fill="#ff0000"/>
<circle cx="347.4" cy="1107.6" r="2.35" fill="#ff0000"/>
<circle cx="360.9" cy="1101.9" r="2.35" fill="#ff0000"/>
<circle cx="374.4" cy="1093.5" r="2.35" fill="#ff0000"/>
<circle cx="387.9" cy="1087.8" r="2.35" fill="#ff0000"/>
<circle cx="401.4" cy="1080.7" r="2.35" fill="#ff0000"/>
<circle cx="414.9" cy="1071.7" r="2.35" fill="#ff0000"/>
<circle cx="428.4" cy="1062.4" r="2.35" fill="#ff0000"/>
<circle cx="441.9" cy="1053.8" r="2.35" fill="#ff0000"/>
<circle cx="455.4" cy="1047.9" r="2.35" fill="#ff0000"/>
<circle cx="468.9" cy="1038.0" r="2.35" fill="#ff0000"/>
<circle cx="482.5" cy="1031.0" r="2.35" fill="#ff0000"/>
<circle cx="496.0" cy="1023.5" r="2.35" fill="#ff0000"/>
<circle cx="509.5" cy="1018.0" r="2.35" fill="#ff0000"/>
<circle cx="523.0" cy="1011.0" r="2.35" fill="#ff0000"/>
<circle cx="536.5" cy="1006.1" r="2.35" fill="#ff0000"/>
<circle cx="550.0" cy="997.2" r="2.35" fill="#ff0000"/>
<circle cx="563.5" cy="992.1" r="2.35" fill="#ff0000"/>
<path d="M144.8 1130.0 L147.5 1129.9 L150.2 1129.8 L152.9 1129.6 L155.6 1129.5 L158.3 1129.4 L161.0 1129.3 L163.7 1129.2 L166.4 1129.0 L169.1 1128.9 L171.8 1128.8 L174.5 1128.6 L177.2 1128.5 L179.9 1128.3 L182.6 1128.2 L185.3 1128.0 L188.0 1127.9 L190.7 1127.8 L193.4 1127.7 L196.1 1127.5 L198.8 1127.4 L201.5 1127.2 L204.2 1127.1 L206.9 1126.9 L209.6 1126.7 L212.3 1126.5 L215.0 1126.4 L217.7 1126.2 L220.4 1126.0 L223.1 1125.9 L225.8 1125.7 L228.6 1125.5 L231.3 1125.3 L234.0 1125.0 L236.7 1124.8 L239.4 1124.6 L242.1 1124.4 L244.8 1124.2 L247.5 1124.0 L250.2 1123.8 L252.9 1123.5 L255.6 1123.3 L258.3 1123.1 L261.0 1122.8 L263.7 1122.6 L266.4 1122.3 L269.1 1122.1 L271.8 1121.8 L274.5 1121.5 L277.2 1121.2 L279.9 1120.9 L282.6 1120.5 L285.3 1120.0 L288.0 1119.5 L290.7 1119.0 L293.4 1118.6 L296.1 1118.3 L298.8 1118.1 L301.5 1117.9 L304.2 1117.6 L306.9 1117.4 L309.6 1117.1 L312.3 1116.9 L315.0 1116.6 L317.7 1116.3 L320.4 1116.0 L323.1 1115.5 L325.8 1114.8 L328.5 1114.1 L331.2 1113.3 L333.9 1112.6 L336.6 1111.8 L339.3 1111.1 L342.0 1110.4 L344.7 1109.6 L347.4 1108.8 L350.1 1108.0 L352.8 1107.1 L355.5 1106.2 L358.2 1105.3 L360.9 1104.6 L363.6 1103.9 L366.3 1103.4 L369.0 1102.9 L371.7 1102.2 L374.4 1101.5 L377.1 1100.3 L379.8 1098.9 L382.5 1097.2 L385.2 1095.5 L387.9 1093.9 L390.6 1092.6 L393.3 1091.3 L396.0 1090.0 L398.7 1088.7 L401.4 1087.3 L404.1 1085.6 L406.8 1083.6 L409.5 1081.6 L412.2 1079.7 L414.9 1078.1 L417.6 1076.9 L420.3 1075.9 L423.0 1075.0 L425.7 1074.0 L428.4 1072.8 L431.1 1071.2 L433.8 1069.2 L436.5 1067.1 L439.2 1065.0 L441.9 1063.2 L444.6 1061.6 L447.3 1060.0 L450.0 1058.6 L452.7 1057.2 L455.4 1055.8 L458.1 1054.6 L460.8 1053.4 L463.5 1052.3 L466.2 1051.1 L468.9 1049.8 L471.7 1048.3 L474.4 1046.5 L477.1 1044.7 L479.8 1043.0 L482.5 1041.5 L485.2 1040.3 L487.9 1039.3 L490.6 1038.3 L493.3 1037.4 L496.0 1036.3 L498.7 1035.1 L501.4 1033.9 L504.1 1032.7 L506.8 1031.4 L509.5 1030.0 L512.2 1028.5 L514.9 1027.0 L517.6 1025.4 L520.3 1023.7 L523.0 1022.0 L525.7 1020.2 L528.4 1018.1 L531.1 1016.1 L533.8 1014.4 L536.5 1013.2 L539.2 1012.4 L541.9 1011.8 L544.6 1011.3 L547.3 1010.8 L550.0 1010.2 L552.7 1009.3 L555.4 1008.4 L558.1 1007.4 L560.8 1006.3 L563.5 1005.2 L566.2 1004.0 L568.9 1002.7 L571.6 1001.4 L574.3 1000.0 L577.0 998.5" fill="none" stroke="#000000" stroke-width="1.1"/>
<circle cx="144.8" cy="1130.0" r="2.35" fill="#000000"/>
<circle cx="158.3" cy="1129.4" r="2.35" fill="#000000"/>
<circle cx="171.8" cy="1128.8" r="2.35" fill="#000000"/>
<circle cx="185.3" cy="1128.0" r="2.35" fill="#000000"/>
<circle cx="198.8" cy="1127.4" r="2.35" fill="#000000"/>
<circle cx="212.3" cy="1126.5" r="2.35" fill="#000000"/>
<circle cx="225.8" cy="1125.7" r="2.35" fill="#000000"/>
<circle cx="239.4" cy="1124.6" r="2.35" fill="#000000"/>
<circle cx="252.9" cy="1123.5" r="2.35" fill="#000000"/>
<circle cx="266.4" cy="1122.3" r="2.35" fill="#000000"/>
<circle cx="279.9" cy="1120.9" r="2.35" fill="#000000"/>
<circle cx="293.4" cy="1118.6" r="2.35" fill="#000000"/>
<circle cx="306.9" cy="1117.4" r="2.35" fill="#000000"/>
<circle cx="320.4" cy="1116.0" r="2.35" fill="#000000"/>
<circle cx="333.9" cy="1112.6" r="2.35" fill="#000000"/>
<circle cx="347.4" cy="1108.8" r="2.35" fill="#000000"/>
<circle cx="360.9" cy="1104.6" r="2.35" fill="#000000"/>
<circle cx="374.4" cy="1101.5" r="2.35" fill="#000000"/>
<circle cx="387.9" cy="1093.9" r="2.35" fill="#000000"/>
<circle cx="401.4" cy="1087.3" r="2.35" fill="#000000"/>
<circle cx="414.9" cy="1078.1" r="2.35" fill="#000000"/>
<circle cx="428.4" cy="1072.8" r="2.35" fill="#000000"/>
<circle cx="441.9" cy="1063.2" r="2.35" fill="#000000"/>
<circle cx="455.4" cy="1055.8" r="2.35" fill="#000000"/>
<circle cx="468.9" cy="1049.8" r="2.35" fill="#000000"/>
<circle cx="482.5" cy="1041.5" r="2.35" fill="#000000"/>
<circle cx="496.0" cy="1036.3" r="2.35" fill="#000000"/>
<circle cx="509.5" cy="1030.0" r="2.35" fill="#000000"/>
<circle cx="523.0" cy="1022.0" r="2.35" fill="#000000"/>
<circle cx="536.5" cy="1013.2" r="2.35" fill="#000000"/>
<circle cx="550.0" cy="1010.2" r="2.35" fill="#000000"/>
<circle cx="563.5" cy="1005.2" r="2.35" fill="#000000"/>
<path d="M144.8 1130.0 L147.5 1129.9 L150.2 1129.8 L152.9 1129.6 L155.6 1129.5 L158.3 1129.4 L161.0 1129.3 L163.7 1129.2 L166.4 1129.0 L169.1 1128.9 L171.8 1128.8 L174.5 1128.6 L177.2 1128.5 L179.9 1128.3 L182.6 1128.2 L185.3 1128.0 L188.0 1127.9 L190.7 1127.8 L193.4 1127.7 L196.1 1127.5 L198.8 1127.4 L201.5 1127.2 L204.2 1127.1 L206.9 1126.9 L209.6 1126.7 L212.3 1126.5 L215.0 1126.4 L217.7 1126.2 L220.4 1126.0 L223.1 1125.9 L225.8 1125.7 L228.6 1125.5 L231.3 1125.3 L234.0 1125.1 L236.7 1124.9 L239.4 1124.7 L242.1 1124.5 L244.8 1124.3 L247.5 1124.1 L250.2 1123.9 L252.9 1123.7 L255.6 1123.5 L258.3 1123.2 L261.0 1123.0 L263.7 1122.7 L266.4 1122.5 L269.1 1122.3 L271.8 1122.0 L274.5 1121.8 L277.2 1121.5 L279.9 1121.2 L282.6 1120.8 L285.3 1120.3 L288.0 1119.8 L290.7 1119.3 L293.4 1119.0 L296.1 1118.7 L298.8 1118.5 L301.5 1118.3 L304.2 1118.1 L306.9 1117.9 L309.6 1117.7 L312.3 1117.5 L315.0 1117.3 L317.7 1117.1 L320.4 1116.8 L323.1 1116.5 L325.8 1116.0 L328.5 1115.4 L331.2 1114.8 L333.9 1114.2 L336.6 1113.6 L339.3 1113.0 L342.0 1112.3 L344.7 1111.6 L347.4 1111.0 L350.1 1110.2 L352.8 1109.5 L355.5 1108.7 L358.2 1108.0 L360.9 1107.2 L363.6 1106.6 L366.3 1106.0 L369.0 1105.4 L371.7 1104.8 L374.4 1104.0 L377.1 1103.1 L379.8 1102.1 L382.5 1101.0 L385.2 1099.8 L387.9 1098.7 L390.6 1097.6 L393.3 1096.4 L396.0 1095.2 L398.7 1094.0 L401.4 1092.8 L404.1 1091.6 L406.8 1090.4 L409.5 1089.1 L412.2 1087.8 L414.9 1086.4 L417.6 1085.0 L420.3 1083.4 L423.0 1081.8 L425.7 1080.3 L428.4 1079.0 L431.1 1077.8 L433.8 1076.8 L436.5 1075.8 L439.2 1074.7 L441.9 1073.6 L444.6 1072.4 L447.3 1071.0 L450.0 1069.6 L452.7 1068.3 L455.4 1067.0 L458.1 1065.9 L460.8 1064.9 L463.5 1063.9 L466.2 1062.9 L468.9 1061.9 L471.7 1060.8 L474.4 1059.6 L477.1 1058.4 L479.8 1057.2 L482.5 1056.0 L485.2 1054.9 L487.9 1053.7 L490.6 1052.5 L493.3 1051.3 L496.0 1050.2 L498.7 1049.1 L501.4 1048.0 L504.1 1047.0 L506.8 1046.0 L509.5 1044.8 L512.2 1043.6 L514.9 1042.4 L517.6 1041.0 L520.3 1039.7 L523.0 1038.4 L525.7 1037.2 L528.4 1035.9 L531.1 1034.6 L533.8 1033.4 L536.5 1032.0 L539.2 1030.6 L541.9 1029.2 L544.6 1027.7 L547.3 1026.3 L550.0 1025.0 L552.7 1023.9 L555.4 1022.8 L558.1 1021.8 L560.8 1020.9 L563.5 1019.9 L566.2 1018.9 L568.9 1017.9 L571.6 1016.9 L574.3 1015.9 L577.0 1015.0" fill="none" stroke="#dda0dd" stroke-width="1.1"/>
<circle cx="144.8" cy="1130.0" r="2.35" fill="#dda0dd"/>
<circle cx="158.3" cy="1129.4" r="2.35" fill="#dda0dd"/>
<circle cx="171.8" cy="1128.8" r="2.35" fill="#dda0dd"/>
<circle cx="185.3" cy="1128.0" r="2.35" fill="#dda0dd"/>
<circle cx="198.8" cy="1127.4" r="2.35" fill="#dda0dd"/>
<circle cx="212.3" cy="1126.5" r="2.35" fill="#dda0dd"/>
<circle cx="225.8" cy="1125.7" r="2.35" fill="#dda0dd"/>
<circle cx="239.4" cy="1124.7" r="2.35" fill="#dda0dd"/>
<circle cx="252.9" cy="1123.7" r="2.35" fill="#dda0dd"/>
<circle cx="266.4" cy="1122.5" r="2.35" fill="#dda0dd"/>
<circle cx="279.9" cy="1121.2" r="2.35" fill="#dda0dd"/>
<circle cx="293.4" cy="1119.0" r="2.35" fill="#dda0dd"/>
<circle cx="306.9" cy="1117.9" r="2.35" fill="#dda0dd"/>
<circle cx="320.4" cy="1116.8" r="2.35" fill="#dda0dd"/>
<circle cx="333.9" cy="1114.2" r="2.35" fill="#dda0dd"/>
<circle cx="347.4" cy="1111.0" r="2.35" fill="#dda0dd"/>
<circle cx="360.9" cy="1107.2" r="2.35" fill="#dda0dd"/>
<circle cx="374.4" cy="1104.0" r="2.35" fill="#dda0dd"/>
<circle cx="387.9" cy="1098.7" r="2.35" fill="#dda0dd"/>
<circle cx="401.4" cy="1092.8" r="2.35" fill="#dda0dd"/>
<circle cx="414.9" cy="1086.4" r="2.35" fill="#dda0dd"/>
<circle cx="428.4" cy="1079.0" r="2.35" fill="#dda0dd"/>
<circle cx="441.9" cy="1073.6" r="2.35" fill="#dda0dd"/>
<circle cx="455.4" cy="1067.0" r="2.35" fill="#dda0dd"/>
<circle cx="468.9" cy="1061.9" r="2.35" fill="#dda0dd"/>
<circle cx="482.5" cy="1056.0" r="2.35" fill="#dda0dd"/>
<circle cx="496.0" cy="1050.2" r="2.35" fill="#dda0dd"/>
<circle cx="509.5" cy="1044.8" r="2.35" fill="#dda0dd"/>
<circle cx="523.0" cy="1038.4" r="2.35" fill="#dda0dd"/>
<circle cx="536.5" cy="1032.0" r="2.35" fill="#dda0dd"/>
<circle cx="550.0" cy="1025.0" r="2.35" fill="#dda0dd"/>
<circle cx="563.5" cy="1019.9" r="2.35" fill="#dda0dd"/>
<path d="M144.8 1130.0 L147.5 1129.9 L150.2 1129.8 L152.9 1129.6 L155.6 1129.5 L158.3 1129.4 L161.0 1129.3 L163.7 1129.2 L166.4 1129.0 L169.1 1128.9 L171.8 1128.8 L174.5 1128.6 L177.2 1128.5 L179.9 1128.3 L182.6 1128.2 L185.3 1128.0 L188.0 1127.9 L190.7 1127.8 L193.4 1127.7 L196.1 1127.5 L198.8 1127.4 L201.5 1127.2 L204.2 1127.1 L206.9 1126.9 L209.6 1126.7 L212.3 1126.5 L215.0 1126.4 L217.7 1126.2 L220.4 1126.0 L223.1 1125.8 L225.8 1125.6 L228.6 1125.4 L231.3 1125.1 L234.0 1124.9 L236.7 1124.7 L239.4 1124.4 L242.1 1124.2 L244.8 1124.0 L247.5 1123.7 L250.2 1123.5 L252.9 1123.2 L255.6 1123.0 L258.3 1122.7 L261.0 1122.5 L263.7 1122.2 L266.4 1121.9 L269.1 1121.6 L271.8 1121.3 L274.5 1121.0 L277.2 1120.6 L279.9 1120.3 L282.6 1120.0 L285.3 1119.6 L288.0 1119.3 L290.7 1118.9 L293.4 1118.4 L296.1 1117.9 L298.8 1117.2 L301.5 1116.4 L304.2 1115.6 L306.9 1114.7 L309.6 1113.9 L312.3 1113.0 L315.0 1112.1 L317.7 1110.9 L320.4 1109.4 L323.1 1106.3 L325.8 1101.2 L328.5 1095.1 L331.2 1088.8 L333.9 1083.2 L336.6 1078.4 L339.3 1073.7 L342.0 1069.1 L344.7 1064.8 L347.4 1060.8 L350.1 1057.3 L352.8 1054.0 L355.5 1050.9 L358.2 1047.9 L360.9 1044.8 L363.6 1041.8 L366.3 1038.7 L369.0 1035.7 L371.7 1032.8 L374.4 1029.9 L377.1 1026.9 L379.8 1023.8 L382.5 1020.9 L385.2 1018.2 L387.9 1016.0 L390.6 1014.4 L393.3 1013.1 L396.0 1011.9 L398.7 1010.6 L401.4 1009.2 L404.1 1007.5 L406.8 1005.5 L409.5 1003.5 L412.2 1001.4 L414.9 999.5 L417.6 997.7 L420.3 996.0 L423.0 994.3 L425.7 992.7 L428.4 991.0 L431.1 989.3 L433.8 987.6 L436.5 985.9 L439.2 984.2 L441.9 982.4 L444.6 980.5 L447.3 978.5 L450.0 976.5 L452.7 974.6 L455.4 972.8 L458.1 971.3 L460.8 970.0 L463.5 968.7 L466.2 967.4 L468.9 965.9 L471.7 964.2 L474.4 962.3 L477.1 960.3 L479.8 958.3 L482.5 956.3 L485.2 954.3 L487.9 952.2 L490.6 950.2 L493.3 948.3 L496.0 946.7 L498.7 945.4 L501.4 944.2 L504.1 943.2 L506.8 942.1 L509.5 940.8 L512.2 939.4 L514.9 938.0 L517.6 936.4 L520.3 934.7 L523.0 932.8 L525.7 930.6 L528.4 927.9 L531.1 925.2 L533.8 922.6 L536.5 920.6 L539.2 919.0 L541.9 917.7 L544.6 916.6 L547.3 915.4 L550.0 914.2 L552.7 912.8 L555.4 911.5 L558.1 910.1 L560.8 908.7 L563.5 907.2 L566.2 905.8 L568.9 904.3 L571.6 902.8 L574.3 901.3 L577.0 899.8" fill="none" stroke="#9400d3" stroke-width="1.1" stroke-dasharray="3.7 3.7"/>
<circle cx="144.8" cy="1130.0" r="2.1" fill="none" stroke="#9400d3" stroke-width="1"/>
<circle cx="158.3" cy="1129.4" r="2.1" fill="none" stroke="#9400d3" stroke-width="1"/>
<circle cx="171.8" cy="1128.8" r="2.1" fill="none" stroke="#9400d3" stroke-width="1"/>
<circle cx="185.3" cy="1128.0" r="2.1" fill="none" stroke="#9400d3" stroke-width="1"/>
<circle cx="198.8" cy="1127.4" r="2.1" fill="none" stroke="#9400d3" stroke-width="1"/>
<circle cx="212.3" cy="1126.5" r="2.1" fill="none" stroke="#9400d3" stroke-width="1"/>
<circle cx="225.8" cy="1125.6" r="2.1" fill="none" stroke="#9400d3" stroke-width="1"/>
<circle cx="239.4" cy="1124.4" r="2.1" fill="none" stroke="#9400d3" stroke-width="1"/>
<circle cx="252.9" cy="1123.2" r="2.1" fill="none" stroke="#9400d3" stroke-width="1"/>
<circle cx="266.4" cy="1121.9" r="2.1" fill="none" stroke="#9400d3" stroke-width="1"/>
<circle cx="279.9" cy="1120.3" r="2.1" fill="none" stroke="#9400d3" stroke-width="1"/>
<circle cx="293.4" cy="1118.4" r="2.1" fill="none" stroke="#9400d3" stroke-width="1"/>
<circle cx="306.9" cy="1114.7" r="2.1" fill="none" stroke="#9400d3" stroke-width="1"/>
<circle cx="320.4" cy="1109.4" r="2.1" fill="none" stroke="#9400d3" stroke-width="1"/>
<circle cx="333.9" cy="1083.2" r="2.1" fill="none" stroke="#9400d3" stroke-width="1"/>
<circle cx="347.4" cy="1060.8" r="2.1" fill="none" stroke="#9400d3" stroke-width="1"/>
<circle cx="360.9" cy="1044.8" r="2.1" fill="none" stroke="#9400d3" stroke-width="1"/>
<circle cx="374.4" cy="1029.9" r="2.1" fill="none" stroke="#9400d3" stroke-width="1"/>
<circle cx="387.9" cy="1016.0" r="2.1" fill="none" stroke="#9400d3" stroke-width="1"/>
<circle cx="401.4" cy="1009.2" r="2.1" fill="none" stroke="#9400d3" stroke-width="1"/>
<circle cx="414.9" cy="999.5" r="2.1" fill="none" stroke="#9400d3" stroke-width="1"/>
<circle cx="428.4" cy="991.0" r="2.1" fill="none" stroke="#9400d3" stroke-width="1"/>
<circle cx="441.9" cy="982.4" r="2.1" fill="none" stroke="#9400d3" stroke-width="1"/>
<circle cx="455.4" cy="972.8" r="2.1" fill="none" stroke="#9400d3" stroke-width="1"/>
<circle cx="468.9" cy="965.9" r="2.1" fill="none" stroke="#9400d3" stroke-width="1"/>
<circle cx="482.5" cy="956.3" r="2.1" fill="none" stroke="#9400d3" stroke-width="1"/>
<circle cx="496.0" cy="946.7" r="2.1" fill="none" stroke="#9400d3" stroke-width="1"/>
<circle cx="509.5" cy="940.8" r="2.1" fill="none" stroke="#9400d3" stroke-width="1"/>
<circle cx="523.0" cy="932.8" r="2.1" fill="none" stroke="#9400d3" stroke-width="1"/>
<circle cx="536.5" cy="920.6" r="2.1" fill="none" stroke="#9400d3" stroke-width="1"/>
<circle cx="550.0" cy="914.2" r="2.1" fill="none" stroke="#9400d3" stroke-width="1"/>
<circle cx="563.5" cy="907.2" r="2.1" fill="none" stroke="#9400d3" stroke-width="1"/>
<path d="M144.8 1130.0 L147.5 1129.9 L150.2 1129.8 L152.9 1129.6 L155.6 1129.5 L158.3 1129.4 L161.0 1129.3 L163.7 1129.2 L166.4 1129.0 L169.1 1128.9 L171.8 1128.8 L174.5 1128.6 L177.2 1128.5 L179.9 1128.3 L182.6 1128.2 L185.3 1128.0 L188.0 1127.9 L190.7 1127.8 L193.4 1127.7 L196.1 1127.5 L198.8 1127.4 L201.5 1127.2 L204.2 1127.1 L206.9 1126.9 L209.6 1126.7 L212.3 1126.5 L215.0 1126.4 L217.7 1126.2 L220.4 1126.0 L223.1 1125.8 L225.8 1125.6 L228.6 1125.4 L231.3 1125.2 L234.0 1124.9 L236.7 1124.7 L239.4 1124.5 L242.1 1124.3 L244.8 1124.0 L247.5 1123.8 L250.2 1123.6 L252.9 1123.4 L255.6 1123.1 L258.3 1122.9 L261.0 1122.6 L263.7 1122.3 L266.4 1122.1 L269.1 1121.8 L271.8 1121.5 L274.5 1121.2 L277.2 1120.9 L279.9 1120.5 L282.6 1120.2 L285.3 1119.7 L288.0 1119.3 L290.7 1118.8 L293.4 1118.4 L296.1 1118.1 L298.8 1117.8 L301.5 1117.5 L304.2 1117.2 L306.9 1116.8 L309.6 1116.5 L312.3 1116.2 L315.0 1115.8 L317.7 1115.3 L320.4 1114.7 L323.1 1113.6 L325.8 1112.0 L328.5 1109.9 L331.2 1107.5 L333.9 1105.0 L336.6 1102.0 L339.3 1098.4 L342.0 1094.5 L344.7 1090.5 L347.4 1086.8 L350.1 1083.3 L352.8 1079.9 L355.5 1076.5 L358.2 1073.3 L360.9 1070.1 L363.6 1067.1 L366.3 1064.1 L369.0 1061.3 L371.7 1058.5 L374.4 1055.8 L377.1 1053.2 L379.8 1050.8 L382.5 1048.3 L385.2 1046.0 L387.9 1043.8 L390.6 1041.6 L393.3 1039.5 L396.0 1037.5 L398.7 1035.5 L401.4 1033.5 L404.1 1031.5 L406.8 1029.6 L409.5 1027.6 L412.2 1025.8 L414.9 1023.9 L417.6 1022.2 L420.3 1020.5 L423.0 1018.8 L425.7 1017.1 L428.4 1015.5 L431.1 1013.9 L433.8 1012.2 L436.5 1010.6 L439.2 1009.0 L441.9 1007.5 L444.6 1006.0 L447.3 1004.6 L450.0 1003.2 L452.7 1001.8 L455.4 1000.2 L458.1 998.6 L460.8 996.9 L463.5 995.1 L466.2 993.4 L468.9 991.7 L471.7 990.1 L474.4 988.5 L477.1 986.9 L479.8 985.3 L482.5 983.8 L485.2 982.4 L487.9 981.0 L490.6 979.7 L493.3 978.4 L496.0 977.1 L498.7 975.9 L501.4 974.8 L504.1 973.7 L506.8 972.6 L509.5 971.2 L512.2 969.7 L514.9 967.8 L517.6 965.9 L520.3 964.0 L523.0 962.2 L525.7 960.5 L528.4 959.0 L531.1 957.5 L533.8 955.9 L536.5 954.2 L539.2 952.2 L541.9 949.9 L544.6 947.7 L547.3 945.6 L550.0 943.9 L552.7 942.6 L555.4 941.5 L558.1 940.5 L560.8 939.6 L563.5 938.7 L566.2 937.8 L568.9 937.0 L571.6 936.3 L574.3 935.6 L577.0 935.0" fill="none" stroke="#2e8b57" stroke-width="1.1" stroke-dasharray="3.7 3.7"/>
<circle cx="144.8" cy="1130.0" r="2.1" fill="none" stroke="#2e8b57" stroke-width="1"/>
<circle cx="158.3" cy="1129.4" r="2.1" fill="none" stroke="#2e8b57" stroke-width="1"/>
<circle cx="171.8" cy="1128.8" r="2.1" fill="none" stroke="#2e8b57" stroke-width="1"/>
<circle cx="185.3" cy="1128.0" r="2.1" fill="none" stroke="#2e8b57" stroke-width="1"/>
<circle cx="198.8" cy="1127.4" r="2.1" fill="none" stroke="#2e8b57" stroke-width="1"/>
<circle cx="212.3" cy="1126.5" r="2.1" fill="none" stroke="#2e8b57" stroke-width="1"/>
<circle cx="225.8" cy="1125.6" r="2.1" fill="none" stroke="#2e8b57" stroke-width="1"/>
<circle cx="239.4" cy="1124.5" r="2.1" fill="none" stroke="#2e8b57" stroke-width="1"/>
<circle cx="252.9" cy="1123.4" r="2.1" fill="none" stroke="#2e8b57" stroke-width="1"/>
<circle cx="266.4" cy="1122.1" r="2.1" fill="none" stroke="#2e8b57" stroke-width="1"/>
<circle cx="279.9" cy="1120.5" r="2.1" fill="none" stroke="#2e8b57" stroke-width="1"/>
<circle cx="293.4" cy="1118.4" r="2.1" fill="none" stroke="#2e8b57" stroke-width="1"/>
<circle cx="306.9" cy="1116.8" r="2.1" fill="none" stroke="#2e8b57" stroke-width="1"/>
<circle cx="320.4" cy="1114.7" r="2.1" fill="none" stroke="#2e8b57" stroke-width="1"/>
<circle cx="333.9" cy="1105.0" r="2.1" fill="none" stroke="#2e8b57" stroke-width="1"/>
<circle cx="347.4" cy="1086.8" r="2.1" fill="none" stroke="#2e8b57" stroke-width="1"/>
<circle cx="360.9" cy="1070.1" r="2.1" fill="none" stroke="#2e8b57" stroke-width="1"/>
<circle cx="374.4" cy="1055.8" r="2.1" fill="none" stroke="#2e8b57" stroke-width="1"/>
<circle cx="387.9" cy="1043.8" r="2.1" fill="none" stroke="#2e8b57" stroke-width="1"/>
<circle cx="401.4" cy="1033.5" r="2.1" fill="none" stroke="#2e8b57" stroke-width="1"/>
<circle cx="414.9" cy="1023.9" r="2.1" fill="none" stroke="#2e8b57" stroke-width="1"/>
<circle cx="428.4" cy="1015.5" r="2.1" fill="none" stroke="#2e8b57" stroke-width="1"/>
<circle cx="441.9" cy="1007.5" r="2.1" fill="none" stroke="#2e8b57" stroke-width="1"/>
<circle cx="455.4" cy="1000.2" r="2.1" fill="none" stroke="#2e8b57" stroke-width="1"/>
<circle cx="468.9" cy="991.7" r="2.1" fill="none" stroke="#2e8b57" stroke-width="1"/>
<circle cx="482.5" cy="983.8" r="2.1" fill="none" stroke="#2e8b57" stroke-width="1"/>
<circle cx="496.0" cy="977.1" r="2.1" fill="none" stroke="#2e8b57" stroke-width="1"/>
<circle cx="509.5" cy="971.2" r="2.1" fill="none" stroke="#2e8b57" stroke-width="1"/>
<circle cx="523.0" cy="962.2" r="2.1" fill="none" stroke="#2e8b57" stroke-width="1"/>
<circle cx="536.5" cy="954.2" r="2.1" fill="none" stroke="#2e8b57" stroke-width="1"/>
<circle cx="550.0" cy="943.9" r="2.1" fill="none" stroke="#2e8b57" stroke-width="1"/>
<circle cx="563.5" cy="938.7" r="2.1" fill="none" stroke="#2e8b57" stroke-width="1"/>
<path d="M144.8 1130.0 L147.5 1129.9 L150.2 1129.8 L152.9 1129.6 L155.6 1129.5 L158.3 1129.4 L161.0 1129.3 L163.7 1129.2 L166.4 1129.0 L169.1 1128.9 L171.8 1128.8 L174.5 1128.6 L177.2 1128.5 L179.9 1128.3 L182.6 1128.2 L185.3 1128.0 L188.0 1127.9 L190.7 1127.8 L193.4 1127.7 L196.1 1127.5 L198.8 1127.4 L201.5 1127.2 L204.2 1127.1 L206.9 1126.9 L209.6 1126.7 L212.3 1126.5 L215.0 1126.4 L217.7 1126.2 L220.4 1126.0 L223.1 1125.8 L225.8 1125.6 L228.6 1125.4 L231.3 1125.2 L234.0 1125.0 L236.7 1124.8 L239.4 1124.6 L242.1 1124.3 L244.8 1124.1 L247.5 1123.9 L250.2 1123.7 L252.9 1123.5 L255.6 1123.3 L258.3 1123.0 L261.0 1122.8 L263.7 1122.5 L266.4 1122.2 L269.1 1122.0 L271.8 1121.7 L274.5 1121.4 L277.2 1121.1 L279.9 1120.8 L282.6 1120.4 L285.3 1119.9 L288.0 1119.5 L290.7 1119.0 L293.4 1118.6 L296.1 1118.4 L298.8 1118.1 L301.5 1117.9 L304.2 1117.6 L306.9 1117.4 L309.6 1117.1 L312.3 1116.8 L315.0 1116.5 L317.7 1116.2 L320.4 1115.8 L323.1 1115.1 L325.8 1114.2 L328.5 1113.1 L331.2 1111.8 L333.9 1110.4 L336.6 1108.8 L339.3 1107.0 L342.0 1104.8 L344.7 1102.6 L347.4 1100.3 L350.1 1097.9 L352.8 1095.3 L355.5 1092.6 L358.2 1089.9 L360.9 1087.3 L363.6 1084.8 L366.3 1082.3 L369.0 1079.8 L371.7 1077.4 L374.4 1074.9 L377.1 1072.4 L379.8 1069.9 L382.5 1067.4 L385.2 1065.0 L387.9 1062.8 L390.6 1060.7 L393.3 1058.8 L396.0 1057.0 L398.7 1055.1 L401.4 1053.2 L404.1 1051.0 L406.8 1048.7 L409.5 1046.4 L412.2 1044.1 L414.9 1042.2 L417.6 1040.5 L420.3 1038.9 L423.0 1037.5 L425.7 1036.0 L428.4 1034.4 L431.1 1032.5 L433.8 1030.4 L436.5 1028.4 L439.2 1026.5 L441.9 1025.1 L444.6 1024.1 L447.3 1023.3 L450.0 1022.7 L452.7 1021.9 L455.4 1020.9 L458.1 1019.6 L460.8 1017.8 L463.5 1015.8 L466.2 1013.9 L468.9 1012.2 L471.7 1010.7 L474.4 1009.3 L477.1 1007.9 L479.8 1006.6 L482.5 1005.4 L485.2 1004.1 L487.9 1003.0 L490.6 1001.8 L493.3 1000.7 L496.0 999.5 L498.7 998.4 L501.4 997.3 L504.1 996.2 L506.8 995.0 L509.5 993.6 L512.2 991.9 L514.9 989.9 L517.6 987.8 L520.3 985.8 L523.0 984.0 L525.7 982.6 L528.4 981.3 L531.1 980.1 L533.8 978.9 L536.5 977.6 L539.2 976.2 L541.9 974.6 L544.6 973.0 L547.3 971.5 L550.0 970.2 L552.7 969.1 L555.4 968.2 L558.1 967.3 L560.8 966.4 L563.5 965.4 L566.2 964.2 L568.9 962.9 L571.6 961.5 L574.3 960.0 L577.0 958.4" fill="none" stroke="#00f0f0" stroke-width="1.1" stroke-dasharray="3.7 3.7"/>
<circle cx="144.8" cy="1130.0" r="2.1" fill="none" stroke="#00f0f0" stroke-width="1"/>
<circle cx="158.3" cy="1129.4" r="2.1" fill="none" stroke="#00f0f0" stroke-width="1"/>
<circle cx="171.8" cy="1128.8" r="2.1" fill="none" stroke="#00f0f0" stroke-width="1"/>
<circle cx="185.3" cy="1128.0" r="2.1" fill="none" stroke="#00f0f0" stroke-width="1"/>
<circle cx="198.8" cy="1127.4" r="2.1" fill="none" stroke="#00f0f0" stroke-width="1"/>
<circle cx="212.3" cy="1126.5" r="2.1" fill="none" stroke="#00f0f0" stroke-width="1"/>
<circle cx="225.8" cy="1125.6" r="2.1" fill="none" stroke="#00f0f0" stroke-width="1"/>
<circle cx="239.4" cy="1124.6" r="2.1" fill="none" stroke="#00f0f0" stroke-width="1"/>
<circle cx="252.9" cy="1123.5" r="2.1" fill="none" stroke="#00f0f0" stroke-width="1"/>
<circle cx="266.4" cy="1122.2" r="2.1" fill="none" stroke="#00f0f0" stroke-width="1"/>
<circle cx="279.9" cy="1120.8" r="2.1" fill="none" stroke="#00f0f0" stroke-width="1"/>
<circle cx="293.4" cy="1118.6" r="2.1" fill="none" stroke="#00f0f0" stroke-width="1"/>
<circle cx="306.9" cy="1117.4" r="2.1" fill="none" stroke="#00f0f0" stroke-width="1"/>
<circle cx="320.4" cy="1115.8" r="2.1" fill="none" stroke="#00f0f0" stroke-width="1"/>
<circle cx="333.9" cy="1110.4" r="2.1" fill="none" stroke="#00f0f0" stroke-width="1"/>
<circle cx="347.4" cy="1100.3" r="2.1" fill="none" stroke="#00f0f0" stroke-width="1"/>
<circle cx="360.9" cy="1087.3" r="2.1" fill="none" stroke="#00f0f0" stroke-width="1"/>
<circle cx="374.4" cy="1074.9" r="2.1" fill="none" stroke="#00f0f0" stroke-width="1"/>
<circle cx="387.9" cy="1062.8" r="2.1" fill="none" stroke="#00f0f0" stroke-width="1"/>
<circle cx="401.4" cy="1053.2" r="2.1" fill="none" stroke="#00f0f0" stroke-width="1"/>
<circle cx="414.9" cy="1042.2" r="2.1" fill="none" stroke="#00f0f0" stroke-width="1"/>
<circle cx="428.4" cy="1034.4" r="2.1" fill="none" stroke="#00f0f0" stroke-width="1"/>
<circle cx="441.9" cy="1025.1" r="2.1" fill="none" stroke="#00f0f0" stroke-width="1"/>
<circle cx="455.4" cy="1020.9" r="2.1" fill="none" stroke="#00f0f0" stroke-width="1"/>
<circle cx="468.9" cy="1012.2" r="2.1" fill="none" stroke="#00f0f0" stroke-width="1"/>
<circle cx="482.5" cy="1005.4" r="2.1" fill="none" stroke="#00f0f0" stroke-width="1"/>
<circle cx="496.0" cy="999.5" r="2.1" fill="none" stroke="#00f0f0" stroke-width="1"/>
<circle cx="509.5" cy="993.6" r="2.1" fill="none" stroke="#00f0f0" stroke-width="1"/>
<circle cx="523.0" cy="984.0" r="2.1" fill="none" stroke="#00f0f0" stroke-width="1"/>
<circle cx="536.5" cy="977.6" r="2.1" fill="none" stroke="#00f0f0" stroke-width="1"/>
<circle cx="550.0" cy="970.2" r="2.1" fill="none" stroke="#00f0f0" stroke-width="1"/>
<circle cx="563.5" cy="965.4" r="2.1" fill="none" stroke="#00f0f0" stroke-width="1"/>
<path d="M144.8 1130.0 L147.5 1129.9 L150.2 1129.8 L152.9 1129.6 L155.6 1129.5 L158.3 1129.4 L161.0 1129.3 L163.7 1129.2 L166.4 1129.0 L169.1 1128.9 L171.8 1128.8 L174.5 1128.6 L177.2 1128.5 L179.9 1128.3 L182.6 1128.2 L185.3 1128.0 L188.0 1127.9 L190.7 1127.8 L193.4 1127.7 L196.1 1127.5 L198.8 1127.4 L201.5 1127.2 L204.2 1127.1 L206.9 1126.9 L209.6 1126.7 L212.3 1126.5 L215.0 1126.4 L217.7 1126.2 L220.4 1126.0 L223.1 1125.9 L225.8 1125.7 L228.6 1125.5 L231.3 1125.3 L234.0 1125.1 L236.7 1124.8 L239.4 1124.6 L242.1 1124.4 L244.8 1124.2 L247.5 1124.0 L250.2 1123.8 L252.9 1123.6 L255.6 1123.4 L258.3 1123.2 L261.0 1122.9 L263.7 1122.7 L266.4 1122.4 L269.1 1122.2 L271.8 1121.9 L274.5 1121.6 L277.2 1121.4 L279.9 1121.0 L282.6 1120.7 L285.3 1120.2 L288.0 1119.7 L290.7 1119.3 L293.4 1119.0 L296.1 1118.7 L298.8 1118.5 L301.5 1118.3 L304.2 1118.1 L306.9 1117.9 L309.6 1117.6 L312.3 1117.4 L315.0 1117.1 L317.7 1116.7 L320.4 1116.3 L323.1 1115.7 L325.8 1114.9 L328.5 1114.0 L331.2 1113.0 L333.9 1112.0 L336.6 1111.1 L339.3 1110.1 L342.0 1109.1 L344.7 1107.9 L347.4 1106.7 L350.1 1105.3 L352.8 1103.7 L355.5 1101.9 L358.2 1100.1 L360.9 1098.2 L363.6 1096.2 L366.3 1094.0 L369.0 1091.7 L371.7 1089.5 L374.4 1087.3 L377.1 1085.1 L379.8 1083.0 L382.5 1080.8 L385.2 1078.7 L387.9 1076.6 L390.6 1074.6 L393.3 1072.6 L396.0 1070.6 L398.7 1068.7 L401.4 1066.9 L404.1 1065.2 L406.8 1063.5 L409.5 1061.8 L412.2 1060.2 L414.9 1058.7 L417.6 1057.3 L420.3 1055.9 L423.0 1054.6 L425.7 1053.2 L428.4 1051.8 L431.1 1050.1 L433.8 1048.4 L436.5 1046.6 L439.2 1044.8 L441.9 1043.2 L444.6 1041.8 L447.3 1040.4 L450.0 1039.1 L452.7 1037.8 L455.4 1036.5 L458.1 1035.2 L460.8 1033.9 L463.5 1032.6 L466.2 1031.3 L468.9 1029.8 L471.7 1028.1 L474.4 1026.2 L477.1 1024.3 L479.8 1022.5 L482.5 1020.9 L485.2 1019.6 L487.9 1018.5 L490.6 1017.4 L493.3 1016.4 L496.0 1015.3 L498.7 1014.2 L501.4 1013.1 L504.1 1012.0 L506.8 1010.9 L509.5 1009.6 L512.2 1008.1 L514.9 1006.4 L517.6 1004.6 L520.3 1002.9 L523.0 1001.5 L525.7 1000.5 L528.4 999.6 L531.1 998.8 L533.8 997.9 L536.5 996.8 L539.2 995.2 L541.9 993.2 L544.6 991.1 L547.3 989.3 L550.0 988.3 L552.7 987.9 L555.4 987.7 L558.1 987.5 L560.8 987.3 L563.5 986.9 L566.2 986.2 L568.9 984.9 L571.6 983.2 L574.3 981.3 L577.0 979.1" fill="none" stroke="#8b0000" stroke-width="1.1" stroke-dasharray="3.7 3.7"/>
<circle cx="144.8" cy="1130.0" r="2.1" fill="none" stroke="#8b0000" stroke-width="1"/>
<circle cx="158.3" cy="1129.4" r="2.1" fill="none" stroke="#8b0000" stroke-width="1"/>
<circle cx="171.8" cy="1128.8" r="2.1" fill="none" stroke="#8b0000" stroke-width="1"/>
<circle cx="185.3" cy="1128.0" r="2.1" fill="none" stroke="#8b0000" stroke-width="1"/>
<circle cx="198.8" cy="1127.4" r="2.1" fill="none" stroke="#8b0000" stroke-width="1"/>
<circle cx="212.3" cy="1126.5" r="2.1" fill="none" stroke="#8b0000" stroke-width="1"/>
<circle cx="225.8" cy="1125.7" r="2.1" fill="none" stroke="#8b0000" stroke-width="1"/>
<circle cx="239.4" cy="1124.6" r="2.1" fill="none" stroke="#8b0000" stroke-width="1"/>
<circle cx="252.9" cy="1123.6" r="2.1" fill="none" stroke="#8b0000" stroke-width="1"/>
<circle cx="266.4" cy="1122.4" r="2.1" fill="none" stroke="#8b0000" stroke-width="1"/>
<circle cx="279.9" cy="1121.0" r="2.1" fill="none" stroke="#8b0000" stroke-width="1"/>
<circle cx="293.4" cy="1119.0" r="2.1" fill="none" stroke="#8b0000" stroke-width="1"/>
<circle cx="306.9" cy="1117.9" r="2.1" fill="none" stroke="#8b0000" stroke-width="1"/>
<circle cx="320.4" cy="1116.3" r="2.1" fill="none" stroke="#8b0000" stroke-width="1"/>
<circle cx="333.9" cy="1112.0" r="2.1" fill="none" stroke="#8b0000" stroke-width="1"/>
<circle cx="347.4" cy="1106.7" r="2.1" fill="none" stroke="#8b0000" stroke-width="1"/>
<circle cx="360.9" cy="1098.2" r="2.1" fill="none" stroke="#8b0000" stroke-width="1"/>
<circle cx="374.4" cy="1087.3" r="2.1" fill="none" stroke="#8b0000" stroke-width="1"/>
<circle cx="387.9" cy="1076.6" r="2.1" fill="none" stroke="#8b0000" stroke-width="1"/>
<circle cx="401.4" cy="1066.9" r="2.1" fill="none" stroke="#8b0000" stroke-width="1"/>
<circle cx="414.9" cy="1058.7" r="2.1" fill="none" stroke="#8b0000" stroke-width="1"/>
<circle cx="428.4" cy="1051.8" r="2.1" fill="none" stroke="#8b0000" stroke-width="1"/>
<circle cx="441.9" cy="1043.2" r="2.1" fill="none" stroke="#8b0000" stroke-width="1"/>
<circle cx="455.4" cy="1036.5" r="2.1" fill="none" stroke="#8b0000" stroke-width="1"/>
<circle cx="468.9" cy="1029.8" r="2.1" fill="none" stroke="#8b0000" stroke-width="1"/>
<circle cx="482.5" cy="1020.9" r="2.1" fill="none" stroke="#8b0000" stroke-width="1"/>
<circle cx="496.0" cy="1015.3" r="2.1" fill="none" stroke="#8b0000" stroke-width="1"/>
<circle cx="509.5" cy="1009.6" r="2.1" fill="none" stroke="#8b0000" stroke-width="1"/>
<circle cx="523.0" cy="1001.5" r="2.1" fill="none" stroke="#8b0000" stroke-width="1"/>
<circle cx="536.5" cy="996.8" r="2.1" fill="none" stroke="#8b0000" stroke-width="1"/>
<circle cx="550.0" cy="988.3" r="2.1" fill="none" stroke="#8b0000" stroke-width="1"/>
<circle cx="563.5" cy="986.9" r="2.1" fill="none" stroke="#8b0000" stroke-width="1"/>
<path d="M144.8 1130.0 L147.5 1129.9 L150.2 1129.8 L152.9 1129.6 L155.6 1129.5 L158.3 1129.4 L161.0 1129.3 L163.7 1129.2 L166.4 1129.0 L169.1 1128.9 L171.8 1128.8 L174.5 1128.6 L177.2 1128.5 L179.9 1128.3 L182.6 1128.2 L185.3 1128.0 L188.0 1127.9 L190.7 1127.8 L193.4 1127.7 L196.1 1127.5 L198.8 1127.4 L201.5 1127.2 L204.2 1127.1 L206.9 1126.9 L209.6 1126.7 L212.3 1126.5 L215.0 1126.4 L217.7 1126.2 L220.4 1126.1 L223.1 1125.9 L225.8 1125.7 L228.6 1125.5 L231.3 1125.3 L234.0 1125.1 L236.7 1124.9 L239.4 1124.7 L242.1 1124.5 L244.8 1124.3 L247.5 1124.1 L250.2 1123.9 L252.9 1123.7 L255.6 1123.5 L258.3 1123.3 L261.0 1123.1 L263.7 1122.8 L266.4 1122.6 L269.1 1122.4 L271.8 1122.1 L274.5 1121.9 L277.2 1121.6 L279.9 1121.3 L282.6 1120.9 L285.3 1120.4 L288.0 1120.0 L290.7 1119.5 L293.4 1119.2 L296.1 1118.9 L298.8 1118.8 L301.5 1118.6 L304.2 1118.4 L306.9 1118.2 L309.6 1118.0 L312.3 1117.8 L315.0 1117.5 L317.7 1117.2 L320.4 1116.8 L323.1 1116.3 L325.8 1115.6 L328.5 1114.8 L331.2 1113.9 L333.9 1113.1 L336.6 1112.3 L339.3 1111.5 L342.0 1110.6 L344.7 1109.8 L347.4 1108.8 L350.1 1107.9 L352.8 1106.9 L355.5 1105.8 L358.2 1104.7 L360.9 1103.5 L363.6 1102.3 L366.3 1100.9 L369.0 1099.6 L371.7 1098.1 L374.4 1096.6 L377.1 1094.9 L379.8 1093.2 L382.5 1091.3 L385.2 1089.4 L387.9 1087.5 L390.6 1085.5 L393.3 1083.3 L396.0 1081.1 L398.7 1079.1 L401.4 1077.2 L404.1 1075.5 L406.8 1073.9 L409.5 1072.4 L412.2 1070.9 L414.9 1069.4 L417.6 1067.9 L420.3 1066.4 L423.0 1064.9 L425.7 1063.4 L428.4 1061.9 L431.1 1060.4 L433.8 1058.9 L436.5 1057.3 L439.2 1055.9 L441.9 1054.4 L444.6 1053.1 L447.3 1051.8 L450.0 1050.5 L452.7 1049.3 L455.4 1048.0 L458.1 1046.8 L460.8 1045.7 L463.5 1044.5 L466.2 1043.4 L468.9 1042.2 L471.7 1040.9 L474.4 1039.6 L477.1 1038.3 L479.8 1036.9 L482.5 1035.6 L485.2 1034.2 L487.9 1032.7 L490.6 1031.3 L493.3 1029.9 L496.0 1028.6 L498.7 1027.5 L501.4 1026.4 L504.1 1025.3 L506.8 1024.3 L509.5 1023.3 L512.2 1022.3 L514.9 1021.3 L517.6 1020.3 L520.3 1019.2 L523.0 1018.2 L525.7 1017.0 L528.4 1015.9 L531.1 1014.7 L533.8 1013.5 L536.5 1012.3 L539.2 1011.1 L541.9 1009.9 L544.6 1008.7 L547.3 1007.5 L550.0 1006.1 L552.7 1004.6 L555.4 1002.9 L558.1 1001.1 L560.8 999.5 L563.5 998.1 L566.2 996.9 L568.9 995.9 L571.6 994.9 L574.3 994.0 L577.0 993.3" fill="none" stroke="#0000ff" stroke-width="1.1" stroke-dasharray="3.7 3.7"/>
<circle cx="144.8" cy="1130.0" r="2.1" fill="none" stroke="#0000ff" stroke-width="1"/>
<circle cx="158.3" cy="1129.4" r="2.1" fill="none" stroke="#0000ff" stroke-width="1"/>
<circle cx="171.8" cy="1128.8" r="2.1" fill="none" stroke="#0000ff" stroke-width="1"/>
<circle cx="185.3" cy="1128.0" r="2.1" fill="none" stroke="#0000ff" stroke-width="1"/>
<circle cx="198.8" cy="1127.4" r="2.1" fill="none" stroke="#0000ff" stroke-width="1"/>
<circle cx="212.3" cy="1126.5" r="2.1" fill="none" stroke="#0000ff" stroke-width="1"/>
<circle cx="225.8" cy="1125.7" r="2.1" fill="none" stroke="#0000ff" stroke-width="1"/>
<circle cx="239.4" cy="1124.7" r="2.1" fill="none" stroke="#0000ff" stroke-width="1"/>
<circle cx="252.9" cy="1123.7" r="2.1" fill="none" stroke="#0000ff" stroke-width="1"/>
<circle cx="266.4" cy="1122.6" r="2.1" fill="none" stroke="#0000ff" stroke-width="1"/>
<circle cx="279.9" cy="1121.3" r="2.1" fill="none" stroke="#0000ff" stroke-width="1"/>
<circle cx="293.4" cy="1119.2" r="2.1" fill="none" stroke="#0000ff" stroke-width="1"/>
<circle cx="306.9" cy="1118.2" r="2.1" fill="none" stroke="#0000ff" stroke-width="1"/>
<circle cx="320.4" cy="1116.8" r="2.1" fill="none" stroke="#0000ff" stroke-width="1"/>
<circle cx="333.9" cy="1113.1" r="2.1" fill="none" stroke="#0000ff" stroke-width="1"/>
<circle cx="347.4" cy="1108.8" r="2.1" fill="none" stroke="#0000ff" stroke-width="1"/>
<circle cx="360.9" cy="1103.5" r="2.1" fill="none" stroke="#0000ff" stroke-width="1"/>
<circle cx="374.4" cy="1096.6" r="2.1" fill="none" stroke="#0000ff" stroke-width="1"/>
<circle cx="387.9" cy="1087.5" r="2.1" fill="none" stroke="#0000ff" stroke-width="1"/>
<circle cx="401.4" cy="1077.2" r="2.1" fill="none" stroke="#0000ff" stroke-width="1"/>
<circle cx="414.9" cy="1069.4" r="2.1" fill="none" stroke="#0000ff" stroke-width="1"/>
<circle cx="428.4" cy="1061.9" r="2.1" fill="none" stroke="#0000ff" stroke-width="1"/>
<circle cx="441.9" cy="1054.4" r="2.1" fill="none" stroke="#0000ff" stroke-width="1"/>
<circle cx="455.4" cy="1048.0" r="2.1" fill="none" stroke="#0000ff" stroke-width="1"/>
<circle cx="468.9" cy="1042.2" r="2.1" fill="none" stroke="#0000ff" stroke-width="1"/>
<circle cx="482.5" cy="1035.6" r="2.1" fill="none" stroke="#0000ff" stroke-width="1"/>
<circle cx="496.0" cy="1028.6" r="2.1" fill="none" stroke="#0000ff" stroke-width="1"/>
<circle cx="509.5" cy="1023.3" r="2.1" fill="none" stroke="#0000ff" stroke-width="1"/>
<circle cx="523.0" cy="1018.2" r="2.1" fill="none" stroke="#0000ff" stroke-width="1"/>
<circle cx="536.5" cy="1012.3" r="2.1" fill="none" stroke="#0000ff" stroke-width="1"/>
<circle cx="550.0" cy="1006.1" r="2.1" fill="none" stroke="#0000ff" stroke-width="1"/>
<circle cx="563.5" cy="998.1" r="2.1" fill="none" stroke="#0000ff" stroke-width="1"/>
<path d="M144.8 1130.0 L147.5 1129.9 L150.2 1129.8 L152.9 1129.6 L155.6 1129.5 L158.3 1129.4 L161.0 1129.3 L163.7 1129.2 L166.4 1129.0 L169.1 1128.9 L171.8 1128.8 L174.5 1128.6 L177.2 1128.5 L179.9 1128.3 L182.6 1128.2 L185.3 1128.0 L188.0 1127.9 L190.7 1127.8 L193.4 1127.7 L196.1 1127.5 L198.8 1127.4 L201.5 1127.2 L204.2 1127.1 L206.9 1126.9 L209.6 1126.7 L212.3 1126.5 L215.0 1126.4 L217.7 1126.2 L220.4 1126.1 L223.1 1125.9 L225.8 1125.7 L228.6 1125.6 L231.3 1125.4 L234.0 1125.2 L236.7 1125.0 L239.4 1124.8 L242.1 1124.6 L244.8 1124.4 L247.5 1124.2 L250.2 1124.1 L252.9 1123.9 L255.6 1123.7 L258.3 1123.4 L261.0 1123.2 L263.7 1123.0 L266.4 1122.8 L269.1 1122.5 L271.8 1122.3 L274.5 1122.1 L277.2 1121.8 L279.9 1121.5 L282.6 1121.2 L285.3 1120.7 L288.0 1120.3 L290.7 1119.8 L293.4 1119.5 L296.1 1119.2 L298.8 1119.0 L301.5 1118.8 L304.2 1118.6 L306.9 1118.4 L309.6 1118.2 L312.3 1118.1 L315.0 1117.9 L317.7 1117.6 L320.4 1117.4 L323.1 1116.9 L325.8 1116.3 L328.5 1115.6 L331.2 1114.9 L333.9 1114.2 L336.6 1113.5 L339.3 1112.8 L342.0 1112.0 L344.7 1111.2 L347.4 1110.4 L350.1 1109.6 L352.8 1108.6 L355.5 1107.6 L358.2 1106.6 L360.9 1105.6 L363.6 1104.6 L366.3 1103.6 L369.0 1102.5 L371.7 1101.4 L374.4 1100.3 L377.1 1099.1 L379.8 1097.9 L382.5 1096.6 L385.2 1095.3 L387.9 1093.9 L390.6 1092.5 L393.3 1091.0 L396.0 1089.5 L398.7 1087.9 L401.4 1086.4 L404.1 1084.9 L406.8 1083.4 L409.5 1081.9 L412.2 1080.4 L414.9 1079.0 L417.6 1077.6 L420.3 1076.3 L423.0 1075.0 L425.7 1073.8 L428.4 1072.6 L431.1 1071.4 L433.8 1070.3 L436.5 1069.2 L439.2 1068.1 L441.9 1066.9 L444.6 1065.7 L447.3 1064.3 L450.0 1063.0 L452.7 1061.6 L455.4 1060.2 L458.1 1058.7 L460.8 1057.1 L463.5 1055.6 L466.2 1054.1 L468.9 1052.8 L471.7 1051.8 L474.4 1050.9 L477.1 1050.0 L479.8 1049.1 L482.5 1048.0 L485.2 1046.7 L487.9 1045.1 L490.6 1043.5 L493.3 1041.9 L496.0 1040.6 L498.7 1039.5 L501.4 1038.5 L504.1 1037.6 L506.8 1036.7 L509.5 1035.8 L512.2 1034.9 L514.9 1034.0 L517.6 1033.2 L520.3 1032.3 L523.0 1031.4 L525.7 1030.4 L528.4 1029.4 L531.1 1028.3 L533.8 1027.2 L536.5 1026.0 L539.2 1024.6 L541.9 1023.2 L544.6 1021.6 L547.3 1020.2 L550.0 1018.8 L552.7 1017.6 L555.4 1016.4 L558.1 1015.3 L560.8 1014.2 L563.5 1013.2 L566.2 1012.2 L568.9 1011.2 L571.6 1010.3 L574.3 1009.4 L577.0 1008.6" fill="none" stroke="#ff0000" stroke-width="1.1" stroke-dasharray="3.7 3.7"/>
<circle cx="144.8" cy="1130.0" r="2.1" fill="none" stroke="#ff0000" stroke-width="1"/>
<circle cx="158.3" cy="1129.4" r="2.1" fill="none" stroke="#ff0000" stroke-width="1"/>
<circle cx="171.8" cy="1128.8" r="2.1" fill="none" stroke="#ff0000" stroke-width="1"/>
<circle cx="185.3" cy="1128.0" r="2.1" fill="none" stroke="#ff0000" stroke-width="1"/>
<circle cx="198.8" cy="1127.4" r="2.1" fill="none" stroke="#ff0000" stroke-width="1"/>
<circle cx="212.3" cy="1126.5" r="2.1" fill="none" stroke="#ff0000" stroke-width="1"/>
<circle cx="225.8" cy="1125.7" r="2.1" fill="none" stroke="#ff0000" stroke-width="1"/>
<circle cx="239.4" cy="1124.8" r="2.1" fill="none" stroke="#ff0000" stroke-width="1"/>
<circle cx="252.9" cy="1123.9" r="2.1" fill="none" stroke="#ff0000" stroke-width="1"/>
<circle cx="266.4" cy="1122.8" r="2.1" fill="none" stroke="#ff0000" stroke-width="1"/>
<circle cx="279.9" cy="1121.5" r="2.1" fill="none" stroke="#ff0000" stroke-width="1"/>
<circle cx="293.4" cy="1119.5" r="2.1" fill="none" stroke="#ff0000" stroke-width="1"/>
<circle cx="306.9" cy="1118.4" r="2.1" fill="none" stroke="#ff0000" stroke-width="1"/>
<circle cx="320.4" cy="1117.4" r="2.1" fill="none" stroke="#ff0000" stroke-width="1"/>
<circle cx="333.9" cy="1114.2" r="2.1" fill="none" stroke="#ff0000" stroke-width="1"/>
<circle cx="347.4" cy="1110.4" r="2.1" fill="none" stroke="#ff0000" stroke-width="1"/>
<circle cx="360.9" cy="1105.6" r="2.1" fill="none" stroke="#ff0000" stroke-width="1"/>
<circle cx="374.4" cy="1100.3" r="2.1" fill="none" stroke="#ff0000" stroke-width="1"/>
<circle cx="387.9" cy="1093.9" r="2.1" fill="none" stroke="#ff0000" stroke-width="1"/>
<circle cx="401.4" cy="1086.4" r="2.1" fill="none" stroke="#ff0000" stroke-width="1"/>
<circle cx="414.9" cy="1079.0" r="2.1" fill="none" stroke="#ff0000" stroke-width="1"/>
<circle cx="428.4" cy="1072.6" r="2.1" fill="none" stroke="#ff0000" stroke-width="1"/>
<circle cx="441.9" cy="1066.9" r="2.1" fill="none" stroke="#ff0000" stroke-width="1"/>
<circle cx="455.4" cy="1060.2" r="2.1" fill="none" stroke="#ff0000" stroke-width="1"/>
<circle cx="468.9" cy="1052.8" r="2.1" fill="none" stroke="#ff0000" stroke-width="1"/>
<circle cx="482.5" cy="1048.0" r="2.1" fill="none" stroke="#ff0000" stroke-width="1"/>
<circle cx="496.0" cy="1040.6" r="2.1" fill="none" stroke="#ff0000" stroke-width="1"/>
<circle cx="509.5" cy="1035.8" r="2.1" fill="none" stroke="#ff0000" stroke-width="1"/>
<circle cx="523.0" cy="1031.4" r="2.1" fill="none" stroke="#ff0000" stroke-width="1"/>
<circle cx="536.5" cy="1026.0" r="2.1" fill="none" stroke="#ff0000" stroke-width="1"/>
<circle cx="550.0" cy="1018.8" r="2.1" fill="none" stroke="#ff0000" stroke-width="1"/>
<circle cx="563.5" cy="1013.2" r="2.1" fill="none" stroke="#ff0000" stroke-width="1"/>
<path d="M144.8 1130.0 L147.5 1129.9 L150.2 1129.8 L152.9 1129.6 L155.6 1129.5 L158.3 1129.4 L161.0 1129.3 L163.7 1129.2 L166.4 1129.0 L169.1 1128.9 L171.8 1128.8 L174.5 1128.6 L177.2 1128.5 L179.9 1128.3 L182.6 1128.2 L185.3 1128.0 L188.0 1127.9 L190.7 1127.8 L193.4 1127.7 L196.1 1127.5 L198.8 1127.4 L201.5 1127.2 L204.2 1127.1 L206.9 1126.9 L209.6 1126.7 L212.3 1126.5 L215.0 1126.4 L217.7 1126.2 L220.4 1126.1 L223.1 1125.9 L225.8 1125.8 L228.6 1125.6 L231.3 1125.4 L234.0 1125.2 L236.7 1125.0 L239.4 1124.9 L242.1 1124.7 L244.8 1124.5 L247.5 1124.3 L250.2 1124.2 L252.9 1124.0 L255.6 1123.8 L258.3 1123.6 L261.0 1123.4 L263.7 1123.2 L266.4 1122.9 L269.1 1122.7 L271.8 1122.5 L274.5 1122.3 L277.2 1122.1 L279.9 1121.8 L282.6 1121.4 L285.3 1120.9 L288.0 1120.5 L290.7 1120.0 L293.4 1119.7 L296.1 1119.5 L298.8 1119.4 L301.5 1119.3 L304.2 1119.1 L306.9 1119.0 L309.6 1118.8 L312.3 1118.6 L315.0 1118.4 L317.7 1118.2 L320.4 1117.9 L323.1 1117.5 L325.8 1117.0 L328.5 1116.4 L331.2 1115.8 L333.9 1115.2 L336.6 1114.6 L339.3 1114.0 L342.0 1113.3 L344.7 1112.7 L347.4 1112.0 L350.1 1111.4 L352.8 1110.7 L355.5 1110.1 L358.2 1109.4 L360.9 1108.8 L363.6 1108.3 L366.3 1107.9 L369.0 1107.5 L371.7 1106.9 L374.4 1106.3 L377.1 1105.2 L379.8 1103.7 L382.5 1102.0 L385.2 1100.3 L387.9 1098.8 L390.6 1097.6 L393.3 1096.5 L396.0 1095.4 L398.7 1094.3 L401.4 1093.2 L404.1 1091.9 L406.8 1090.7 L409.5 1089.4 L412.2 1088.1 L414.9 1086.8 L417.6 1085.3 L420.3 1083.7 L423.0 1082.2 L425.7 1080.6 L428.4 1079.3 L431.1 1078.1 L433.8 1077.0 L436.5 1076.0 L439.2 1075.0 L441.9 1073.8 L444.6 1072.6 L447.3 1071.2 L450.0 1069.7 L452.7 1068.4 L455.4 1067.1 L458.1 1066.1 L460.8 1065.1 L463.5 1064.2 L466.2 1063.2 L468.9 1062.2 L471.7 1061.1 L474.4 1060.0 L477.1 1058.8 L479.8 1057.6 L482.5 1056.5 L485.2 1055.3 L487.9 1054.1 L490.6 1052.9 L493.3 1051.7 L496.0 1050.6 L498.7 1049.5 L501.4 1048.4 L504.1 1047.3 L506.8 1046.2 L509.5 1045.0 L512.2 1043.8 L514.9 1042.6 L517.6 1041.3 L520.3 1040.1 L523.0 1039.0 L525.7 1037.9 L528.4 1036.9 L531.1 1035.9 L533.8 1035.0 L536.5 1034.2 L539.2 1033.4 L541.9 1032.7 L544.6 1032.1 L547.3 1031.4 L550.0 1030.5 L552.7 1029.5 L555.4 1028.3 L558.1 1027.0 L560.8 1025.6 L563.5 1024.4 L566.2 1023.2 L568.9 1022.0 L571.6 1020.8 L574.3 1019.6 L577.0 1018.5" fill="none" stroke="#000000" stroke-width="1.1" stroke-dasharray="3.7 3.7"/>
<circle cx="144.8" cy="1130.0" r="2.1" fill="none" stroke="#000000" stroke-width="1"/>
<circle cx="158.3" cy="1129.4" r="2.1" fill="none" stroke="#000000" stroke-width="1"/>
<circle cx="171.8" cy="1128.8" r="2.1" fill="none" stroke="#000000" stroke-width="1"/>
<circle cx="185.3" cy="1128.0" r="2.1" fill="none" stroke="#000000" stroke-width="1"/>
<circle cx="198.8" cy="1127.4" r="2.1" fill="none" stroke="#000000" stroke-width="1"/>
<circle cx="212.3" cy="1126.5" r="2.1" fill="none" stroke="#000000" stroke-width="1"/>
<circle cx="225.8" cy="1125.8" r="2.1" fill="none" stroke="#000000" stroke-width="1"/>
<circle cx="239.4" cy="1124.9" r="2.1" fill="none" stroke="#000000" stroke-width="1"/>
<circle cx="252.9" cy="1124.0" r="2.1" fill="none" stroke="#000000" stroke-width="1"/>
<circle cx="266.4" cy="1122.9" r="2.1" fill="none" stroke="#000000" stroke-width="1"/>
<circle cx="279.9" cy="1121.8" r="2.1" fill="none" stroke="#000000" stroke-width="1"/>
<circle cx="293.4" cy="1119.7" r="2.1" fill="none" stroke="#000000" stroke-width="1"/>
<circle cx="306.9" cy="1119.0" r="2.1" fill="none" stroke="#000000" stroke-width="1"/>
<circle cx="320.4" cy="1117.9" r="2.1" fill="none" stroke="#000000" stroke-width="1"/>
<circle cx="333.9" cy="1115.2" r="2.1" fill="none" stroke="#000000" stroke-width="1"/>
<circle cx="347.4" cy="1112.0" r="2.1" fill="none" stroke="#000000" stroke-width="1"/>
<circle cx="360.9" cy="1108.8" r="2.1" fill="none" stroke="#000000" stroke-width="1"/>
<circle cx="374.4" cy="1106.3" r="2.1" fill="none" stroke="#000000" stroke-width="1"/>
<circle cx="387.9" cy="1098.8" r="2.1" fill="none" stroke="#000000" stroke-width="1"/>
<circle cx="401.4" cy="1093.2" r="2.1" fill="none" stroke="#000000" stroke-width="1"/>
<circle cx="414.9" cy="1086.8" r="2.1" fill="none" stroke="#000000" stroke-width="1"/>
<circle cx="428.4" cy="1079.3" r="2.1" fill="none" stroke="#000000" stroke-width="1"/>
<circle cx="441.9" cy="1073.8" r="2.1" fill="none" stroke="#000000" stroke-width="1"/>
<circle cx="455.4" cy="1067.1" r="2.1" fill="none" stroke="#000000" stroke-width="1"/>
<circle cx="468.9" cy="1062.2" r="2.1" fill="none" stroke="#000000" stroke-width="1"/>
<circle cx="482.5" cy="1056.5" r="2.1" fill="none" stroke="#000000" stroke-width="1"/>
<circle cx="496.0" cy="1050.6" r="2.1" fill="none" stroke="#000000" stroke-width="1"/>
<circle cx="509.5" cy="1045.0" r="2.1" fill="none" stroke="#000000" stroke-width="1"/>
<circle cx="523.0" cy="1039.0" r="2.1" fill="none" stroke="#000000" stroke-width="1"/>
<circle cx="536.5" cy="1034.2" r="2.1" fill="none" stroke="#000000" stroke-width="1"/>
<circle cx="550.0" cy="1030.5" r="2.1" fill="none" stroke="#000000" stroke-width="1"/>
<circle cx="563.5" cy="1024.4" r="2.1" fill="none" stroke="#000000" stroke-width="1"/>
<path d="M144.8 1130.0 L147.5 1129.9 L150.2 1129.8 L152.9 1129.6 L155.6 1129.5 L158.3 1129.4 L161.0 1129.3 L163.7 1129.2 L166.4 1129.0 L169.1 1128.9 L171.8 1128.8 L174.5 1128.6 L177.2 1128.5 L179.9 1128.3 L182.6 1128.2 L185.3 1128.0 L188.0 1127.9 L190.7 1127.8 L193.4 1127.7 L196.1 1127.5 L198.8 1127.4 L201.5 1127.2 L204.2 1127.1 L206.9 1126.9 L209.6 1126.7 L212.3 1126.5 L215.0 1126.4 L217.7 1126.2 L220.4 1126.1 L223.1 1126.0 L225.8 1125.8 L228.6 1125.7 L231.3 1125.5 L234.0 1125.3 L236.7 1125.1 L239.4 1124.9 L242.1 1124.8 L244.8 1124.6 L247.5 1124.4 L250.2 1124.3 L252.9 1124.1 L255.6 1123.9 L258.3 1123.7 L261.0 1123.5 L263.7 1123.3 L266.4 1123.1 L269.1 1122.9 L271.8 1122.7 L274.5 1122.5 L277.2 1122.3 L279.9 1122.0 L282.6 1121.7 L285.3 1121.2 L288.0 1120.7 L290.7 1120.3 L293.4 1120.0 L296.1 1119.9 L298.8 1119.8 L301.5 1119.7 L304.2 1119.6 L306.9 1119.5 L309.6 1119.4 L312.3 1119.3 L315.0 1119.2 L317.7 1119.1 L320.4 1119.0 L323.1 1118.7 L325.8 1118.2 L328.5 1117.5 L331.2 1116.9 L333.9 1116.3 L336.6 1115.8 L339.3 1115.3 L342.0 1114.7 L344.7 1114.2 L347.4 1113.6 L350.1 1113.0 L352.8 1112.4 L355.5 1111.7 L358.2 1111.0 L360.9 1110.4 L363.6 1109.9 L366.3 1109.3 L369.0 1108.8 L371.7 1108.3 L374.4 1107.8 L377.1 1107.2 L379.8 1106.7 L382.5 1106.2 L385.2 1105.7 L387.9 1105.0 L390.6 1104.2 L393.3 1103.2 L396.0 1102.1 L398.7 1100.9 L401.4 1099.8 L404.1 1098.6 L406.8 1097.4 L409.5 1096.2 L412.2 1095.0 L414.9 1093.9 L417.6 1092.9 L420.3 1092.1 L423.0 1091.2 L425.7 1090.3 L428.4 1089.3 L431.1 1088.2 L433.8 1086.9 L436.5 1085.5 L439.2 1084.2 L441.9 1083.0 L444.6 1081.9 L447.3 1080.8 L450.0 1079.8 L452.7 1078.8 L455.4 1077.8 L458.1 1076.8 L460.8 1075.8 L463.5 1074.8 L466.2 1073.8 L468.9 1072.8 L471.7 1071.7 L474.4 1070.6 L477.1 1069.5 L479.8 1068.4 L482.5 1067.3 L485.2 1066.3 L487.9 1065.2 L490.6 1064.2 L493.3 1063.2 L496.0 1062.1 L498.7 1061.0 L501.4 1059.9 L504.1 1058.9 L506.8 1057.8 L509.5 1056.8 L512.2 1055.8 L514.9 1054.9 L517.6 1054.0 L520.3 1053.2 L523.0 1052.3 L525.7 1051.4 L528.4 1050.6 L531.1 1049.8 L533.8 1048.9 L536.5 1048.0 L539.2 1047.1 L541.9 1046.2 L544.6 1045.3 L547.3 1044.3 L550.0 1043.3 L552.7 1042.3 L555.4 1041.3 L558.1 1040.2 L560.8 1039.1 L563.5 1038.0 L566.2 1036.9 L568.9 1035.9 L571.6 1034.8 L574.3 1033.7 L577.0 1032.7" fill="none" stroke="#dda0dd" stroke-width="1.1" stroke-dasharray="3.7 3.7"/>
<circle cx="144.8" cy="1130.0" r="2.1" fill="none" stroke="#dda0dd" stroke-width="1"/>
<circle cx="158.3" cy="1129.4" r="2.1" fill="none" stroke="#dda0dd" stroke-width="1"/>
<circle cx="171.8" cy="1128.8" r="2.1" fill="none" stroke="#dda0dd" stroke-width="1"/>
<circle cx="185.3" cy="1128.0" r="2.1" fill="none" stroke="#dda0dd" stroke-width="1"/>
<circle cx="198.8" cy="1127.4" r="2.1" fill="none" stroke="#dda0dd" stroke-width="1"/>
<circle cx="212.3" cy="1126.5" r="2.1" fill="none" stroke="#dda0dd" stroke-width="1"/>
<circle cx="225.8" cy="1125.8" r="2.1" fill="none" stroke="#dda0dd" stroke-width="1"/>
<circle cx="239.4" cy="1124.9" r="2.1" fill="none" stroke="#dda0dd" stroke-width="1"/>
<circle cx="252.9" cy="1124.1" r="2.1" fill="none" stroke="#dda0dd" stroke-width="1"/>
<circle cx="266.4" cy="1123.1" r="2.1" fill="none" stroke="#dda0dd" stroke-width="1"/>
<circle cx="279.9" cy="1122.0" r="2.1" fill="none" stroke="#dda0dd" stroke-width="1"/>
<circle cx="293.4" cy="1120.0" r="2.1" fill="none" stroke="#dda0dd" stroke-width="1"/>
<circle cx="306.9" cy="1119.5" r="2.1" fill="none" stroke="#dda0dd" stroke-width="1"/>
<circle cx="320.4" cy="1119.0" r="2.1" fill="none" stroke="#dda0dd" stroke-width="1"/>
<circle cx="333.9" cy="1116.3" r="2.1" fill="none" stroke="#dda0dd" stroke-width="1"/>
<circle cx="347.4" cy="1113.6" r="2.1" fill="none" stroke="#dda0dd" stroke-width="1"/>
<circle cx="360.9" cy="1110.4" r="2.1" fill="none" stroke="#dda0dd" stroke-width="1"/>
<circle cx="374.4" cy="1107.8" r="2.1" fill="none" stroke="#dda0dd" stroke-width="1"/>
<circle cx="387.9" cy="1105.0" r="2.1" fill="none" stroke="#dda0dd" stroke-width="1"/>
<circle cx="401.4" cy="1099.8" r="2.1" fill="none" stroke="#dda0dd" stroke-width="1"/>
<circle cx="414.9" cy="1093.9" r="2.1" fill="none" stroke="#dda0dd" stroke-width="1"/>
<circle cx="428.4" cy="1089.3" r="2.1" fill="none" stroke="#dda0dd" stroke-width="1"/>
<circle cx="441.9" cy="1083.0" r="2.1" fill="none" stroke="#dda0dd" stroke-width="1"/>
<circle cx="455.4" cy="1077.8" r="2.1" fill="none" stroke="#dda0dd" stroke-width="1"/>
<circle cx="468.9" cy="1072.8" r="2.1" fill="none" stroke="#dda0dd" stroke-width="1"/>
<circle cx="482.5" cy="1067.3" r="2.1" fill="none" stroke="#dda0dd" stroke-width="1"/>
<circle cx="496.0" cy="1062.1" r="2.1" fill="none" stroke="#dda0dd" stroke-width="1"/>
<circle cx="509.5" cy="1056.8" r="2.1" fill="none" stroke="#dda0dd" stroke-width="1"/>
<circle cx="523.0" cy="1052.3" r="2.1" fill="none" stroke="#dda0dd" stroke-width="1"/>
<circle cx="536.5" cy="1048.0" r="2.1" fill="none" stroke="#dda0dd" stroke-width="1"/>
<circle cx="550.0" cy="1043.3" r="2.1" fill="none" stroke="#dda0dd" stroke-width="1"/>
<circle cx="563.5" cy="1038.0" r="2.1" fill="none" stroke="#dda0dd" stroke-width="1"/>
<rect x="104.5" y="815.0" width="486.2" height="320.3" fill="none" stroke="#3a3a3a" stroke-width="1.3"/>
<path d="M118.0 1135.3v-5.5M118.0 815.0v5.5M131.5 1135.3v-5.5M131.5 815.0v5.5M145.0 1135.3v-5.5M145.0 815.0v5.5M158.5 1135.3v-11.5M158.5 815.0v11.5M172.0 1135.3v-5.5M172.0 815.0v5.5M185.5 1135.3v-5.5M185.5 815.0v5.5M199.0 1135.3v-5.5M199.0 815.0v5.5M212.5 1135.3v-11.5M212.5 815.0v11.5M226.1 1135.3v-5.5M226.1 815.0v5.5M239.6 1135.3v-5.5M239.6 815.0v5.5M253.1 1135.3v-5.5M253.1 815.0v5.5M266.6 1135.3v-11.5M266.6 815.0v11.5M280.1 1135.3v-5.5M280.1 815.0v5.5M293.6 1135.3v-5.5M293.6 815.0v5.5M307.1 1135.3v-5.5M307.1 815.0v5.5M320.6 1135.3v-11.5M320.6 815.0v11.5M334.1 1135.3v-5.5M334.1 815.0v5.5M347.6 1135.3v-5.5M347.6 815.0v5.5M361.1 1135.3v-5.5M361.1 815.0v5.5M374.6 1135.3v-11.5M374.6 815.0v11.5M388.1 1135.3v-5.5M388.1 815.0v5.5M401.6 1135.3v-5.5M401.6 815.0v5.5M415.1 1135.3v-5.5M415.1 815.0v5.5M428.6 1135.3v-11.5M428.6 815.0v11.5M442.1 1135.3v-5.5M442.1 815.0v5.5M455.6 1135.3v-5.5M455.6 815.0v5.5M469.1 1135.3v-5.5M469.1 815.0v5.5M482.7 1135.3v-11.5M482.7 815.0v11.5M496.2 1135.3v-5.5M496.2 815.0v5.5M509.7 1135.3v-5.5M509.7 815.0v5.5M523.2 1135.3v-5.5M523.2 815.0v5.5M536.7 1135.3v-11.5M536.7 815.0v11.5M550.2 1135.3v-5.5M550.2 815.0v5.5M563.7 1135.3v-5.5M563.7 815.0v5.5M577.2 1135.3v-5.5M577.2 815.0v5.5" stroke="#3a3a3a" stroke-width="1.15" fill="none"/>
<path d="M104.5 1122.0h5.5M590.7 1122.0h-5.5M104.5 1108.6h5.5M590.7 1108.6h-5.5M104.5 1095.3h5.5M590.7 1095.3h-5.5M104.5 1081.9h11.5M590.7 1081.9h-11.5M104.5 1068.6h5.5M590.7 1068.6h-5.5M104.5 1055.2h5.5M590.7 1055.2h-5.5M104.5 1041.9h5.5M590.7 1041.9h-5.5M104.5 1028.5h11.5M590.7 1028.5h-11.5M104.5 1015.2h5.5M590.7 1015.2h-5.5M104.5 1001.8h5.5M590.7 1001.8h-5.5M104.5 988.5h5.5M590.7 988.5h-5.5M104.5 975.1h11.5M590.7 975.1h-11.5M104.5 961.8h5.5M590.7 961.8h-5.5M104.5 948.5h5.5M590.7 948.5h-5.5M104.5 935.1h5.5M590.7 935.1h-5.5M104.5 921.8h11.5M590.7 921.8h-11.5M104.5 908.4h5.5M590.7 908.4h-5.5M104.5 895.1h5.5M590.7 895.1h-5.5M104.5 881.7h5.5M590.7 881.7h-5.5M104.5 868.4h11.5M590.7 868.4h-11.5M104.5 855.0h5.5M590.7 855.0h-5.5M104.5 841.7h5.5M590.7 841.7h-5.5M104.5 828.3h5.5M590.7 828.3h-5.5" stroke="#3a3a3a" stroke-width="1.15" fill="none"/>
<text x="93.6" y="1142.2" text-anchor="end" font-size="19">0</text>
<text x="607.5" y="1142.2" text-anchor="start" font-size="19">0</text>
<text x="93.6" y="1088.8" text-anchor="end" font-size="19">5</text>
<text x="607.5" y="1088.8" text-anchor="start" font-size="19">5</text>
<text x="93.6" y="1035.4" text-anchor="end" font-size="19">10</text>
<text x="607.5" y="1035.4" text-anchor="start" font-size="19">10</text>
<text x="93.6" y="982.0" text-anchor="end" font-size="19">15</text>
<text x="607.5" y="982.0" text-anchor="start" font-size="19">15</text>
<text x="93.6" y="928.7" text-anchor="end" font-size="19">20</text>
<text x="607.5" y="928.7" text-anchor="start" font-size="19">20</text>
<text x="93.6" y="875.3" text-anchor="end" font-size="19">25</text>
<text x="607.5" y="875.3" text-anchor="start" font-size="19">25</text>
<text x="93.6" y="821.9" text-anchor="end" font-size="19">30</text>
<text x="607.5" y="821.9" text-anchor="start" font-size="19">30</text>
<text x="107.7" y="1160.4" text-anchor="middle" font-size="19">100</text>
<text x="161.7" y="1160.4" text-anchor="middle" font-size="19">120</text>
<text x="215.7" y="1160.4" text-anchor="middle" font-size="19">140</text>
<text x="269.8" y="1160.4" text-anchor="middle" font-size="19">160</text>
<text x="323.8" y="1160.4" text-anchor="middle" font-size="19">180</text>
<text x="377.8" y="1160.4" text-anchor="middle" font-size="19">200</text>
<text x="431.8" y="1160.4" text-anchor="middle" font-size="19">220</text>
<text x="485.9" y="1160.4" text-anchor="middle" font-size="19">240</text>
<text x="539.9" y="1160.4" text-anchor="middle" font-size="19">260</text>
<text x="593.9" y="1160.4" text-anchor="middle" font-size="19">280</text>
<text x="347.0" y="1187.7" text-anchor="middle" font-size="19">T (K)</text>
<path d="M149 867.7H198.3" stroke="#555" stroke-width="1.2"/>
<circle cx="173.4" cy="867.7" r="2.5" fill="#fff" stroke="#555" stroke-width="1"/>
<path d="M149 890H198.3" stroke="#555" stroke-width="1.2" stroke-dasharray="3.7 3.7"/>
<circle cx="173.4" cy="890" r="2.5" fill="#fff" stroke="#555" stroke-width="1"/>
<text x="209.5" y="872.1" font-size="18">D<tspan dy="5.6" font-size="15">Ar</tspan></text>
<text x="209.5" y="894.9" font-size="18">D<tspan dy="5.6" font-size="15">Kr</tspan></text>
<text x="3.5" y="843" font-size="33" font-weight="bold">(c)</text>
<text transform="translate(23.3,975.6) rotate(-90)" text-anchor="middle" font-size="19">D<tspan dy="5.6" font-size="15">Ar</tspan><tspan dy="-5.6"> (&#197;</tspan><tspan dy="-9.5" font-size="15">2</tspan><tspan dy="9.5">/ps)</tspan></text>
<text transform="translate(665.3,975.6) rotate(-90)" text-anchor="middle" font-size="19">D<tspan dy="5.6" font-size="15">Kr</tspan><tspan dy="-5.6"> (&#197;</tspan><tspan dy="-9.5" font-size="15">2</tspan><tspan dy="9.5">/ps)</tspan></text>
<text x="109.8" y="1214.9" text-anchor="end" font-size="19">65 atm</text>
<path d="M121.1 1208.9H170.5" stroke="#9400d3" stroke-width="1.8"/>
<text x="109.8" y="1233.7" text-anchor="end" font-size="19">75 atm</text>
<path d="M121.1 1227.6H170.5" stroke="#2e8b57" stroke-width="1.8"/>
<text x="259.8" y="1214.9" text-anchor="end" font-size="19">85 atm</text>
<path d="M271.1 1208.9H320.5" stroke="#00f0f0" stroke-width="1.8"/>
<text x="259.8" y="1233.7" text-anchor="end" font-size="19">95 atm</text>
<path d="M271.1 1227.6H320.5" stroke="#8b0000" stroke-width="1.8"/>
<text x="409.8" y="1214.9" text-anchor="end" font-size="19">105 atm</text>
<path d="M421.1 1208.9H470.5" stroke="#0000ff" stroke-width="1.8"/>
<text x="409.8" y="1233.7" text-anchor="end" font-size="19">115 atm</text>
<path d="M421.1 1227.6H470.5" stroke="#ff0000" stroke-width="1.8"/>
<text x="559.8" y="1214.9" text-anchor="end" font-size="19">125 atm</text>
<path d="M571.1 1208.9H620.5" stroke="#000000" stroke-width="1.8"/>
<text x="559.8" y="1233.7" text-anchor="end" font-size="19">140 atm</text>
<path d="M571.1 1227.6H620.5" stroke="#dda0dd" stroke-width="1.8"/>
</svg>
</body></html>
